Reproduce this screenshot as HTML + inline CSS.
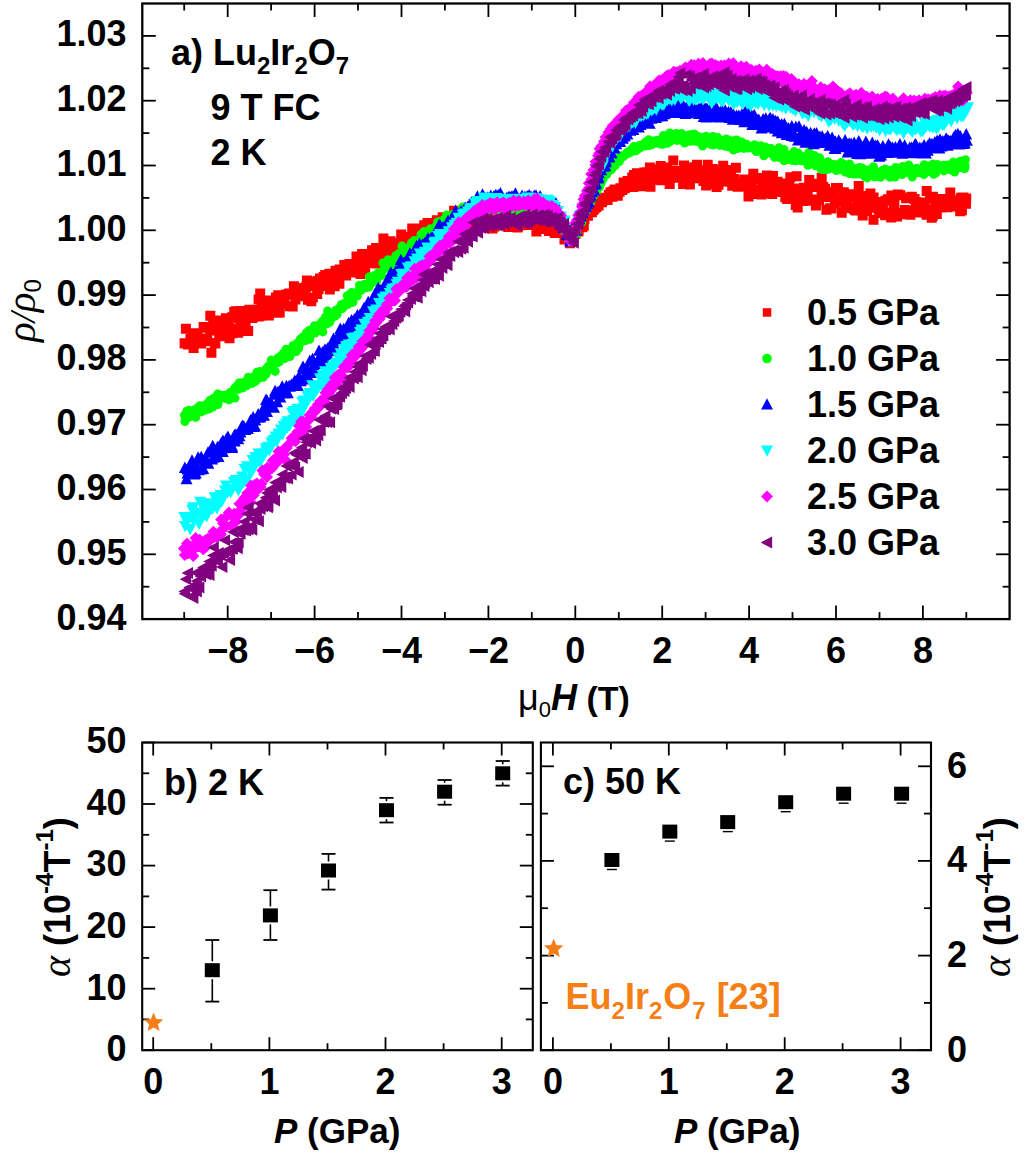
<!DOCTYPE html>
<html><head><meta charset="utf-8"><style>html,body{margin:0;padding:0;background:#fff;overflow:hidden}svg{display:block}</style></head>
<body><svg width="1025" height="1158" viewBox="0 0 1025 1158">
<rect width="1025" height="1158" fill="#fff"/>
<clipPath id="ca"><rect x="142.3" y="3.5" width="867.3" height="615.6"/></clipPath>
<g clip-path="url(#ca)">
<path fill="#ff0000" d="M179.6 338.3h10.0v10.0h-10.0zM180.9 323.7h10.0v10.0h-10.0zM185.4 334.0h10.0v10.0h-10.0zM187.3 330.1h10.0v10.0h-10.0zM189.7 328.3h10.0v10.0h-10.0zM192.3 331.0h10.0v10.0h-10.0zM194.7 333.4h10.0v10.0h-10.0zM198.6 322.1h10.0v10.0h-10.0zM201.2 322.8h10.0v10.0h-10.0zM202.2 333.9h10.0v10.0h-10.0zM205.3 310.7h10.0v10.0h-10.0zM208.2 317.0h10.0v10.0h-10.0zM211.4 325.0h10.0v10.0h-10.0zM211.8 315.5h10.0v10.0h-10.0zM216.4 321.6h10.0v10.0h-10.0zM219.5 318.6h10.0v10.0h-10.0zM220.9 313.2h10.0v10.0h-10.0zM223.7 322.8h10.0v10.0h-10.0zM227.1 312.3h10.0v10.0h-10.0zM229.2 306.9h10.0v10.0h-10.0zM230.8 306.2h10.0v10.0h-10.0zM233.5 313.5h10.0v10.0h-10.0zM236.2 306.1h10.0v10.0h-10.0zM238.6 318.0h10.0v10.0h-10.0zM242.0 309.2h10.0v10.0h-10.0zM244.3 304.8h10.0v10.0h-10.0zM247.3 312.9h10.0v10.0h-10.0zM250.3 305.1h10.0v10.0h-10.0zM253.6 294.5h10.0v10.0h-10.0zM255.2 288.6h10.0v10.0h-10.0zM256.6 297.0h10.0v10.0h-10.0zM261.2 295.5h10.0v10.0h-10.0zM262.9 303.6h10.0v10.0h-10.0zM266.3 303.7h10.0v10.0h-10.0zM267.9 303.7h10.0v10.0h-10.0zM271.0 292.5h10.0v10.0h-10.0zM273.3 290.3h10.0v10.0h-10.0zM276.0 296.5h10.0v10.0h-10.0zM279.4 298.4h10.0v10.0h-10.0zM280.9 289.7h10.0v10.0h-10.0zM284.0 288.4h10.0v10.0h-10.0zM286.6 289.6h10.0v10.0h-10.0zM288.9 281.3h10.0v10.0h-10.0zM290.4 287.4h10.0v10.0h-10.0zM294.5 286.2h10.0v10.0h-10.0zM295.2 290.5h10.0v10.0h-10.0zM298.7 282.9h10.0v10.0h-10.0zM301.9 275.5h10.0v10.0h-10.0zM305.1 281.0h10.0v10.0h-10.0zM307.9 279.7h10.0v10.0h-10.0zM310.5 276.6h10.0v10.0h-10.0zM313.0 276.1h10.0v10.0h-10.0zM315.0 273.5h10.0v10.0h-10.0zM318.6 272.0h10.0v10.0h-10.0zM320.3 270.1h10.0v10.0h-10.0zM323.8 276.0h10.0v10.0h-10.0zM324.4 268.8h10.0v10.0h-10.0zM327.8 277.1h10.0v10.0h-10.0zM330.6 265.8h10.0v10.0h-10.0zM333.6 272.2h10.0v10.0h-10.0zM334.7 264.4h10.0v10.0h-10.0zM339.3 260.0h10.0v10.0h-10.0zM342.0 263.1h10.0v10.0h-10.0zM344.5 258.9h10.0v10.0h-10.0zM346.3 266.4h10.0v10.0h-10.0zM350.1 260.9h10.0v10.0h-10.0zM351.5 251.5h10.0v10.0h-10.0zM355.0 259.7h10.0v10.0h-10.0zM357.1 249.0h10.0v10.0h-10.0zM359.7 258.2h10.0v10.0h-10.0zM362.2 254.4h10.0v10.0h-10.0zM364.9 254.0h10.0v10.0h-10.0zM368.2 247.0h10.0v10.0h-10.0zM371.1 242.9h10.0v10.0h-10.0zM373.7 249.9h10.0v10.0h-10.0zM376.0 244.0h10.0v10.0h-10.0zM378.4 233.4h10.0v10.0h-10.0zM380.9 242.2h10.0v10.0h-10.0zM384.3 243.6h10.0v10.0h-10.0zM385.6 236.2h10.0v10.0h-10.0zM388.1 238.2h10.0v10.0h-10.0zM391.1 239.6h10.0v10.0h-10.0zM392.7 244.1h10.0v10.0h-10.0zM396.2 229.5h10.0v10.0h-10.0zM398.9 235.8h10.0v10.0h-10.0zM401.0 231.9h10.0v10.0h-10.0zM403.8 236.6h10.0v10.0h-10.0zM407.2 223.5h10.0v10.0h-10.0zM409.3 225.5h10.0v10.0h-10.0zM412.1 223.4h10.0v10.0h-10.0zM415.3 228.0h10.0v10.0h-10.0zM416.9 223.8h10.0v10.0h-10.0zM419.2 220.2h10.0v10.0h-10.0zM422.5 218.0h10.0v10.0h-10.0zM425.4 220.0h10.0v10.0h-10.0zM426.6 220.2h10.0v10.0h-10.0zM430.7 220.1h10.0v10.0h-10.0zM432.8 220.6h10.0v10.0h-10.0zM435.3 220.3h10.0v10.0h-10.0zM437.7 212.3h10.0v10.0h-10.0zM440.7 214.7h10.0v10.0h-10.0zM444.0 223.0h10.0v10.0h-10.0zM446.4 212.7h10.0v10.0h-10.0zM449.1 205.7h10.0v10.0h-10.0zM451.1 211.9h10.0v10.0h-10.0zM454.8 219.5h10.0v10.0h-10.0zM457.3 210.0h10.0v10.0h-10.0zM459.1 204.8h10.0v10.0h-10.0zM460.2 207.4h10.0v10.0h-10.0zM464.4 210.4h10.0v10.0h-10.0zM468.6 199.0h10.0v10.0h-10.0zM469.6 199.0h10.0v10.0h-10.0zM471.6 208.7h10.0v10.0h-10.0zM475.8 204.7h10.0v10.0h-10.0zM477.1 207.0h10.0v10.0h-10.0zM480.4 205.6h10.0v10.0h-10.0zM483.1 203.3h10.0v10.0h-10.0zM484.4 206.4h10.0v10.0h-10.0zM488.0 209.8h10.0v10.0h-10.0zM491.2 213.1h10.0v10.0h-10.0zM492.9 214.0h10.0v10.0h-10.0zM496.1 211.5h10.0v10.0h-10.0zM498.4 207.9h10.0v10.0h-10.0zM501.6 211.3h10.0v10.0h-10.0zM504.7 212.5h10.0v10.0h-10.0zM505.6 212.2h10.0v10.0h-10.0zM508.7 213.1h10.0v10.0h-10.0zM511.7 211.7h10.0v10.0h-10.0zM513.7 217.1h10.0v10.0h-10.0zM516.2 220.0h10.0v10.0h-10.0zM519.1 215.4h10.0v10.0h-10.0zM521.7 217.9h10.0v10.0h-10.0zM524.1 209.5h10.0v10.0h-10.0zM527.3 215.3h10.0v10.0h-10.0zM530.2 215.9h10.0v10.0h-10.0zM532.8 220.3h10.0v10.0h-10.0zM535.4 215.0h10.0v10.0h-10.0zM538.3 218.2h10.0v10.0h-10.0zM539.4 213.2h10.0v10.0h-10.0zM542.8 214.6h10.0v10.0h-10.0zM545.6 220.2h10.0v10.0h-10.0zM548.4 217.2h10.0v10.0h-10.0zM549.7 227.9h10.0v10.0h-10.0zM554.4 222.6h10.0v10.0h-10.0zM555.4 218.0h10.0v10.0h-10.0zM558.7 221.0h10.0v10.0h-10.0zM561.6 225.7h10.0v10.0h-10.0zM564.4 228.9h10.0v10.0h-10.0zM566.0 234.1h10.0v10.0h-10.0zM568.7 232.4h10.0v10.0h-10.0zM571.8 226.7h10.0v10.0h-10.0zM574.6 221.6h10.0v10.0h-10.0zM577.4 222.3h10.0v10.0h-10.0zM579.4 213.9h10.0v10.0h-10.0zM581.7 209.7h10.0v10.0h-10.0zM583.9 205.9h10.0v10.0h-10.0zM588.4 205.1h10.0v10.0h-10.0zM589.1 201.8h10.0v10.0h-10.0zM593.0 198.4h10.0v10.0h-10.0zM595.3 197.3h10.0v10.0h-10.0zM598.2 195.3h10.0v10.0h-10.0zM601.0 192.8h10.0v10.0h-10.0zM603.8 189.8h10.0v10.0h-10.0zM605.6 187.2h10.0v10.0h-10.0zM608.5 186.3h10.0v10.0h-10.0zM609.7 184.5h10.0v10.0h-10.0zM613.5 184.5h10.0v10.0h-10.0zM615.5 183.2h10.0v10.0h-10.0zM618.6 177.5h10.0v10.0h-10.0zM622.1 178.6h10.0v10.0h-10.0zM624.0 177.0h10.0v10.0h-10.0zM627.2 172.6h10.0v10.0h-10.0zM629.0 170.0h10.0v10.0h-10.0zM632.0 168.2h10.0v10.0h-10.0zM634.1 169.3h10.0v10.0h-10.0zM635.5 169.5h10.0v10.0h-10.0zM639.2 167.5h10.0v10.0h-10.0zM642.1 167.3h10.0v10.0h-10.0zM644.9 162.6h10.0v10.0h-10.0zM647.5 166.3h10.0v10.0h-10.0zM650.0 164.6h10.0v10.0h-10.0zM653.3 166.9h10.0v10.0h-10.0zM655.7 161.0h10.0v10.0h-10.0zM657.7 174.9h10.0v10.0h-10.0zM661.1 164.5h10.0v10.0h-10.0zM662.0 162.6h10.0v10.0h-10.0zM665.6 171.0h10.0v10.0h-10.0zM668.3 155.5h10.0v10.0h-10.0zM671.8 166.1h10.0v10.0h-10.0zM673.3 166.1h10.0v10.0h-10.0zM675.4 170.6h10.0v10.0h-10.0zM679.0 160.5h10.0v10.0h-10.0zM682.5 164.0h10.0v10.0h-10.0zM684.0 168.4h10.0v10.0h-10.0zM686.6 164.3h10.0v10.0h-10.0zM689.2 162.2h10.0v10.0h-10.0zM692.0 159.7h10.0v10.0h-10.0zM695.3 165.2h10.0v10.0h-10.0zM698.3 171.6h10.0v10.0h-10.0zM700.1 169.8h10.0v10.0h-10.0zM702.3 179.1h10.0v10.0h-10.0zM706.1 171.2h10.0v10.0h-10.0zM707.7 163.9h10.0v10.0h-10.0zM710.3 165.6h10.0v10.0h-10.0zM712.7 168.9h10.0v10.0h-10.0zM715.3 170.5h10.0v10.0h-10.0zM718.2 160.8h10.0v10.0h-10.0zM720.5 167.9h10.0v10.0h-10.0zM723.6 165.0h10.0v10.0h-10.0zM726.0 168.1h10.0v10.0h-10.0zM728.9 174.0h10.0v10.0h-10.0zM730.9 162.8h10.0v10.0h-10.0zM733.7 177.7h10.0v10.0h-10.0zM736.6 177.9h10.0v10.0h-10.0zM739.1 174.4h10.0v10.0h-10.0zM741.7 176.3h10.0v10.0h-10.0zM745.0 175.9h10.0v10.0h-10.0zM746.2 176.5h10.0v10.0h-10.0zM748.3 168.7h10.0v10.0h-10.0zM752.5 174.0h10.0v10.0h-10.0zM754.6 172.9h10.0v10.0h-10.0zM758.1 183.4h10.0v10.0h-10.0zM759.9 180.0h10.0v10.0h-10.0zM761.9 170.5h10.0v10.0h-10.0zM766.5 182.9h10.0v10.0h-10.0zM768.0 171.1h10.0v10.0h-10.0zM770.1 183.1h10.0v10.0h-10.0zM772.6 176.8h10.0v10.0h-10.0zM776.0 183.3h10.0v10.0h-10.0zM777.9 178.4h10.0v10.0h-10.0zM781.1 184.6h10.0v10.0h-10.0zM784.2 181.8h10.0v10.0h-10.0zM785.3 172.3h10.0v10.0h-10.0zM788.5 183.4h10.0v10.0h-10.0zM791.6 171.3h10.0v10.0h-10.0zM794.9 184.7h10.0v10.0h-10.0zM797.1 188.9h10.0v10.0h-10.0zM798.9 182.8h10.0v10.0h-10.0zM802.7 185.8h10.0v10.0h-10.0zM804.2 174.9h10.0v10.0h-10.0zM806.9 180.0h10.0v10.0h-10.0zM809.9 178.7h10.0v10.0h-10.0zM811.6 182.0h10.0v10.0h-10.0zM816.7 172.9h10.0v10.0h-10.0zM818.2 182.0h10.0v10.0h-10.0zM820.2 183.8h10.0v10.0h-10.0zM822.4 191.3h10.0v10.0h-10.0zM824.6 192.1h10.0v10.0h-10.0zM828.2 186.9h10.0v10.0h-10.0zM831.0 183.1h10.0v10.0h-10.0zM832.9 183.0h10.0v10.0h-10.0zM835.7 194.2h10.0v10.0h-10.0zM838.8 187.2h10.0v10.0h-10.0zM841.0 189.6h10.0v10.0h-10.0zM842.5 197.0h10.0v10.0h-10.0zM846.7 189.2h10.0v10.0h-10.0zM849.0 204.3h10.0v10.0h-10.0zM851.9 191.9h10.0v10.0h-10.0zM853.7 181.1h10.0v10.0h-10.0zM855.5 199.8h10.0v10.0h-10.0zM858.6 195.0h10.0v10.0h-10.0zM862.1 205.4h10.0v10.0h-10.0zM865.8 199.9h10.0v10.0h-10.0zM868.6 192.4h10.0v10.0h-10.0zM870.0 202.0h10.0v10.0h-10.0zM871.5 196.9h10.0v10.0h-10.0zM874.8 198.6h10.0v10.0h-10.0zM877.9 198.7h10.0v10.0h-10.0zM880.5 195.8h10.0v10.0h-10.0zM882.9 194.3h10.0v10.0h-10.0zM886.3 190.4h10.0v10.0h-10.0zM887.6 192.5h10.0v10.0h-10.0zM889.4 199.7h10.0v10.0h-10.0zM892.8 189.5h10.0v10.0h-10.0zM895.3 190.3h10.0v10.0h-10.0zM899.9 204.9h10.0v10.0h-10.0zM901.1 193.3h10.0v10.0h-10.0zM903.0 192.5h10.0v10.0h-10.0zM906.8 191.8h10.0v10.0h-10.0zM909.6 194.0h10.0v10.0h-10.0zM911.7 203.5h10.0v10.0h-10.0zM914.4 198.2h10.0v10.0h-10.0zM917.5 207.5h10.0v10.0h-10.0zM919.8 197.6h10.0v10.0h-10.0zM921.7 186.1h10.0v10.0h-10.0zM925.1 192.9h10.0v10.0h-10.0zM927.9 191.8h10.0v10.0h-10.0zM930.2 198.4h10.0v10.0h-10.0zM933.1 200.6h10.0v10.0h-10.0zM935.5 200.5h10.0v10.0h-10.0zM937.7 193.9h10.0v10.0h-10.0zM940.3 198.3h10.0v10.0h-10.0zM943.4 197.1h10.0v10.0h-10.0zM945.3 187.5h10.0v10.0h-10.0zM949.0 201.6h10.0v10.0h-10.0zM951.6 199.6h10.0v10.0h-10.0zM952.3 195.2h10.0v10.0h-10.0zM956.1 192.7h10.0v10.0h-10.0zM958.3 192.6h10.0v10.0h-10.0zM961.0 198.8h10.0v10.0h-10.0zM180.6 338.6h10.0v10.0h-10.0zM183.1 339.6h10.0v10.0h-10.0zM186.1 336.3h10.0v10.0h-10.0zM188.6 343.0h10.0v10.0h-10.0zM191.2 335.4h10.0v10.0h-10.0zM193.2 334.7h10.0v10.0h-10.0zM196.0 338.4h10.0v10.0h-10.0zM199.7 335.3h10.0v10.0h-10.0zM200.0 336.2h10.0v10.0h-10.0zM205.1 325.4h10.0v10.0h-10.0zM206.4 347.7h10.0v10.0h-10.0zM210.0 338.1h10.0v10.0h-10.0zM210.4 338.5h10.0v10.0h-10.0zM214.3 330.7h10.0v10.0h-10.0zM217.7 331.3h10.0v10.0h-10.0zM219.9 329.0h10.0v10.0h-10.0zM223.0 322.1h10.0v10.0h-10.0zM224.5 333.3h10.0v10.0h-10.0zM227.3 328.2h10.0v10.0h-10.0zM229.9 323.9h10.0v10.0h-10.0zM233.2 327.8h10.0v10.0h-10.0zM235.8 318.5h10.0v10.0h-10.0zM238.0 317.5h10.0v10.0h-10.0zM240.6 321.7h10.0v10.0h-10.0zM243.2 326.0h10.0v10.0h-10.0zM246.0 307.3h10.0v10.0h-10.0zM248.0 311.9h10.0v10.0h-10.0zM251.1 310.9h10.0v10.0h-10.0zM253.7 311.5h10.0v10.0h-10.0zM256.1 310.7h10.0v10.0h-10.0zM258.7 305.2h10.0v10.0h-10.0zM262.5 308.4h10.0v10.0h-10.0zM263.9 310.4h10.0v10.0h-10.0zM267.1 302.3h10.0v10.0h-10.0zM270.3 304.6h10.0v10.0h-10.0zM272.6 307.8h10.0v10.0h-10.0zM274.7 307.4h10.0v10.0h-10.0zM277.9 295.6h10.0v10.0h-10.0zM279.1 297.4h10.0v10.0h-10.0zM281.8 289.4h10.0v10.0h-10.0zM284.9 301.3h10.0v10.0h-10.0zM287.7 301.4h10.0v10.0h-10.0zM290.4 294.4h10.0v10.0h-10.0zM294.2 288.3h10.0v10.0h-10.0zM296.7 291.3h10.0v10.0h-10.0zM298.2 291.0h10.0v10.0h-10.0zM301.0 282.3h10.0v10.0h-10.0zM303.0 294.8h10.0v10.0h-10.0zM306.3 296.3h10.0v10.0h-10.0zM307.9 292.4h10.0v10.0h-10.0zM312.2 288.9h10.0v10.0h-10.0zM313.6 284.0h10.0v10.0h-10.0zM316.9 279.3h10.0v10.0h-10.0zM318.4 281.0h10.0v10.0h-10.0zM322.6 273.8h10.0v10.0h-10.0zM324.8 284.4h10.0v10.0h-10.0zM328.2 268.7h10.0v10.0h-10.0zM329.7 281.3h10.0v10.0h-10.0zM331.3 269.4h10.0v10.0h-10.0zM334.4 278.8h10.0v10.0h-10.0zM336.7 270.6h10.0v10.0h-10.0zM341.1 270.5h10.0v10.0h-10.0zM342.4 266.6h10.0v10.0h-10.0zM344.9 263.8h10.0v10.0h-10.0zM348.3 267.4h10.0v10.0h-10.0zM350.7 265.2h10.0v10.0h-10.0zM353.5 262.2h10.0v10.0h-10.0zM355.5 268.9h10.0v10.0h-10.0zM357.2 264.5h10.0v10.0h-10.0zM360.2 267.8h10.0v10.0h-10.0zM362.3 258.0h10.0v10.0h-10.0zM367.0 245.2h10.0v10.0h-10.0zM369.4 251.6h10.0v10.0h-10.0zM371.3 258.6h10.0v10.0h-10.0zM374.5 256.5h10.0v10.0h-10.0zM377.1 246.5h10.0v10.0h-10.0zM379.7 252.7h10.0v10.0h-10.0zM382.3 257.4h10.0v10.0h-10.0zM385.1 253.2h10.0v10.0h-10.0zM387.2 252.2h10.0v10.0h-10.0zM388.5 250.8h10.0v10.0h-10.0zM390.8 240.9h10.0v10.0h-10.0zM395.8 243.0h10.0v10.0h-10.0zM398.0 250.1h10.0v10.0h-10.0zM398.8 244.2h10.0v10.0h-10.0zM403.0 246.5h10.0v10.0h-10.0zM405.0 246.0h10.0v10.0h-10.0zM407.8 246.7h10.0v10.0h-10.0zM409.2 229.0h10.0v10.0h-10.0zM413.8 238.6h10.0v10.0h-10.0zM415.9 233.0h10.0v10.0h-10.0zM419.1 230.2h10.0v10.0h-10.0zM421.9 235.2h10.0v10.0h-10.0zM424.6 228.8h10.0v10.0h-10.0zM427.4 227.0h10.0v10.0h-10.0zM429.2 227.0h10.0v10.0h-10.0zM431.8 215.3h10.0v10.0h-10.0zM433.9 223.6h10.0v10.0h-10.0zM437.2 225.0h10.0v10.0h-10.0zM439.4 219.5h10.0v10.0h-10.0zM441.4 212.9h10.0v10.0h-10.0zM445.5 216.2h10.0v10.0h-10.0zM447.8 223.1h10.0v10.0h-10.0zM448.4 224.4h10.0v10.0h-10.0zM451.5 224.1h10.0v10.0h-10.0zM455.1 222.1h10.0v10.0h-10.0zM457.0 216.2h10.0v10.0h-10.0zM461.2 213.3h10.0v10.0h-10.0zM463.2 228.9h10.0v10.0h-10.0zM466.0 217.0h10.0v10.0h-10.0zM468.9 222.0h10.0v10.0h-10.0zM471.7 213.3h10.0v10.0h-10.0zM473.4 212.2h10.0v10.0h-10.0zM476.5 219.9h10.0v10.0h-10.0zM478.9 218.5h10.0v10.0h-10.0zM481.9 220.6h10.0v10.0h-10.0zM484.3 215.1h10.0v10.0h-10.0zM487.5 223.4h10.0v10.0h-10.0zM489.5 221.5h10.0v10.0h-10.0zM491.5 219.9h10.0v10.0h-10.0zM494.5 213.1h10.0v10.0h-10.0zM496.4 209.4h10.0v10.0h-10.0zM499.9 217.9h10.0v10.0h-10.0zM503.2 222.1h10.0v10.0h-10.0zM504.6 218.1h10.0v10.0h-10.0zM506.5 221.2h10.0v10.0h-10.0zM510.1 217.3h10.0v10.0h-10.0zM512.5 222.4h10.0v10.0h-10.0zM515.4 220.3h10.0v10.0h-10.0zM517.6 219.4h10.0v10.0h-10.0zM520.7 218.0h10.0v10.0h-10.0zM522.6 220.1h10.0v10.0h-10.0zM526.8 216.2h10.0v10.0h-10.0zM528.3 220.0h10.0v10.0h-10.0zM531.4 226.4h10.0v10.0h-10.0zM534.2 218.2h10.0v10.0h-10.0zM536.2 222.4h10.0v10.0h-10.0zM539.2 224.0h10.0v10.0h-10.0zM541.4 217.7h10.0v10.0h-10.0zM543.9 226.0h10.0v10.0h-10.0zM546.6 223.3h10.0v10.0h-10.0zM549.7 226.6h10.0v10.0h-10.0zM551.2 221.2h10.0v10.0h-10.0zM554.1 227.7h10.0v10.0h-10.0zM556.7 227.3h10.0v10.0h-10.0zM559.5 234.6h10.0v10.0h-10.0zM563.2 228.6h10.0v10.0h-10.0zM565.1 238.3h10.0v10.0h-10.0zM567.5 231.8h10.0v10.0h-10.0zM570.4 228.9h10.0v10.0h-10.0zM573.6 226.3h10.0v10.0h-10.0zM575.1 221.7h10.0v10.0h-10.0zM578.8 220.8h10.0v10.0h-10.0zM579.4 214.2h10.0v10.0h-10.0zM582.9 210.8h10.0v10.0h-10.0zM586.9 207.3h10.0v10.0h-10.0zM589.6 203.4h10.0v10.0h-10.0zM591.4 201.9h10.0v10.0h-10.0zM593.6 200.5h10.0v10.0h-10.0zM597.0 197.2h10.0v10.0h-10.0zM598.8 192.9h10.0v10.0h-10.0zM602.6 195.0h10.0v10.0h-10.0zM605.0 191.4h10.0v10.0h-10.0zM607.4 191.8h10.0v10.0h-10.0zM609.1 186.6h10.0v10.0h-10.0zM612.8 190.7h10.0v10.0h-10.0zM614.6 186.8h10.0v10.0h-10.0zM617.3 185.1h10.0v10.0h-10.0zM619.8 183.2h10.0v10.0h-10.0zM622.6 176.1h10.0v10.0h-10.0zM625.6 176.4h10.0v10.0h-10.0zM628.4 181.9h10.0v10.0h-10.0zM631.0 171.5h10.0v10.0h-10.0zM635.2 180.0h10.0v10.0h-10.0zM635.5 181.2h10.0v10.0h-10.0zM639.0 179.4h10.0v10.0h-10.0zM640.6 173.4h10.0v10.0h-10.0zM643.5 172.0h10.0v10.0h-10.0zM645.5 181.8h10.0v10.0h-10.0zM649.5 172.1h10.0v10.0h-10.0zM651.6 174.7h10.0v10.0h-10.0zM654.1 170.9h10.0v10.0h-10.0zM656.6 175.2h10.0v10.0h-10.0zM659.8 169.8h10.0v10.0h-10.0zM661.6 171.2h10.0v10.0h-10.0zM664.7 179.0h10.0v10.0h-10.0zM668.6 167.1h10.0v10.0h-10.0zM669.7 172.8h10.0v10.0h-10.0zM672.0 170.3h10.0v10.0h-10.0zM674.4 167.6h10.0v10.0h-10.0zM678.1 179.0h10.0v10.0h-10.0zM680.2 174.6h10.0v10.0h-10.0zM682.4 178.5h10.0v10.0h-10.0zM684.9 179.4h10.0v10.0h-10.0zM688.1 173.3h10.0v10.0h-10.0zM690.1 173.2h10.0v10.0h-10.0zM694.6 168.3h10.0v10.0h-10.0zM695.8 168.4h10.0v10.0h-10.0zM698.4 175.9h10.0v10.0h-10.0zM701.1 180.4h10.0v10.0h-10.0zM702.7 159.8h10.0v10.0h-10.0zM705.5 165.5h10.0v10.0h-10.0zM708.8 177.5h10.0v10.0h-10.0zM711.6 182.1h10.0v10.0h-10.0zM713.5 179.8h10.0v10.0h-10.0zM717.9 176.5h10.0v10.0h-10.0zM719.7 172.4h10.0v10.0h-10.0zM722.8 173.6h10.0v10.0h-10.0zM725.4 176.8h10.0v10.0h-10.0zM727.2 180.7h10.0v10.0h-10.0zM731.4 178.9h10.0v10.0h-10.0zM732.6 181.8h10.0v10.0h-10.0zM734.0 180.2h10.0v10.0h-10.0zM736.3 181.5h10.0v10.0h-10.0zM740.4 178.7h10.0v10.0h-10.0zM743.5 191.6h10.0v10.0h-10.0zM745.6 184.1h10.0v10.0h-10.0zM749.3 184.2h10.0v10.0h-10.0zM750.7 189.0h10.0v10.0h-10.0zM753.8 184.5h10.0v10.0h-10.0zM756.5 189.5h10.0v10.0h-10.0zM758.1 187.9h10.0v10.0h-10.0zM761.5 186.5h10.0v10.0h-10.0zM764.1 186.8h10.0v10.0h-10.0zM767.2 189.0h10.0v10.0h-10.0zM769.9 180.8h10.0v10.0h-10.0zM772.4 186.1h10.0v10.0h-10.0zM773.9 186.0h10.0v10.0h-10.0zM777.4 187.0h10.0v10.0h-10.0zM780.3 192.2h10.0v10.0h-10.0zM782.2 193.9h10.0v10.0h-10.0zM785.3 185.4h10.0v10.0h-10.0zM787.9 192.1h10.0v10.0h-10.0zM790.8 199.9h10.0v10.0h-10.0zM792.7 202.6h10.0v10.0h-10.0zM795.6 190.5h10.0v10.0h-10.0zM798.0 195.9h10.0v10.0h-10.0zM800.6 192.8h10.0v10.0h-10.0zM802.8 195.8h10.0v10.0h-10.0zM805.6 195.4h10.0v10.0h-10.0zM807.7 194.6h10.0v10.0h-10.0zM810.9 200.6h10.0v10.0h-10.0zM814.0 194.7h10.0v10.0h-10.0zM816.6 189.9h10.0v10.0h-10.0zM819.3 191.8h10.0v10.0h-10.0zM821.4 204.8h10.0v10.0h-10.0zM824.9 203.2h10.0v10.0h-10.0zM826.4 203.6h10.0v10.0h-10.0zM829.8 198.4h10.0v10.0h-10.0zM832.2 193.2h10.0v10.0h-10.0zM834.1 196.4h10.0v10.0h-10.0zM836.7 207.8h10.0v10.0h-10.0zM840.2 199.0h10.0v10.0h-10.0zM842.4 195.8h10.0v10.0h-10.0zM845.2 203.0h10.0v10.0h-10.0zM849.5 191.4h10.0v10.0h-10.0zM850.6 205.4h10.0v10.0h-10.0zM852.9 196.6h10.0v10.0h-10.0zM855.9 191.1h10.0v10.0h-10.0zM857.7 210.5h10.0v10.0h-10.0zM860.6 206.1h10.0v10.0h-10.0zM863.6 201.9h10.0v10.0h-10.0zM865.4 188.6h10.0v10.0h-10.0zM868.5 214.8h10.0v10.0h-10.0zM871.0 202.8h10.0v10.0h-10.0zM873.8 204.4h10.0v10.0h-10.0zM875.3 208.0h10.0v10.0h-10.0zM880.1 210.2h10.0v10.0h-10.0zM881.6 208.6h10.0v10.0h-10.0zM884.6 207.4h10.0v10.0h-10.0zM886.2 212.4h10.0v10.0h-10.0zM888.7 197.7h10.0v10.0h-10.0zM892.1 211.6h10.0v10.0h-10.0zM894.5 208.1h10.0v10.0h-10.0zM897.7 209.3h10.0v10.0h-10.0zM899.4 208.0h10.0v10.0h-10.0zM902.0 205.4h10.0v10.0h-10.0zM905.4 209.8h10.0v10.0h-10.0zM908.2 207.1h10.0v10.0h-10.0zM910.9 196.9h10.0v10.0h-10.0zM913.0 200.4h10.0v10.0h-10.0zM915.8 207.4h10.0v10.0h-10.0zM917.8 201.2h10.0v10.0h-10.0zM921.6 209.8h10.0v10.0h-10.0zM924.2 204.4h10.0v10.0h-10.0zM926.7 212.8h10.0v10.0h-10.0zM927.7 211.0h10.0v10.0h-10.0zM931.8 209.1h10.0v10.0h-10.0zM933.5 197.8h10.0v10.0h-10.0zM936.8 202.6h10.0v10.0h-10.0zM939.4 200.6h10.0v10.0h-10.0zM942.5 202.2h10.0v10.0h-10.0zM944.3 200.8h10.0v10.0h-10.0zM946.8 200.2h10.0v10.0h-10.0zM949.0 198.1h10.0v10.0h-10.0zM951.5 200.9h10.0v10.0h-10.0zM955.2 206.2h10.0v10.0h-10.0zM956.9 205.2h10.0v10.0h-10.0zM960.5 194.5h10.0v10.0h-10.0zM961.2 193.4h10.0v10.0h-10.0z"/>
<path fill="#00ff00" d="M179.9 415.3a4.5 4.5 0 1 0 9 0a4.5 4.5 0 1 0 -9 0zM182.2 411.2a4.5 4.5 0 1 0 9 0a4.5 4.5 0 1 0 -9 0zM184.5 410.2a4.5 4.5 0 1 0 9 0a4.5 4.5 0 1 0 -9 0zM186.9 412.6a4.5 4.5 0 1 0 9 0a4.5 4.5 0 1 0 -9 0zM190.3 409.8a4.5 4.5 0 1 0 9 0a4.5 4.5 0 1 0 -9 0zM192.6 408.3a4.5 4.5 0 1 0 9 0a4.5 4.5 0 1 0 -9 0zM195.2 405.7a4.5 4.5 0 1 0 9 0a4.5 4.5 0 1 0 -9 0zM197.9 407.1a4.5 4.5 0 1 0 9 0a4.5 4.5 0 1 0 -9 0zM200.3 405.2a4.5 4.5 0 1 0 9 0a4.5 4.5 0 1 0 -9 0zM203.1 403.3a4.5 4.5 0 1 0 9 0a4.5 4.5 0 1 0 -9 0zM205.5 400.3a4.5 4.5 0 1 0 9 0a4.5 4.5 0 1 0 -9 0zM208.5 398.6a4.5 4.5 0 1 0 9 0a4.5 4.5 0 1 0 -9 0zM210.3 399.9a4.5 4.5 0 1 0 9 0a4.5 4.5 0 1 0 -9 0zM213.1 394.1a4.5 4.5 0 1 0 9 0a4.5 4.5 0 1 0 -9 0zM216.4 395.2a4.5 4.5 0 1 0 9 0a4.5 4.5 0 1 0 -9 0zM218.9 396.1a4.5 4.5 0 1 0 9 0a4.5 4.5 0 1 0 -9 0zM221.7 396.1a4.5 4.5 0 1 0 9 0a4.5 4.5 0 1 0 -9 0zM225.4 392.6a4.5 4.5 0 1 0 9 0a4.5 4.5 0 1 0 -9 0zM227.3 394.7a4.5 4.5 0 1 0 9 0a4.5 4.5 0 1 0 -9 0zM230.1 388.2a4.5 4.5 0 1 0 9 0a4.5 4.5 0 1 0 -9 0zM232.3 385.9a4.5 4.5 0 1 0 9 0a4.5 4.5 0 1 0 -9 0zM234.6 382.9a4.5 4.5 0 1 0 9 0a4.5 4.5 0 1 0 -9 0zM236.8 382.7a4.5 4.5 0 1 0 9 0a4.5 4.5 0 1 0 -9 0zM238.8 385.4a4.5 4.5 0 1 0 9 0a4.5 4.5 0 1 0 -9 0zM241.7 380.9a4.5 4.5 0 1 0 9 0a4.5 4.5 0 1 0 -9 0zM243.8 377.3a4.5 4.5 0 1 0 9 0a4.5 4.5 0 1 0 -9 0zM247.1 381.1a4.5 4.5 0 1 0 9 0a4.5 4.5 0 1 0 -9 0zM249.4 376.8a4.5 4.5 0 1 0 9 0a4.5 4.5 0 1 0 -9 0zM252.4 372.2a4.5 4.5 0 1 0 9 0a4.5 4.5 0 1 0 -9 0zM255.6 371.5a4.5 4.5 0 1 0 9 0a4.5 4.5 0 1 0 -9 0zM258.0 373.6a4.5 4.5 0 1 0 9 0a4.5 4.5 0 1 0 -9 0zM261.4 368.9a4.5 4.5 0 1 0 9 0a4.5 4.5 0 1 0 -9 0zM264.0 366.0a4.5 4.5 0 1 0 9 0a4.5 4.5 0 1 0 -9 0zM266.7 360.1a4.5 4.5 0 1 0 9 0a4.5 4.5 0 1 0 -9 0zM269.2 363.0a4.5 4.5 0 1 0 9 0a4.5 4.5 0 1 0 -9 0zM271.5 362.0a4.5 4.5 0 1 0 9 0a4.5 4.5 0 1 0 -9 0zM273.6 357.7a4.5 4.5 0 1 0 9 0a4.5 4.5 0 1 0 -9 0zM276.8 355.5a4.5 4.5 0 1 0 9 0a4.5 4.5 0 1 0 -9 0zM279.0 353.0a4.5 4.5 0 1 0 9 0a4.5 4.5 0 1 0 -9 0zM281.6 349.2a4.5 4.5 0 1 0 9 0a4.5 4.5 0 1 0 -9 0zM284.6 349.9a4.5 4.5 0 1 0 9 0a4.5 4.5 0 1 0 -9 0zM286.3 350.3a4.5 4.5 0 1 0 9 0a4.5 4.5 0 1 0 -9 0zM288.6 345.4a4.5 4.5 0 1 0 9 0a4.5 4.5 0 1 0 -9 0zM292.4 343.2a4.5 4.5 0 1 0 9 0a4.5 4.5 0 1 0 -9 0zM295.9 339.1a4.5 4.5 0 1 0 9 0a4.5 4.5 0 1 0 -9 0zM298.1 337.2a4.5 4.5 0 1 0 9 0a4.5 4.5 0 1 0 -9 0zM302.3 338.0a4.5 4.5 0 1 0 9 0a4.5 4.5 0 1 0 -9 0zM301.9 332.8a4.5 4.5 0 1 0 9 0a4.5 4.5 0 1 0 -9 0zM304.9 330.2a4.5 4.5 0 1 0 9 0a4.5 4.5 0 1 0 -9 0zM306.6 330.2a4.5 4.5 0 1 0 9 0a4.5 4.5 0 1 0 -9 0zM310.0 325.8a4.5 4.5 0 1 0 9 0a4.5 4.5 0 1 0 -9 0zM314.3 325.1a4.5 4.5 0 1 0 9 0a4.5 4.5 0 1 0 -9 0zM316.7 322.9a4.5 4.5 0 1 0 9 0a4.5 4.5 0 1 0 -9 0zM317.8 321.3a4.5 4.5 0 1 0 9 0a4.5 4.5 0 1 0 -9 0zM320.8 317.2a4.5 4.5 0 1 0 9 0a4.5 4.5 0 1 0 -9 0zM323.1 311.0a4.5 4.5 0 1 0 9 0a4.5 4.5 0 1 0 -9 0zM325.4 313.8a4.5 4.5 0 1 0 9 0a4.5 4.5 0 1 0 -9 0zM328.7 314.3a4.5 4.5 0 1 0 9 0a4.5 4.5 0 1 0 -9 0zM331.3 310.2a4.5 4.5 0 1 0 9 0a4.5 4.5 0 1 0 -9 0zM334.1 308.6a4.5 4.5 0 1 0 9 0a4.5 4.5 0 1 0 -9 0zM336.8 304.6a4.5 4.5 0 1 0 9 0a4.5 4.5 0 1 0 -9 0zM339.7 303.2a4.5 4.5 0 1 0 9 0a4.5 4.5 0 1 0 -9 0zM342.7 295.7a4.5 4.5 0 1 0 9 0a4.5 4.5 0 1 0 -9 0zM344.5 296.9a4.5 4.5 0 1 0 9 0a4.5 4.5 0 1 0 -9 0zM347.0 292.5a4.5 4.5 0 1 0 9 0a4.5 4.5 0 1 0 -9 0zM349.8 295.1a4.5 4.5 0 1 0 9 0a4.5 4.5 0 1 0 -9 0zM352.7 291.9a4.5 4.5 0 1 0 9 0a4.5 4.5 0 1 0 -9 0zM354.9 285.2a4.5 4.5 0 1 0 9 0a4.5 4.5 0 1 0 -9 0zM357.0 290.1a4.5 4.5 0 1 0 9 0a4.5 4.5 0 1 0 -9 0zM359.9 284.2a4.5 4.5 0 1 0 9 0a4.5 4.5 0 1 0 -9 0zM363.3 285.1a4.5 4.5 0 1 0 9 0a4.5 4.5 0 1 0 -9 0zM364.9 276.7a4.5 4.5 0 1 0 9 0a4.5 4.5 0 1 0 -9 0zM368.6 280.0a4.5 4.5 0 1 0 9 0a4.5 4.5 0 1 0 -9 0zM369.9 275.5a4.5 4.5 0 1 0 9 0a4.5 4.5 0 1 0 -9 0zM373.7 272.8a4.5 4.5 0 1 0 9 0a4.5 4.5 0 1 0 -9 0zM376.3 273.3a4.5 4.5 0 1 0 9 0a4.5 4.5 0 1 0 -9 0zM378.4 262.9a4.5 4.5 0 1 0 9 0a4.5 4.5 0 1 0 -9 0zM381.1 265.6a4.5 4.5 0 1 0 9 0a4.5 4.5 0 1 0 -9 0zM383.6 259.7a4.5 4.5 0 1 0 9 0a4.5 4.5 0 1 0 -9 0zM387.4 262.0a4.5 4.5 0 1 0 9 0a4.5 4.5 0 1 0 -9 0zM388.7 261.2a4.5 4.5 0 1 0 9 0a4.5 4.5 0 1 0 -9 0zM391.2 255.7a4.5 4.5 0 1 0 9 0a4.5 4.5 0 1 0 -9 0zM394.5 253.5a4.5 4.5 0 1 0 9 0a4.5 4.5 0 1 0 -9 0zM397.5 246.0a4.5 4.5 0 1 0 9 0a4.5 4.5 0 1 0 -9 0zM399.7 251.7a4.5 4.5 0 1 0 9 0a4.5 4.5 0 1 0 -9 0zM402.0 250.6a4.5 4.5 0 1 0 9 0a4.5 4.5 0 1 0 -9 0zM405.3 246.9a4.5 4.5 0 1 0 9 0a4.5 4.5 0 1 0 -9 0zM406.9 243.0a4.5 4.5 0 1 0 9 0a4.5 4.5 0 1 0 -9 0zM409.5 240.6a4.5 4.5 0 1 0 9 0a4.5 4.5 0 1 0 -9 0zM411.8 241.2a4.5 4.5 0 1 0 9 0a4.5 4.5 0 1 0 -9 0zM415.9 238.4a4.5 4.5 0 1 0 9 0a4.5 4.5 0 1 0 -9 0zM416.5 234.6a4.5 4.5 0 1 0 9 0a4.5 4.5 0 1 0 -9 0zM419.6 231.4a4.5 4.5 0 1 0 9 0a4.5 4.5 0 1 0 -9 0zM423.2 232.5a4.5 4.5 0 1 0 9 0a4.5 4.5 0 1 0 -9 0zM425.9 228.8a4.5 4.5 0 1 0 9 0a4.5 4.5 0 1 0 -9 0zM429.3 232.2a4.5 4.5 0 1 0 9 0a4.5 4.5 0 1 0 -9 0zM431.1 226.6a4.5 4.5 0 1 0 9 0a4.5 4.5 0 1 0 -9 0zM433.2 221.9a4.5 4.5 0 1 0 9 0a4.5 4.5 0 1 0 -9 0zM436.9 221.0a4.5 4.5 0 1 0 9 0a4.5 4.5 0 1 0 -9 0zM439.3 219.8a4.5 4.5 0 1 0 9 0a4.5 4.5 0 1 0 -9 0zM442.0 215.0a4.5 4.5 0 1 0 9 0a4.5 4.5 0 1 0 -9 0zM444.6 217.5a4.5 4.5 0 1 0 9 0a4.5 4.5 0 1 0 -9 0zM446.9 217.9a4.5 4.5 0 1 0 9 0a4.5 4.5 0 1 0 -9 0zM448.3 214.2a4.5 4.5 0 1 0 9 0a4.5 4.5 0 1 0 -9 0zM451.2 213.0a4.5 4.5 0 1 0 9 0a4.5 4.5 0 1 0 -9 0zM455.6 214.5a4.5 4.5 0 1 0 9 0a4.5 4.5 0 1 0 -9 0zM457.0 209.3a4.5 4.5 0 1 0 9 0a4.5 4.5 0 1 0 -9 0zM458.5 206.9a4.5 4.5 0 1 0 9 0a4.5 4.5 0 1 0 -9 0zM462.3 210.4a4.5 4.5 0 1 0 9 0a4.5 4.5 0 1 0 -9 0zM465.4 210.1a4.5 4.5 0 1 0 9 0a4.5 4.5 0 1 0 -9 0zM467.7 207.8a4.5 4.5 0 1 0 9 0a4.5 4.5 0 1 0 -9 0zM470.1 204.8a4.5 4.5 0 1 0 9 0a4.5 4.5 0 1 0 -9 0zM471.3 207.5a4.5 4.5 0 1 0 9 0a4.5 4.5 0 1 0 -9 0zM475.4 207.3a4.5 4.5 0 1 0 9 0a4.5 4.5 0 1 0 -9 0zM477.9 206.7a4.5 4.5 0 1 0 9 0a4.5 4.5 0 1 0 -9 0zM481.5 205.1a4.5 4.5 0 1 0 9 0a4.5 4.5 0 1 0 -9 0zM483.2 205.1a4.5 4.5 0 1 0 9 0a4.5 4.5 0 1 0 -9 0zM485.8 205.8a4.5 4.5 0 1 0 9 0a4.5 4.5 0 1 0 -9 0zM488.1 203.8a4.5 4.5 0 1 0 9 0a4.5 4.5 0 1 0 -9 0zM490.9 202.5a4.5 4.5 0 1 0 9 0a4.5 4.5 0 1 0 -9 0zM493.8 206.6a4.5 4.5 0 1 0 9 0a4.5 4.5 0 1 0 -9 0zM495.9 204.6a4.5 4.5 0 1 0 9 0a4.5 4.5 0 1 0 -9 0zM498.3 205.7a4.5 4.5 0 1 0 9 0a4.5 4.5 0 1 0 -9 0zM500.7 202.5a4.5 4.5 0 1 0 9 0a4.5 4.5 0 1 0 -9 0zM504.2 207.5a4.5 4.5 0 1 0 9 0a4.5 4.5 0 1 0 -9 0zM506.5 207.0a4.5 4.5 0 1 0 9 0a4.5 4.5 0 1 0 -9 0zM509.1 206.6a4.5 4.5 0 1 0 9 0a4.5 4.5 0 1 0 -9 0zM511.0 208.5a4.5 4.5 0 1 0 9 0a4.5 4.5 0 1 0 -9 0zM514.1 207.3a4.5 4.5 0 1 0 9 0a4.5 4.5 0 1 0 -9 0zM516.1 206.4a4.5 4.5 0 1 0 9 0a4.5 4.5 0 1 0 -9 0zM520.4 209.1a4.5 4.5 0 1 0 9 0a4.5 4.5 0 1 0 -9 0zM523.1 207.4a4.5 4.5 0 1 0 9 0a4.5 4.5 0 1 0 -9 0zM525.3 205.7a4.5 4.5 0 1 0 9 0a4.5 4.5 0 1 0 -9 0zM527.6 208.7a4.5 4.5 0 1 0 9 0a4.5 4.5 0 1 0 -9 0zM530.5 209.3a4.5 4.5 0 1 0 9 0a4.5 4.5 0 1 0 -9 0zM532.0 211.7a4.5 4.5 0 1 0 9 0a4.5 4.5 0 1 0 -9 0zM534.7 209.4a4.5 4.5 0 1 0 9 0a4.5 4.5 0 1 0 -9 0zM538.8 211.9a4.5 4.5 0 1 0 9 0a4.5 4.5 0 1 0 -9 0zM540.1 210.2a4.5 4.5 0 1 0 9 0a4.5 4.5 0 1 0 -9 0zM543.3 209.9a4.5 4.5 0 1 0 9 0a4.5 4.5 0 1 0 -9 0zM545.5 212.3a4.5 4.5 0 1 0 9 0a4.5 4.5 0 1 0 -9 0zM547.1 215.1a4.5 4.5 0 1 0 9 0a4.5 4.5 0 1 0 -9 0zM550.8 215.1a4.5 4.5 0 1 0 9 0a4.5 4.5 0 1 0 -9 0zM554.3 219.1a4.5 4.5 0 1 0 9 0a4.5 4.5 0 1 0 -9 0zM557.2 223.1a4.5 4.5 0 1 0 9 0a4.5 4.5 0 1 0 -9 0zM557.5 226.1a4.5 4.5 0 1 0 9 0a4.5 4.5 0 1 0 -9 0zM560.7 230.7a4.5 4.5 0 1 0 9 0a4.5 4.5 0 1 0 -9 0zM563.9 236.5a4.5 4.5 0 1 0 9 0a4.5 4.5 0 1 0 -9 0zM567.5 237.1a4.5 4.5 0 1 0 9 0a4.5 4.5 0 1 0 -9 0zM570.2 231.2a4.5 4.5 0 1 0 9 0a4.5 4.5 0 1 0 -9 0zM573.0 227.9a4.5 4.5 0 1 0 9 0a4.5 4.5 0 1 0 -9 0zM575.7 222.6a4.5 4.5 0 1 0 9 0a4.5 4.5 0 1 0 -9 0zM577.1 218.2a4.5 4.5 0 1 0 9 0a4.5 4.5 0 1 0 -9 0zM579.4 212.1a4.5 4.5 0 1 0 9 0a4.5 4.5 0 1 0 -9 0zM583.1 207.5a4.5 4.5 0 1 0 9 0a4.5 4.5 0 1 0 -9 0zM585.0 202.3a4.5 4.5 0 1 0 9 0a4.5 4.5 0 1 0 -9 0zM587.8 198.3a4.5 4.5 0 1 0 9 0a4.5 4.5 0 1 0 -9 0zM590.2 192.9a4.5 4.5 0 1 0 9 0a4.5 4.5 0 1 0 -9 0zM592.8 189.4a4.5 4.5 0 1 0 9 0a4.5 4.5 0 1 0 -9 0zM596.2 183.9a4.5 4.5 0 1 0 9 0a4.5 4.5 0 1 0 -9 0zM597.7 180.0a4.5 4.5 0 1 0 9 0a4.5 4.5 0 1 0 -9 0zM599.8 176.2a4.5 4.5 0 1 0 9 0a4.5 4.5 0 1 0 -9 0zM603.1 170.9a4.5 4.5 0 1 0 9 0a4.5 4.5 0 1 0 -9 0zM606.2 169.3a4.5 4.5 0 1 0 9 0a4.5 4.5 0 1 0 -9 0zM608.5 165.0a4.5 4.5 0 1 0 9 0a4.5 4.5 0 1 0 -9 0zM611.2 161.8a4.5 4.5 0 1 0 9 0a4.5 4.5 0 1 0 -9 0zM612.8 158.5a4.5 4.5 0 1 0 9 0a4.5 4.5 0 1 0 -9 0zM616.0 155.7a4.5 4.5 0 1 0 9 0a4.5 4.5 0 1 0 -9 0zM619.8 155.9a4.5 4.5 0 1 0 9 0a4.5 4.5 0 1 0 -9 0zM621.7 153.1a4.5 4.5 0 1 0 9 0a4.5 4.5 0 1 0 -9 0zM624.0 151.5a4.5 4.5 0 1 0 9 0a4.5 4.5 0 1 0 -9 0zM627.7 148.4a4.5 4.5 0 1 0 9 0a4.5 4.5 0 1 0 -9 0zM629.3 146.6a4.5 4.5 0 1 0 9 0a4.5 4.5 0 1 0 -9 0zM632.7 146.6a4.5 4.5 0 1 0 9 0a4.5 4.5 0 1 0 -9 0zM635.0 145.5a4.5 4.5 0 1 0 9 0a4.5 4.5 0 1 0 -9 0zM637.7 144.9a4.5 4.5 0 1 0 9 0a4.5 4.5 0 1 0 -9 0zM640.7 142.2a4.5 4.5 0 1 0 9 0a4.5 4.5 0 1 0 -9 0zM644.1 139.7a4.5 4.5 0 1 0 9 0a4.5 4.5 0 1 0 -9 0zM646.1 140.7a4.5 4.5 0 1 0 9 0a4.5 4.5 0 1 0 -9 0zM647.4 141.5a4.5 4.5 0 1 0 9 0a4.5 4.5 0 1 0 -9 0zM649.9 141.1a4.5 4.5 0 1 0 9 0a4.5 4.5 0 1 0 -9 0zM653.0 140.3a4.5 4.5 0 1 0 9 0a4.5 4.5 0 1 0 -9 0zM655.7 141.2a4.5 4.5 0 1 0 9 0a4.5 4.5 0 1 0 -9 0zM658.8 135.4a4.5 4.5 0 1 0 9 0a4.5 4.5 0 1 0 -9 0zM661.0 137.5a4.5 4.5 0 1 0 9 0a4.5 4.5 0 1 0 -9 0zM663.8 137.7a4.5 4.5 0 1 0 9 0a4.5 4.5 0 1 0 -9 0zM665.2 132.9a4.5 4.5 0 1 0 9 0a4.5 4.5 0 1 0 -9 0zM668.8 136.0a4.5 4.5 0 1 0 9 0a4.5 4.5 0 1 0 -9 0zM671.8 133.4a4.5 4.5 0 1 0 9 0a4.5 4.5 0 1 0 -9 0zM675.1 135.4a4.5 4.5 0 1 0 9 0a4.5 4.5 0 1 0 -9 0zM677.2 133.6a4.5 4.5 0 1 0 9 0a4.5 4.5 0 1 0 -9 0zM679.4 135.5a4.5 4.5 0 1 0 9 0a4.5 4.5 0 1 0 -9 0zM681.2 136.4a4.5 4.5 0 1 0 9 0a4.5 4.5 0 1 0 -9 0zM684.6 135.0a4.5 4.5 0 1 0 9 0a4.5 4.5 0 1 0 -9 0zM687.2 134.6a4.5 4.5 0 1 0 9 0a4.5 4.5 0 1 0 -9 0zM689.7 134.0a4.5 4.5 0 1 0 9 0a4.5 4.5 0 1 0 -9 0zM692.5 135.9a4.5 4.5 0 1 0 9 0a4.5 4.5 0 1 0 -9 0zM695.3 137.0a4.5 4.5 0 1 0 9 0a4.5 4.5 0 1 0 -9 0zM697.9 137.4a4.5 4.5 0 1 0 9 0a4.5 4.5 0 1 0 -9 0zM701.6 136.3a4.5 4.5 0 1 0 9 0a4.5 4.5 0 1 0 -9 0zM702.3 138.1a4.5 4.5 0 1 0 9 0a4.5 4.5 0 1 0 -9 0zM704.5 138.0a4.5 4.5 0 1 0 9 0a4.5 4.5 0 1 0 -9 0zM708.3 136.6a4.5 4.5 0 1 0 9 0a4.5 4.5 0 1 0 -9 0zM710.0 136.9a4.5 4.5 0 1 0 9 0a4.5 4.5 0 1 0 -9 0zM713.2 137.4a4.5 4.5 0 1 0 9 0a4.5 4.5 0 1 0 -9 0zM715.9 140.2a4.5 4.5 0 1 0 9 0a4.5 4.5 0 1 0 -9 0zM718.1 142.0a4.5 4.5 0 1 0 9 0a4.5 4.5 0 1 0 -9 0zM721.6 139.1a4.5 4.5 0 1 0 9 0a4.5 4.5 0 1 0 -9 0zM724.2 139.9a4.5 4.5 0 1 0 9 0a4.5 4.5 0 1 0 -9 0zM726.5 141.4a4.5 4.5 0 1 0 9 0a4.5 4.5 0 1 0 -9 0zM729.4 140.8a4.5 4.5 0 1 0 9 0a4.5 4.5 0 1 0 -9 0zM732.2 140.0a4.5 4.5 0 1 0 9 0a4.5 4.5 0 1 0 -9 0zM734.1 142.6a4.5 4.5 0 1 0 9 0a4.5 4.5 0 1 0 -9 0zM737.2 142.0a4.5 4.5 0 1 0 9 0a4.5 4.5 0 1 0 -9 0zM739.6 145.2a4.5 4.5 0 1 0 9 0a4.5 4.5 0 1 0 -9 0zM742.1 144.3a4.5 4.5 0 1 0 9 0a4.5 4.5 0 1 0 -9 0zM744.4 146.1a4.5 4.5 0 1 0 9 0a4.5 4.5 0 1 0 -9 0zM748.4 147.8a4.5 4.5 0 1 0 9 0a4.5 4.5 0 1 0 -9 0zM750.1 144.7a4.5 4.5 0 1 0 9 0a4.5 4.5 0 1 0 -9 0zM751.7 151.6a4.5 4.5 0 1 0 9 0a4.5 4.5 0 1 0 -9 0zM755.5 146.8a4.5 4.5 0 1 0 9 0a4.5 4.5 0 1 0 -9 0zM756.3 145.7a4.5 4.5 0 1 0 9 0a4.5 4.5 0 1 0 -9 0zM760.6 146.9a4.5 4.5 0 1 0 9 0a4.5 4.5 0 1 0 -9 0zM763.5 151.3a4.5 4.5 0 1 0 9 0a4.5 4.5 0 1 0 -9 0zM766.5 148.4a4.5 4.5 0 1 0 9 0a4.5 4.5 0 1 0 -9 0zM768.4 153.0a4.5 4.5 0 1 0 9 0a4.5 4.5 0 1 0 -9 0zM770.4 151.8a4.5 4.5 0 1 0 9 0a4.5 4.5 0 1 0 -9 0zM774.6 147.8a4.5 4.5 0 1 0 9 0a4.5 4.5 0 1 0 -9 0zM776.7 150.9a4.5 4.5 0 1 0 9 0a4.5 4.5 0 1 0 -9 0zM779.5 149.5a4.5 4.5 0 1 0 9 0a4.5 4.5 0 1 0 -9 0zM781.2 154.5a4.5 4.5 0 1 0 9 0a4.5 4.5 0 1 0 -9 0zM784.3 157.0a4.5 4.5 0 1 0 9 0a4.5 4.5 0 1 0 -9 0zM785.5 155.0a4.5 4.5 0 1 0 9 0a4.5 4.5 0 1 0 -9 0zM789.5 151.6a4.5 4.5 0 1 0 9 0a4.5 4.5 0 1 0 -9 0zM790.5 152.8a4.5 4.5 0 1 0 9 0a4.5 4.5 0 1 0 -9 0zM793.8 153.1a4.5 4.5 0 1 0 9 0a4.5 4.5 0 1 0 -9 0zM796.1 156.1a4.5 4.5 0 1 0 9 0a4.5 4.5 0 1 0 -9 0zM800.3 156.6a4.5 4.5 0 1 0 9 0a4.5 4.5 0 1 0 -9 0zM802.8 157.5a4.5 4.5 0 1 0 9 0a4.5 4.5 0 1 0 -9 0zM804.5 152.1a4.5 4.5 0 1 0 9 0a4.5 4.5 0 1 0 -9 0zM808.2 158.2a4.5 4.5 0 1 0 9 0a4.5 4.5 0 1 0 -9 0zM810.1 155.6a4.5 4.5 0 1 0 9 0a4.5 4.5 0 1 0 -9 0zM811.5 160.1a4.5 4.5 0 1 0 9 0a4.5 4.5 0 1 0 -9 0zM815.1 157.8a4.5 4.5 0 1 0 9 0a4.5 4.5 0 1 0 -9 0zM816.9 163.2a4.5 4.5 0 1 0 9 0a4.5 4.5 0 1 0 -9 0zM820.6 162.8a4.5 4.5 0 1 0 9 0a4.5 4.5 0 1 0 -9 0zM823.4 161.8a4.5 4.5 0 1 0 9 0a4.5 4.5 0 1 0 -9 0zM825.3 164.2a4.5 4.5 0 1 0 9 0a4.5 4.5 0 1 0 -9 0zM828.9 164.5a4.5 4.5 0 1 0 9 0a4.5 4.5 0 1 0 -9 0zM831.7 164.7a4.5 4.5 0 1 0 9 0a4.5 4.5 0 1 0 -9 0zM833.1 166.1a4.5 4.5 0 1 0 9 0a4.5 4.5 0 1 0 -9 0zM836.6 162.6a4.5 4.5 0 1 0 9 0a4.5 4.5 0 1 0 -9 0zM838.8 164.0a4.5 4.5 0 1 0 9 0a4.5 4.5 0 1 0 -9 0zM841.3 169.5a4.5 4.5 0 1 0 9 0a4.5 4.5 0 1 0 -9 0zM845.1 163.9a4.5 4.5 0 1 0 9 0a4.5 4.5 0 1 0 -9 0zM846.3 167.8a4.5 4.5 0 1 0 9 0a4.5 4.5 0 1 0 -9 0zM849.1 168.3a4.5 4.5 0 1 0 9 0a4.5 4.5 0 1 0 -9 0zM851.9 169.0a4.5 4.5 0 1 0 9 0a4.5 4.5 0 1 0 -9 0zM854.9 167.4a4.5 4.5 0 1 0 9 0a4.5 4.5 0 1 0 -9 0zM857.6 168.0a4.5 4.5 0 1 0 9 0a4.5 4.5 0 1 0 -9 0zM859.2 170.8a4.5 4.5 0 1 0 9 0a4.5 4.5 0 1 0 -9 0zM863.2 169.9a4.5 4.5 0 1 0 9 0a4.5 4.5 0 1 0 -9 0zM866.1 172.8a4.5 4.5 0 1 0 9 0a4.5 4.5 0 1 0 -9 0zM868.9 166.8a4.5 4.5 0 1 0 9 0a4.5 4.5 0 1 0 -9 0zM870.4 172.2a4.5 4.5 0 1 0 9 0a4.5 4.5 0 1 0 -9 0zM872.6 172.4a4.5 4.5 0 1 0 9 0a4.5 4.5 0 1 0 -9 0zM874.9 172.0a4.5 4.5 0 1 0 9 0a4.5 4.5 0 1 0 -9 0zM878.3 170.3a4.5 4.5 0 1 0 9 0a4.5 4.5 0 1 0 -9 0zM880.7 169.1a4.5 4.5 0 1 0 9 0a4.5 4.5 0 1 0 -9 0zM883.3 171.1a4.5 4.5 0 1 0 9 0a4.5 4.5 0 1 0 -9 0zM885.6 170.2a4.5 4.5 0 1 0 9 0a4.5 4.5 0 1 0 -9 0zM887.2 170.8a4.5 4.5 0 1 0 9 0a4.5 4.5 0 1 0 -9 0zM891.0 167.4a4.5 4.5 0 1 0 9 0a4.5 4.5 0 1 0 -9 0zM893.7 169.3a4.5 4.5 0 1 0 9 0a4.5 4.5 0 1 0 -9 0zM896.2 172.8a4.5 4.5 0 1 0 9 0a4.5 4.5 0 1 0 -9 0zM898.2 166.4a4.5 4.5 0 1 0 9 0a4.5 4.5 0 1 0 -9 0zM901.5 168.3a4.5 4.5 0 1 0 9 0a4.5 4.5 0 1 0 -9 0zM904.2 165.0a4.5 4.5 0 1 0 9 0a4.5 4.5 0 1 0 -9 0zM906.2 169.7a4.5 4.5 0 1 0 9 0a4.5 4.5 0 1 0 -9 0zM909.9 169.2a4.5 4.5 0 1 0 9 0a4.5 4.5 0 1 0 -9 0zM912.1 168.3a4.5 4.5 0 1 0 9 0a4.5 4.5 0 1 0 -9 0zM914.8 170.4a4.5 4.5 0 1 0 9 0a4.5 4.5 0 1 0 -9 0zM917.6 168.2a4.5 4.5 0 1 0 9 0a4.5 4.5 0 1 0 -9 0zM919.8 164.8a4.5 4.5 0 1 0 9 0a4.5 4.5 0 1 0 -9 0zM922.5 165.7a4.5 4.5 0 1 0 9 0a4.5 4.5 0 1 0 -9 0zM925.5 171.5a4.5 4.5 0 1 0 9 0a4.5 4.5 0 1 0 -9 0zM928.3 164.1a4.5 4.5 0 1 0 9 0a4.5 4.5 0 1 0 -9 0zM931.0 165.7a4.5 4.5 0 1 0 9 0a4.5 4.5 0 1 0 -9 0zM932.9 164.6a4.5 4.5 0 1 0 9 0a4.5 4.5 0 1 0 -9 0zM936.1 165.9a4.5 4.5 0 1 0 9 0a4.5 4.5 0 1 0 -9 0zM939.0 165.3a4.5 4.5 0 1 0 9 0a4.5 4.5 0 1 0 -9 0zM940.1 165.3a4.5 4.5 0 1 0 9 0a4.5 4.5 0 1 0 -9 0zM943.3 164.9a4.5 4.5 0 1 0 9 0a4.5 4.5 0 1 0 -9 0zM946.1 166.7a4.5 4.5 0 1 0 9 0a4.5 4.5 0 1 0 -9 0zM948.7 162.1a4.5 4.5 0 1 0 9 0a4.5 4.5 0 1 0 -9 0zM952.4 163.0a4.5 4.5 0 1 0 9 0a4.5 4.5 0 1 0 -9 0zM954.7 161.8a4.5 4.5 0 1 0 9 0a4.5 4.5 0 1 0 -9 0zM956.5 160.9a4.5 4.5 0 1 0 9 0a4.5 4.5 0 1 0 -9 0zM959.1 161.2a4.5 4.5 0 1 0 9 0a4.5 4.5 0 1 0 -9 0zM961.0 159.7a4.5 4.5 0 1 0 9 0a4.5 4.5 0 1 0 -9 0zM180.4 421.5a4.5 4.5 0 1 0 9 0a4.5 4.5 0 1 0 -9 0zM184.5 417.2a4.5 4.5 0 1 0 9 0a4.5 4.5 0 1 0 -9 0zM185.2 416.0a4.5 4.5 0 1 0 9 0a4.5 4.5 0 1 0 -9 0zM189.3 415.8a4.5 4.5 0 1 0 9 0a4.5 4.5 0 1 0 -9 0zM191.1 417.4a4.5 4.5 0 1 0 9 0a4.5 4.5 0 1 0 -9 0zM193.9 410.2a4.5 4.5 0 1 0 9 0a4.5 4.5 0 1 0 -9 0zM196.7 411.9a4.5 4.5 0 1 0 9 0a4.5 4.5 0 1 0 -9 0zM200.4 410.3a4.5 4.5 0 1 0 9 0a4.5 4.5 0 1 0 -9 0zM202.2 409.5a4.5 4.5 0 1 0 9 0a4.5 4.5 0 1 0 -9 0zM204.9 408.7a4.5 4.5 0 1 0 9 0a4.5 4.5 0 1 0 -9 0zM207.8 407.0a4.5 4.5 0 1 0 9 0a4.5 4.5 0 1 0 -9 0zM208.5 407.0a4.5 4.5 0 1 0 9 0a4.5 4.5 0 1 0 -9 0zM213.5 404.5a4.5 4.5 0 1 0 9 0a4.5 4.5 0 1 0 -9 0zM214.0 398.0a4.5 4.5 0 1 0 9 0a4.5 4.5 0 1 0 -9 0zM217.2 398.2a4.5 4.5 0 1 0 9 0a4.5 4.5 0 1 0 -9 0zM220.7 395.2a4.5 4.5 0 1 0 9 0a4.5 4.5 0 1 0 -9 0zM222.2 398.8a4.5 4.5 0 1 0 9 0a4.5 4.5 0 1 0 -9 0zM224.5 399.7a4.5 4.5 0 1 0 9 0a4.5 4.5 0 1 0 -9 0zM228.8 397.2a4.5 4.5 0 1 0 9 0a4.5 4.5 0 1 0 -9 0zM230.6 398.1a4.5 4.5 0 1 0 9 0a4.5 4.5 0 1 0 -9 0zM233.9 389.3a4.5 4.5 0 1 0 9 0a4.5 4.5 0 1 0 -9 0zM236.3 387.4a4.5 4.5 0 1 0 9 0a4.5 4.5 0 1 0 -9 0zM238.5 387.9a4.5 4.5 0 1 0 9 0a4.5 4.5 0 1 0 -9 0zM242.2 385.7a4.5 4.5 0 1 0 9 0a4.5 4.5 0 1 0 -9 0zM243.7 384.0a4.5 4.5 0 1 0 9 0a4.5 4.5 0 1 0 -9 0zM247.7 383.2a4.5 4.5 0 1 0 9 0a4.5 4.5 0 1 0 -9 0zM248.5 379.8a4.5 4.5 0 1 0 9 0a4.5 4.5 0 1 0 -9 0zM251.1 381.4a4.5 4.5 0 1 0 9 0a4.5 4.5 0 1 0 -9 0zM253.9 378.5a4.5 4.5 0 1 0 9 0a4.5 4.5 0 1 0 -9 0zM257.0 376.1a4.5 4.5 0 1 0 9 0a4.5 4.5 0 1 0 -9 0zM258.8 377.3a4.5 4.5 0 1 0 9 0a4.5 4.5 0 1 0 -9 0zM261.7 374.1a4.5 4.5 0 1 0 9 0a4.5 4.5 0 1 0 -9 0zM265.6 369.4a4.5 4.5 0 1 0 9 0a4.5 4.5 0 1 0 -9 0zM267.5 367.7a4.5 4.5 0 1 0 9 0a4.5 4.5 0 1 0 -9 0zM270.7 371.2a4.5 4.5 0 1 0 9 0a4.5 4.5 0 1 0 -9 0zM272.8 362.7a4.5 4.5 0 1 0 9 0a4.5 4.5 0 1 0 -9 0zM274.9 361.7a4.5 4.5 0 1 0 9 0a4.5 4.5 0 1 0 -9 0zM277.4 358.8a4.5 4.5 0 1 0 9 0a4.5 4.5 0 1 0 -9 0zM280.6 358.4a4.5 4.5 0 1 0 9 0a4.5 4.5 0 1 0 -9 0zM283.1 355.0a4.5 4.5 0 1 0 9 0a4.5 4.5 0 1 0 -9 0zM285.4 356.5a4.5 4.5 0 1 0 9 0a4.5 4.5 0 1 0 -9 0zM288.0 352.2a4.5 4.5 0 1 0 9 0a4.5 4.5 0 1 0 -9 0zM291.8 351.6a4.5 4.5 0 1 0 9 0a4.5 4.5 0 1 0 -9 0zM294.2 348.4a4.5 4.5 0 1 0 9 0a4.5 4.5 0 1 0 -9 0zM296.3 342.8a4.5 4.5 0 1 0 9 0a4.5 4.5 0 1 0 -9 0zM298.6 339.7a4.5 4.5 0 1 0 9 0a4.5 4.5 0 1 0 -9 0zM301.1 340.6a4.5 4.5 0 1 0 9 0a4.5 4.5 0 1 0 -9 0zM305.2 339.3a4.5 4.5 0 1 0 9 0a4.5 4.5 0 1 0 -9 0zM306.3 334.7a4.5 4.5 0 1 0 9 0a4.5 4.5 0 1 0 -9 0zM310.6 333.1a4.5 4.5 0 1 0 9 0a4.5 4.5 0 1 0 -9 0zM311.5 328.1a4.5 4.5 0 1 0 9 0a4.5 4.5 0 1 0 -9 0zM313.6 328.4a4.5 4.5 0 1 0 9 0a4.5 4.5 0 1 0 -9 0zM318.3 331.9a4.5 4.5 0 1 0 9 0a4.5 4.5 0 1 0 -9 0zM319.6 325.0a4.5 4.5 0 1 0 9 0a4.5 4.5 0 1 0 -9 0zM323.2 323.5a4.5 4.5 0 1 0 9 0a4.5 4.5 0 1 0 -9 0zM325.2 322.2a4.5 4.5 0 1 0 9 0a4.5 4.5 0 1 0 -9 0zM327.4 318.1a4.5 4.5 0 1 0 9 0a4.5 4.5 0 1 0 -9 0zM330.7 316.0a4.5 4.5 0 1 0 9 0a4.5 4.5 0 1 0 -9 0zM332.6 314.5a4.5 4.5 0 1 0 9 0a4.5 4.5 0 1 0 -9 0zM335.6 308.7a4.5 4.5 0 1 0 9 0a4.5 4.5 0 1 0 -9 0zM337.9 308.6a4.5 4.5 0 1 0 9 0a4.5 4.5 0 1 0 -9 0zM339.6 306.2a4.5 4.5 0 1 0 9 0a4.5 4.5 0 1 0 -9 0zM343.5 304.4a4.5 4.5 0 1 0 9 0a4.5 4.5 0 1 0 -9 0zM345.5 300.1a4.5 4.5 0 1 0 9 0a4.5 4.5 0 1 0 -9 0zM348.4 302.3a4.5 4.5 0 1 0 9 0a4.5 4.5 0 1 0 -9 0zM351.3 295.5a4.5 4.5 0 1 0 9 0a4.5 4.5 0 1 0 -9 0zM352.8 296.0a4.5 4.5 0 1 0 9 0a4.5 4.5 0 1 0 -9 0zM356.6 290.3a4.5 4.5 0 1 0 9 0a4.5 4.5 0 1 0 -9 0zM359.3 288.1a4.5 4.5 0 1 0 9 0a4.5 4.5 0 1 0 -9 0zM362.7 287.5a4.5 4.5 0 1 0 9 0a4.5 4.5 0 1 0 -9 0zM364.6 287.0a4.5 4.5 0 1 0 9 0a4.5 4.5 0 1 0 -9 0zM367.0 283.2a4.5 4.5 0 1 0 9 0a4.5 4.5 0 1 0 -9 0zM369.0 280.6a4.5 4.5 0 1 0 9 0a4.5 4.5 0 1 0 -9 0zM372.0 281.7a4.5 4.5 0 1 0 9 0a4.5 4.5 0 1 0 -9 0zM373.8 277.1a4.5 4.5 0 1 0 9 0a4.5 4.5 0 1 0 -9 0zM377.5 275.4a4.5 4.5 0 1 0 9 0a4.5 4.5 0 1 0 -9 0zM379.7 269.0a4.5 4.5 0 1 0 9 0a4.5 4.5 0 1 0 -9 0zM382.2 266.0a4.5 4.5 0 1 0 9 0a4.5 4.5 0 1 0 -9 0zM385.1 268.4a4.5 4.5 0 1 0 9 0a4.5 4.5 0 1 0 -9 0zM388.0 265.7a4.5 4.5 0 1 0 9 0a4.5 4.5 0 1 0 -9 0zM390.5 265.0a4.5 4.5 0 1 0 9 0a4.5 4.5 0 1 0 -9 0zM392.2 259.7a4.5 4.5 0 1 0 9 0a4.5 4.5 0 1 0 -9 0zM396.3 256.4a4.5 4.5 0 1 0 9 0a4.5 4.5 0 1 0 -9 0zM398.2 252.4a4.5 4.5 0 1 0 9 0a4.5 4.5 0 1 0 -9 0zM401.0 256.3a4.5 4.5 0 1 0 9 0a4.5 4.5 0 1 0 -9 0zM403.4 250.0a4.5 4.5 0 1 0 9 0a4.5 4.5 0 1 0 -9 0zM405.4 250.1a4.5 4.5 0 1 0 9 0a4.5 4.5 0 1 0 -9 0zM408.8 249.2a4.5 4.5 0 1 0 9 0a4.5 4.5 0 1 0 -9 0zM411.0 246.6a4.5 4.5 0 1 0 9 0a4.5 4.5 0 1 0 -9 0zM413.3 245.4a4.5 4.5 0 1 0 9 0a4.5 4.5 0 1 0 -9 0zM416.5 241.1a4.5 4.5 0 1 0 9 0a4.5 4.5 0 1 0 -9 0zM419.5 239.8a4.5 4.5 0 1 0 9 0a4.5 4.5 0 1 0 -9 0zM422.1 235.3a4.5 4.5 0 1 0 9 0a4.5 4.5 0 1 0 -9 0zM424.4 236.4a4.5 4.5 0 1 0 9 0a4.5 4.5 0 1 0 -9 0zM426.6 236.8a4.5 4.5 0 1 0 9 0a4.5 4.5 0 1 0 -9 0zM429.3 232.9a4.5 4.5 0 1 0 9 0a4.5 4.5 0 1 0 -9 0zM432.1 228.3a4.5 4.5 0 1 0 9 0a4.5 4.5 0 1 0 -9 0zM433.9 229.9a4.5 4.5 0 1 0 9 0a4.5 4.5 0 1 0 -9 0zM437.9 226.8a4.5 4.5 0 1 0 9 0a4.5 4.5 0 1 0 -9 0zM440.1 222.9a4.5 4.5 0 1 0 9 0a4.5 4.5 0 1 0 -9 0zM441.9 225.4a4.5 4.5 0 1 0 9 0a4.5 4.5 0 1 0 -9 0zM446.1 219.9a4.5 4.5 0 1 0 9 0a4.5 4.5 0 1 0 -9 0zM449.0 219.7a4.5 4.5 0 1 0 9 0a4.5 4.5 0 1 0 -9 0zM449.7 220.3a4.5 4.5 0 1 0 9 0a4.5 4.5 0 1 0 -9 0zM453.0 218.1a4.5 4.5 0 1 0 9 0a4.5 4.5 0 1 0 -9 0zM455.2 217.9a4.5 4.5 0 1 0 9 0a4.5 4.5 0 1 0 -9 0zM458.8 216.7a4.5 4.5 0 1 0 9 0a4.5 4.5 0 1 0 -9 0zM460.1 215.5a4.5 4.5 0 1 0 9 0a4.5 4.5 0 1 0 -9 0zM463.8 213.9a4.5 4.5 0 1 0 9 0a4.5 4.5 0 1 0 -9 0zM466.4 213.2a4.5 4.5 0 1 0 9 0a4.5 4.5 0 1 0 -9 0zM469.4 213.6a4.5 4.5 0 1 0 9 0a4.5 4.5 0 1 0 -9 0zM470.3 213.2a4.5 4.5 0 1 0 9 0a4.5 4.5 0 1 0 -9 0zM473.5 207.3a4.5 4.5 0 1 0 9 0a4.5 4.5 0 1 0 -9 0zM476.5 212.2a4.5 4.5 0 1 0 9 0a4.5 4.5 0 1 0 -9 0zM479.8 210.2a4.5 4.5 0 1 0 9 0a4.5 4.5 0 1 0 -9 0zM481.9 207.8a4.5 4.5 0 1 0 9 0a4.5 4.5 0 1 0 -9 0zM484.9 208.1a4.5 4.5 0 1 0 9 0a4.5 4.5 0 1 0 -9 0zM487.3 210.7a4.5 4.5 0 1 0 9 0a4.5 4.5 0 1 0 -9 0zM489.2 206.7a4.5 4.5 0 1 0 9 0a4.5 4.5 0 1 0 -9 0zM492.2 207.1a4.5 4.5 0 1 0 9 0a4.5 4.5 0 1 0 -9 0zM494.7 210.0a4.5 4.5 0 1 0 9 0a4.5 4.5 0 1 0 -9 0zM497.4 211.2a4.5 4.5 0 1 0 9 0a4.5 4.5 0 1 0 -9 0zM499.6 208.8a4.5 4.5 0 1 0 9 0a4.5 4.5 0 1 0 -9 0zM503.2 209.8a4.5 4.5 0 1 0 9 0a4.5 4.5 0 1 0 -9 0zM505.6 210.0a4.5 4.5 0 1 0 9 0a4.5 4.5 0 1 0 -9 0zM506.9 210.7a4.5 4.5 0 1 0 9 0a4.5 4.5 0 1 0 -9 0zM511.1 210.6a4.5 4.5 0 1 0 9 0a4.5 4.5 0 1 0 -9 0zM512.9 209.9a4.5 4.5 0 1 0 9 0a4.5 4.5 0 1 0 -9 0zM515.0 209.2a4.5 4.5 0 1 0 9 0a4.5 4.5 0 1 0 -9 0zM519.2 212.8a4.5 4.5 0 1 0 9 0a4.5 4.5 0 1 0 -9 0zM521.1 213.4a4.5 4.5 0 1 0 9 0a4.5 4.5 0 1 0 -9 0zM523.9 209.7a4.5 4.5 0 1 0 9 0a4.5 4.5 0 1 0 -9 0zM526.2 212.0a4.5 4.5 0 1 0 9 0a4.5 4.5 0 1 0 -9 0zM528.9 210.5a4.5 4.5 0 1 0 9 0a4.5 4.5 0 1 0 -9 0zM530.5 211.5a4.5 4.5 0 1 0 9 0a4.5 4.5 0 1 0 -9 0zM534.6 210.7a4.5 4.5 0 1 0 9 0a4.5 4.5 0 1 0 -9 0zM536.3 211.7a4.5 4.5 0 1 0 9 0a4.5 4.5 0 1 0 -9 0zM539.4 213.9a4.5 4.5 0 1 0 9 0a4.5 4.5 0 1 0 -9 0zM542.0 214.7a4.5 4.5 0 1 0 9 0a4.5 4.5 0 1 0 -9 0zM544.0 215.1a4.5 4.5 0 1 0 9 0a4.5 4.5 0 1 0 -9 0zM546.5 215.8a4.5 4.5 0 1 0 9 0a4.5 4.5 0 1 0 -9 0zM549.8 218.8a4.5 4.5 0 1 0 9 0a4.5 4.5 0 1 0 -9 0zM553.2 222.0a4.5 4.5 0 1 0 9 0a4.5 4.5 0 1 0 -9 0zM554.7 223.1a4.5 4.5 0 1 0 9 0a4.5 4.5 0 1 0 -9 0zM557.3 226.6a4.5 4.5 0 1 0 9 0a4.5 4.5 0 1 0 -9 0zM560.4 231.5a4.5 4.5 0 1 0 9 0a4.5 4.5 0 1 0 -9 0zM562.6 238.1a4.5 4.5 0 1 0 9 0a4.5 4.5 0 1 0 -9 0zM566.3 239.9a4.5 4.5 0 1 0 9 0a4.5 4.5 0 1 0 -9 0zM568.4 241.4a4.5 4.5 0 1 0 9 0a4.5 4.5 0 1 0 -9 0zM572.3 234.2a4.5 4.5 0 1 0 9 0a4.5 4.5 0 1 0 -9 0zM573.5 226.2a4.5 4.5 0 1 0 9 0a4.5 4.5 0 1 0 -9 0zM577.3 222.3a4.5 4.5 0 1 0 9 0a4.5 4.5 0 1 0 -9 0zM578.3 216.4a4.5 4.5 0 1 0 9 0a4.5 4.5 0 1 0 -9 0zM581.4 211.3a4.5 4.5 0 1 0 9 0a4.5 4.5 0 1 0 -9 0zM583.2 206.3a4.5 4.5 0 1 0 9 0a4.5 4.5 0 1 0 -9 0zM586.2 202.5a4.5 4.5 0 1 0 9 0a4.5 4.5 0 1 0 -9 0zM588.9 196.2a4.5 4.5 0 1 0 9 0a4.5 4.5 0 1 0 -9 0zM592.1 191.8a4.5 4.5 0 1 0 9 0a4.5 4.5 0 1 0 -9 0zM595.1 187.0a4.5 4.5 0 1 0 9 0a4.5 4.5 0 1 0 -9 0zM596.8 182.8a4.5 4.5 0 1 0 9 0a4.5 4.5 0 1 0 -9 0zM598.7 178.9a4.5 4.5 0 1 0 9 0a4.5 4.5 0 1 0 -9 0zM602.2 174.6a4.5 4.5 0 1 0 9 0a4.5 4.5 0 1 0 -9 0zM604.7 170.9a4.5 4.5 0 1 0 9 0a4.5 4.5 0 1 0 -9 0zM607.1 169.5a4.5 4.5 0 1 0 9 0a4.5 4.5 0 1 0 -9 0zM610.5 165.7a4.5 4.5 0 1 0 9 0a4.5 4.5 0 1 0 -9 0zM613.3 162.4a4.5 4.5 0 1 0 9 0a4.5 4.5 0 1 0 -9 0zM614.9 161.5a4.5 4.5 0 1 0 9 0a4.5 4.5 0 1 0 -9 0zM617.5 156.5a4.5 4.5 0 1 0 9 0a4.5 4.5 0 1 0 -9 0zM619.0 156.6a4.5 4.5 0 1 0 9 0a4.5 4.5 0 1 0 -9 0zM622.7 153.7a4.5 4.5 0 1 0 9 0a4.5 4.5 0 1 0 -9 0zM626.2 152.4a4.5 4.5 0 1 0 9 0a4.5 4.5 0 1 0 -9 0zM627.8 151.3a4.5 4.5 0 1 0 9 0a4.5 4.5 0 1 0 -9 0zM631.5 150.8a4.5 4.5 0 1 0 9 0a4.5 4.5 0 1 0 -9 0zM634.0 148.9a4.5 4.5 0 1 0 9 0a4.5 4.5 0 1 0 -9 0zM636.6 147.2a4.5 4.5 0 1 0 9 0a4.5 4.5 0 1 0 -9 0zM639.2 145.5a4.5 4.5 0 1 0 9 0a4.5 4.5 0 1 0 -9 0zM641.4 145.9a4.5 4.5 0 1 0 9 0a4.5 4.5 0 1 0 -9 0zM644.7 145.5a4.5 4.5 0 1 0 9 0a4.5 4.5 0 1 0 -9 0zM647.3 144.8a4.5 4.5 0 1 0 9 0a4.5 4.5 0 1 0 -9 0zM649.5 142.1a4.5 4.5 0 1 0 9 0a4.5 4.5 0 1 0 -9 0zM651.9 143.0a4.5 4.5 0 1 0 9 0a4.5 4.5 0 1 0 -9 0zM655.3 143.9a4.5 4.5 0 1 0 9 0a4.5 4.5 0 1 0 -9 0zM658.0 144.4a4.5 4.5 0 1 0 9 0a4.5 4.5 0 1 0 -9 0zM659.4 142.7a4.5 4.5 0 1 0 9 0a4.5 4.5 0 1 0 -9 0zM662.9 143.2a4.5 4.5 0 1 0 9 0a4.5 4.5 0 1 0 -9 0zM665.0 142.1a4.5 4.5 0 1 0 9 0a4.5 4.5 0 1 0 -9 0zM669.0 138.8a4.5 4.5 0 1 0 9 0a4.5 4.5 0 1 0 -9 0zM670.0 139.7a4.5 4.5 0 1 0 9 0a4.5 4.5 0 1 0 -9 0zM672.5 140.4a4.5 4.5 0 1 0 9 0a4.5 4.5 0 1 0 -9 0zM674.9 140.0a4.5 4.5 0 1 0 9 0a4.5 4.5 0 1 0 -9 0zM678.6 137.5a4.5 4.5 0 1 0 9 0a4.5 4.5 0 1 0 -9 0zM680.1 143.0a4.5 4.5 0 1 0 9 0a4.5 4.5 0 1 0 -9 0zM683.7 140.1a4.5 4.5 0 1 0 9 0a4.5 4.5 0 1 0 -9 0zM685.6 141.4a4.5 4.5 0 1 0 9 0a4.5 4.5 0 1 0 -9 0zM689.3 140.9a4.5 4.5 0 1 0 9 0a4.5 4.5 0 1 0 -9 0zM692.1 141.2a4.5 4.5 0 1 0 9 0a4.5 4.5 0 1 0 -9 0zM694.4 142.1a4.5 4.5 0 1 0 9 0a4.5 4.5 0 1 0 -9 0zM695.2 140.7a4.5 4.5 0 1 0 9 0a4.5 4.5 0 1 0 -9 0zM698.1 146.1a4.5 4.5 0 1 0 9 0a4.5 4.5 0 1 0 -9 0zM700.0 141.6a4.5 4.5 0 1 0 9 0a4.5 4.5 0 1 0 -9 0zM705.8 141.1a4.5 4.5 0 1 0 9 0a4.5 4.5 0 1 0 -9 0zM706.5 144.5a4.5 4.5 0 1 0 9 0a4.5 4.5 0 1 0 -9 0zM709.2 144.9a4.5 4.5 0 1 0 9 0a4.5 4.5 0 1 0 -9 0zM712.1 139.6a4.5 4.5 0 1 0 9 0a4.5 4.5 0 1 0 -9 0zM715.1 145.4a4.5 4.5 0 1 0 9 0a4.5 4.5 0 1 0 -9 0zM717.1 144.9a4.5 4.5 0 1 0 9 0a4.5 4.5 0 1 0 -9 0zM720.0 146.1a4.5 4.5 0 1 0 9 0a4.5 4.5 0 1 0 -9 0zM722.5 146.2a4.5 4.5 0 1 0 9 0a4.5 4.5 0 1 0 -9 0zM724.4 146.8a4.5 4.5 0 1 0 9 0a4.5 4.5 0 1 0 -9 0zM728.9 150.1a4.5 4.5 0 1 0 9 0a4.5 4.5 0 1 0 -9 0zM731.4 142.0a4.5 4.5 0 1 0 9 0a4.5 4.5 0 1 0 -9 0zM733.0 148.5a4.5 4.5 0 1 0 9 0a4.5 4.5 0 1 0 -9 0zM735.5 146.9a4.5 4.5 0 1 0 9 0a4.5 4.5 0 1 0 -9 0zM739.4 148.4a4.5 4.5 0 1 0 9 0a4.5 4.5 0 1 0 -9 0zM742.3 146.2a4.5 4.5 0 1 0 9 0a4.5 4.5 0 1 0 -9 0zM743.5 148.0a4.5 4.5 0 1 0 9 0a4.5 4.5 0 1 0 -9 0zM746.4 147.7a4.5 4.5 0 1 0 9 0a4.5 4.5 0 1 0 -9 0zM748.5 148.2a4.5 4.5 0 1 0 9 0a4.5 4.5 0 1 0 -9 0zM751.5 149.4a4.5 4.5 0 1 0 9 0a4.5 4.5 0 1 0 -9 0zM752.4 151.5a4.5 4.5 0 1 0 9 0a4.5 4.5 0 1 0 -9 0zM755.2 150.3a4.5 4.5 0 1 0 9 0a4.5 4.5 0 1 0 -9 0zM759.4 155.7a4.5 4.5 0 1 0 9 0a4.5 4.5 0 1 0 -9 0zM761.7 151.4a4.5 4.5 0 1 0 9 0a4.5 4.5 0 1 0 -9 0zM764.6 152.3a4.5 4.5 0 1 0 9 0a4.5 4.5 0 1 0 -9 0zM767.1 153.7a4.5 4.5 0 1 0 9 0a4.5 4.5 0 1 0 -9 0zM770.0 157.4a4.5 4.5 0 1 0 9 0a4.5 4.5 0 1 0 -9 0zM772.4 152.9a4.5 4.5 0 1 0 9 0a4.5 4.5 0 1 0 -9 0zM774.8 157.4a4.5 4.5 0 1 0 9 0a4.5 4.5 0 1 0 -9 0zM777.7 155.4a4.5 4.5 0 1 0 9 0a4.5 4.5 0 1 0 -9 0zM779.7 160.8a4.5 4.5 0 1 0 9 0a4.5 4.5 0 1 0 -9 0zM783.6 158.2a4.5 4.5 0 1 0 9 0a4.5 4.5 0 1 0 -9 0zM784.7 159.6a4.5 4.5 0 1 0 9 0a4.5 4.5 0 1 0 -9 0zM787.7 160.4a4.5 4.5 0 1 0 9 0a4.5 4.5 0 1 0 -9 0zM791.1 160.8a4.5 4.5 0 1 0 9 0a4.5 4.5 0 1 0 -9 0zM793.0 156.6a4.5 4.5 0 1 0 9 0a4.5 4.5 0 1 0 -9 0zM796.4 160.7a4.5 4.5 0 1 0 9 0a4.5 4.5 0 1 0 -9 0zM799.3 160.6a4.5 4.5 0 1 0 9 0a4.5 4.5 0 1 0 -9 0zM801.5 157.8a4.5 4.5 0 1 0 9 0a4.5 4.5 0 1 0 -9 0zM803.4 165.3a4.5 4.5 0 1 0 9 0a4.5 4.5 0 1 0 -9 0zM807.4 160.3a4.5 4.5 0 1 0 9 0a4.5 4.5 0 1 0 -9 0zM809.2 164.6a4.5 4.5 0 1 0 9 0a4.5 4.5 0 1 0 -9 0zM810.9 165.8a4.5 4.5 0 1 0 9 0a4.5 4.5 0 1 0 -9 0zM815.3 166.0a4.5 4.5 0 1 0 9 0a4.5 4.5 0 1 0 -9 0zM816.8 169.4a4.5 4.5 0 1 0 9 0a4.5 4.5 0 1 0 -9 0zM819.7 169.6a4.5 4.5 0 1 0 9 0a4.5 4.5 0 1 0 -9 0zM822.5 169.5a4.5 4.5 0 1 0 9 0a4.5 4.5 0 1 0 -9 0zM824.3 169.0a4.5 4.5 0 1 0 9 0a4.5 4.5 0 1 0 -9 0zM827.7 167.2a4.5 4.5 0 1 0 9 0a4.5 4.5 0 1 0 -9 0zM829.1 167.1a4.5 4.5 0 1 0 9 0a4.5 4.5 0 1 0 -9 0zM831.8 170.6a4.5 4.5 0 1 0 9 0a4.5 4.5 0 1 0 -9 0zM834.8 169.7a4.5 4.5 0 1 0 9 0a4.5 4.5 0 1 0 -9 0zM839.0 170.2a4.5 4.5 0 1 0 9 0a4.5 4.5 0 1 0 -9 0zM840.6 172.1a4.5 4.5 0 1 0 9 0a4.5 4.5 0 1 0 -9 0zM843.6 171.7a4.5 4.5 0 1 0 9 0a4.5 4.5 0 1 0 -9 0zM845.3 173.8a4.5 4.5 0 1 0 9 0a4.5 4.5 0 1 0 -9 0zM848.4 172.1a4.5 4.5 0 1 0 9 0a4.5 4.5 0 1 0 -9 0zM849.5 174.1a4.5 4.5 0 1 0 9 0a4.5 4.5 0 1 0 -9 0zM853.2 174.0a4.5 4.5 0 1 0 9 0a4.5 4.5 0 1 0 -9 0zM856.2 173.9a4.5 4.5 0 1 0 9 0a4.5 4.5 0 1 0 -9 0zM858.3 174.5a4.5 4.5 0 1 0 9 0a4.5 4.5 0 1 0 -9 0zM860.0 176.5a4.5 4.5 0 1 0 9 0a4.5 4.5 0 1 0 -9 0zM862.8 177.9a4.5 4.5 0 1 0 9 0a4.5 4.5 0 1 0 -9 0zM866.8 175.7a4.5 4.5 0 1 0 9 0a4.5 4.5 0 1 0 -9 0zM869.9 176.8a4.5 4.5 0 1 0 9 0a4.5 4.5 0 1 0 -9 0zM871.4 176.8a4.5 4.5 0 1 0 9 0a4.5 4.5 0 1 0 -9 0zM875.2 176.0a4.5 4.5 0 1 0 9 0a4.5 4.5 0 1 0 -9 0zM876.1 177.2a4.5 4.5 0 1 0 9 0a4.5 4.5 0 1 0 -9 0zM879.9 174.9a4.5 4.5 0 1 0 9 0a4.5 4.5 0 1 0 -9 0zM882.3 174.9a4.5 4.5 0 1 0 9 0a4.5 4.5 0 1 0 -9 0zM885.4 177.3a4.5 4.5 0 1 0 9 0a4.5 4.5 0 1 0 -9 0zM886.5 174.7a4.5 4.5 0 1 0 9 0a4.5 4.5 0 1 0 -9 0zM890.6 177.1a4.5 4.5 0 1 0 9 0a4.5 4.5 0 1 0 -9 0zM892.7 173.6a4.5 4.5 0 1 0 9 0a4.5 4.5 0 1 0 -9 0zM894.7 173.6a4.5 4.5 0 1 0 9 0a4.5 4.5 0 1 0 -9 0zM897.5 174.6a4.5 4.5 0 1 0 9 0a4.5 4.5 0 1 0 -9 0zM900.3 172.6a4.5 4.5 0 1 0 9 0a4.5 4.5 0 1 0 -9 0zM903.2 172.1a4.5 4.5 0 1 0 9 0a4.5 4.5 0 1 0 -9 0zM905.1 173.0a4.5 4.5 0 1 0 9 0a4.5 4.5 0 1 0 -9 0zM907.8 177.1a4.5 4.5 0 1 0 9 0a4.5 4.5 0 1 0 -9 0zM910.9 173.0a4.5 4.5 0 1 0 9 0a4.5 4.5 0 1 0 -9 0zM913.5 172.7a4.5 4.5 0 1 0 9 0a4.5 4.5 0 1 0 -9 0zM916.4 171.2a4.5 4.5 0 1 0 9 0a4.5 4.5 0 1 0 -9 0zM919.3 174.5a4.5 4.5 0 1 0 9 0a4.5 4.5 0 1 0 -9 0zM920.2 171.0a4.5 4.5 0 1 0 9 0a4.5 4.5 0 1 0 -9 0zM923.9 171.5a4.5 4.5 0 1 0 9 0a4.5 4.5 0 1 0 -9 0zM926.7 171.2a4.5 4.5 0 1 0 9 0a4.5 4.5 0 1 0 -9 0zM929.2 174.2a4.5 4.5 0 1 0 9 0a4.5 4.5 0 1 0 -9 0zM931.2 173.2a4.5 4.5 0 1 0 9 0a4.5 4.5 0 1 0 -9 0zM934.8 169.1a4.5 4.5 0 1 0 9 0a4.5 4.5 0 1 0 -9 0zM938.1 169.5a4.5 4.5 0 1 0 9 0a4.5 4.5 0 1 0 -9 0zM939.5 170.9a4.5 4.5 0 1 0 9 0a4.5 4.5 0 1 0 -9 0zM941.8 168.4a4.5 4.5 0 1 0 9 0a4.5 4.5 0 1 0 -9 0zM945.3 169.6a4.5 4.5 0 1 0 9 0a4.5 4.5 0 1 0 -9 0zM947.5 170.4a4.5 4.5 0 1 0 9 0a4.5 4.5 0 1 0 -9 0zM950.2 172.0a4.5 4.5 0 1 0 9 0a4.5 4.5 0 1 0 -9 0zM952.8 166.3a4.5 4.5 0 1 0 9 0a4.5 4.5 0 1 0 -9 0zM955.1 167.6a4.5 4.5 0 1 0 9 0a4.5 4.5 0 1 0 -9 0zM957.9 165.9a4.5 4.5 0 1 0 9 0a4.5 4.5 0 1 0 -9 0zM960.1 168.8a4.5 4.5 0 1 0 9 0a4.5 4.5 0 1 0 -9 0zM960.7 165.9a4.5 4.5 0 1 0 9 0a4.5 4.5 0 1 0 -9 0z"/>
<path fill="#0000ff" d="M184.9 461.5L190.9 472.9L178.9 472.9zM187.5 463.0L193.5 474.4L181.5 474.4zM190.1 462.7L196.1 474.1L184.1 474.1zM192.0 454.3L198.0 465.7L186.0 465.7zM194.7 459.2L200.7 470.6L188.7 470.6zM198.1 451.3L204.1 462.7L192.1 462.7zM201.2 450.7L207.2 462.1L195.2 462.1zM201.0 453.8L207.0 465.2L195.0 465.2zM206.0 456.2L212.0 467.6L200.0 467.6zM208.0 446.2L214.0 457.6L202.0 457.6zM210.5 445.3L216.5 456.7L204.5 456.7zM212.7 439.7L218.7 451.1L206.7 451.1zM215.3 449.3L221.3 460.7L209.3 460.7zM217.6 440.7L223.6 452.1L211.6 452.1zM221.1 437.0L227.1 448.4L215.1 448.4zM223.0 434.4L229.0 445.8L217.0 445.8zM226.1 433.3L232.1 444.7L220.1 444.7zM227.9 430.4L233.9 441.8L221.9 441.8zM232.1 440.1L238.1 451.5L226.1 451.5zM234.4 428.9L240.4 440.3L228.4 440.3zM235.9 428.3L241.9 439.7L229.9 439.7zM239.5 429.9L245.5 441.3L233.5 441.3zM241.6 420.5L247.6 431.9L235.6 431.9zM244.0 420.5L250.0 431.9L238.0 431.9zM247.1 421.5L253.1 432.9L241.1 432.9zM250.2 420.2L256.2 431.6L244.2 431.6zM253.2 410.9L259.2 422.3L247.2 422.3zM255.1 420.2L261.1 431.6L249.1 431.6zM258.2 408.1L264.2 419.5L252.2 419.5zM260.6 409.8L266.6 421.2L254.6 421.2zM263.2 402.6L269.2 414.0L257.2 414.0zM266.0 393.5L272.0 404.9L260.0 404.9zM267.2 394.7L273.2 406.1L261.2 406.1zM270.4 396.4L276.4 407.8L264.4 407.8zM274.1 388.4L280.1 399.8L268.1 399.8zM275.1 384.7L281.1 396.1L269.1 396.1zM278.0 385.6L284.0 397.0L272.0 397.0zM282.2 380.3L288.2 391.7L276.2 391.7zM283.1 383.6L289.1 395.0L277.1 395.0zM286.4 379.8L292.4 391.2L280.4 391.2zM289.1 379.8L295.1 391.2L283.1 391.2zM291.4 378.4L297.4 389.8L285.4 389.8zM294.7 374.6L300.7 386.0L288.7 386.0zM297.3 374.7L303.3 386.1L291.3 386.1zM299.0 370.0L305.0 381.4L293.0 381.4zM303.0 360.4L309.0 371.8L297.0 371.8zM304.1 362.5L310.1 373.9L298.1 373.9zM307.0 362.7L313.0 374.1L301.0 374.1zM309.8 354.5L315.8 365.9L303.8 365.9zM312.6 352.8L318.6 364.2L306.6 364.2zM314.4 357.4L320.4 368.8L308.4 368.8zM317.8 353.7L323.8 365.1L311.8 365.1zM319.0 344.4L325.0 355.8L313.0 355.8zM322.6 346.1L328.6 357.5L316.6 357.5zM325.0 343.2L331.0 354.6L319.0 354.6zM327.7 342.2L333.7 353.6L321.7 353.6zM330.7 340.9L336.7 352.3L324.7 352.3zM333.5 332.5L339.5 343.9L327.5 343.9zM335.5 334.4L341.5 345.8L329.5 345.8zM338.6 328.4L344.6 339.8L332.6 339.8zM340.3 322.5L346.3 333.9L334.3 333.9zM343.6 322.7L349.6 334.1L337.6 334.1zM347.0 321.5L353.0 332.9L341.0 332.9zM348.6 316.8L354.6 328.2L342.6 328.2zM351.5 314.1L357.5 325.5L345.5 325.5zM354.2 313.3L360.2 324.7L348.2 324.7zM357.4 308.9L363.4 320.3L351.4 320.3zM359.7 309.0L365.7 320.4L353.7 320.4zM362.0 307.1L368.0 318.5L356.0 318.5zM364.1 301.7L370.1 313.1L358.1 313.1zM367.5 301.1L373.5 312.5L361.5 312.5zM368.2 295.8L374.2 307.2L362.2 307.2zM372.8 291.8L378.8 303.2L366.8 303.2zM374.7 288.1L380.7 299.5L368.7 299.5zM378.2 281.8L384.2 293.2L372.2 293.2zM380.4 284.2L386.4 295.6L374.4 295.6zM383.8 280.2L389.8 291.6L377.8 291.6zM385.3 277.2L391.3 288.6L379.3 288.6zM387.1 275.2L393.1 286.6L381.1 286.6zM390.9 266.2L396.9 277.6L384.9 277.6zM393.2 268.7L399.2 280.1L387.2 280.1zM396.0 264.7L402.0 276.1L390.0 276.1zM399.4 261.7L405.4 273.1L393.4 273.1zM400.8 253.7L406.8 265.1L394.8 265.1zM404.3 256.3L410.3 267.7L398.3 267.7zM407.1 254.4L413.1 265.8L401.1 265.8zM409.8 247.6L415.8 259.0L403.8 259.0zM410.6 248.6L416.6 260.0L404.6 260.0zM414.5 248.7L420.5 260.1L408.5 260.1zM416.6 239.7L422.6 251.1L410.6 251.1zM419.5 237.6L425.5 249.0L413.5 249.0zM421.8 239.8L427.8 251.2L415.8 251.2zM424.7 237.0L430.7 248.4L418.7 248.4zM428.0 232.2L434.0 243.6L422.0 243.6zM431.1 231.7L437.1 243.1L425.1 243.1zM433.1 230.5L439.1 241.9L427.1 241.9zM434.6 227.6L440.6 239.0L428.6 239.0zM438.7 219.5L444.7 230.9L432.7 230.9zM439.8 218.8L445.8 230.2L433.8 230.2zM443.0 221.0L449.0 232.4L437.0 232.4zM446.5 217.2L452.5 228.6L440.5 228.6zM448.1 214.6L454.1 226.0L442.1 226.0zM451.4 213.3L457.4 224.7L445.4 224.7zM453.5 210.5L459.5 221.9L447.5 221.9zM455.6 204.6L461.6 216.0L449.6 216.0zM459.0 207.1L465.0 218.5L453.0 218.5zM461.2 205.1L467.2 216.5L455.2 216.5zM465.1 201.4L471.1 212.8L459.1 212.8zM467.8 200.5L473.8 211.9L461.8 211.9zM470.3 198.1L476.3 209.5L464.3 209.5zM471.4 196.3L477.4 207.7L465.4 207.7zM475.7 195.7L481.7 207.1L469.7 207.1zM477.4 190.3L483.4 201.7L471.4 201.7zM480.1 192.5L486.1 203.9L474.1 203.9zM482.5 188.2L488.5 199.6L476.5 199.6zM484.7 191.3L490.7 202.7L478.7 202.7zM487.7 191.2L493.7 202.6L481.7 202.6zM490.8 189.4L496.8 200.8L484.8 200.8zM493.8 190.3L499.8 201.7L487.8 201.7zM495.8 188.7L501.8 200.1L489.8 200.1zM498.1 189.1L504.1 200.5L492.1 200.5zM500.4 186.9L506.4 198.3L494.4 198.3zM503.2 194.1L509.2 205.5L497.2 205.5zM506.9 191.6L512.9 203.0L500.9 203.0zM509.0 190.4L515.0 201.8L503.0 201.8zM511.3 190.6L517.3 202.0L505.3 202.0zM512.8 190.4L518.8 201.8L506.8 201.8zM515.4 187.3L521.4 198.7L509.4 198.7zM519.4 193.1L525.4 204.5L513.4 204.5zM522.0 189.6L528.0 201.0L516.0 201.0zM524.9 190.6L530.9 202.0L518.9 202.0zM527.0 190.4L533.0 201.8L521.0 201.8zM529.1 189.1L535.1 200.5L523.1 200.5zM531.1 190.4L537.1 201.8L525.1 201.8zM534.2 189.6L540.2 201.0L528.2 201.0zM536.0 189.3L542.0 200.7L530.0 200.7zM540.1 190.1L546.1 201.5L534.1 201.5zM542.9 194.5L548.9 205.9L536.9 205.9zM546.0 194.1L552.0 205.5L540.0 205.5zM546.7 196.0L552.7 207.4L540.7 207.4zM549.6 196.7L555.6 208.1L543.6 208.1zM553.4 197.4L559.4 208.8L547.4 208.8zM555.9 196.9L561.9 208.3L549.9 208.3zM557.1 204.0L563.1 215.4L551.1 215.4zM560.5 208.3L566.5 219.7L554.5 219.7zM563.6 213.6L569.6 225.0L557.6 225.0zM565.9 219.6L571.9 231.0L559.9 231.0zM569.0 229.3L575.0 240.7L563.0 240.7zM571.4 230.5L577.4 241.9L565.4 241.9zM573.6 224.4L579.6 235.8L567.6 235.8zM576.8 217.4L582.8 228.8L570.8 228.8zM579.1 212.7L585.1 224.1L573.1 224.1zM582.5 207.2L588.5 218.6L576.5 218.6zM583.6 201.3L589.6 212.7L577.6 212.7zM586.9 197.6L592.9 209.0L580.9 209.0zM589.3 191.2L595.3 202.6L583.3 202.6zM592.1 185.8L598.1 197.2L586.1 197.2zM595.1 178.4L601.1 189.8L589.1 189.8zM597.9 172.2L603.9 183.6L591.9 183.6zM598.8 166.8L604.8 178.2L592.8 178.2zM603.4 160.4L609.4 171.8L597.4 171.8zM605.7 155.9L611.7 167.3L599.7 167.3zM608.3 151.0L614.3 162.4L602.3 162.4zM610.6 145.4L616.6 156.8L604.6 156.8zM613.8 141.8L619.8 153.2L607.8 153.2zM616.1 137.8L622.1 149.2L610.1 149.2zM617.4 133.3L623.4 144.7L611.4 144.7zM620.6 131.4L626.6 142.8L614.6 142.8zM623.5 127.6L629.5 139.0L617.5 139.0zM626.1 125.8L632.1 137.2L620.1 137.2zM628.6 123.5L634.6 134.9L622.6 134.9zM631.9 121.8L637.9 133.2L625.9 133.2zM633.5 120.2L639.5 131.6L627.5 131.6zM636.3 118.4L642.3 129.8L630.3 129.8zM638.8 116.5L644.8 127.9L632.8 127.9zM642.0 113.1L648.0 124.5L636.0 124.5zM644.8 111.7L650.8 123.1L638.8 123.1zM646.7 111.9L652.7 123.3L640.7 123.3zM650.0 107.9L656.0 119.3L644.0 119.3zM652.1 109.3L658.1 120.7L646.1 120.7zM655.9 107.8L661.9 119.2L649.9 119.2zM656.3 108.1L662.3 119.5L650.3 119.5zM660.3 106.2L666.3 117.6L654.3 117.6zM663.6 102.4L669.6 113.8L657.6 113.8zM665.3 102.1L671.3 113.5L659.3 113.5zM667.5 103.0L673.5 114.4L661.5 114.4zM670.2 98.9L676.2 110.3L664.2 110.3zM673.7 100.5L679.7 111.9L667.7 111.9zM675.6 99.7L681.6 111.1L669.6 111.1zM679.2 97.5L685.2 108.9L673.2 108.9zM681.2 98.4L687.2 109.8L675.2 109.8zM683.5 99.8L689.5 111.2L677.5 111.2zM686.2 101.4L692.2 112.8L680.2 112.8zM689.3 96.9L695.3 108.3L683.3 108.3zM692.3 104.5L698.3 115.9L686.3 115.9zM693.8 101.3L699.8 112.7L687.8 112.7zM696.2 103.9L702.2 115.3L690.2 115.3zM698.8 102.0L704.8 113.4L692.8 113.4zM702.4 99.6L708.4 111.0L696.4 111.0zM705.8 102.3L711.8 113.7L699.8 113.7zM707.1 102.8L713.1 114.2L701.1 114.2zM710.4 102.5L716.4 113.9L704.4 113.9zM712.4 98.9L718.4 110.3L706.4 110.3zM715.8 100.4L721.8 111.8L709.8 111.8zM717.0 103.1L723.0 114.5L711.0 114.5zM720.8 105.3L726.8 116.7L714.8 116.7zM722.3 105.2L728.3 116.6L716.3 116.6zM725.2 104.2L731.2 115.6L719.2 115.6zM728.5 105.8L734.5 117.2L722.5 117.2zM730.8 106.1L736.8 117.5L724.8 117.5zM733.5 108.4L739.5 119.8L727.5 119.8zM736.5 109.5L742.5 120.9L730.5 120.9zM738.9 109.5L744.9 120.9L732.9 120.9zM742.3 107.4L748.3 118.8L736.3 118.8zM744.5 110.3L750.5 121.7L738.5 121.7zM746.1 104.0L752.1 115.4L740.1 115.4zM749.2 108.5L755.2 119.9L743.2 119.9zM751.5 108.9L757.5 120.3L745.5 120.3zM754.2 108.8L760.2 120.2L748.2 120.2zM758.1 113.4L764.1 124.8L752.1 124.8zM759.2 114.3L765.2 125.7L753.2 125.7zM763.1 113.1L769.1 124.5L757.1 124.5zM765.8 112.2L771.8 123.6L759.8 123.6zM769.2 113.1L775.2 124.5L763.2 124.5zM770.2 111.8L776.2 123.2L764.2 123.2zM772.9 113.1L778.9 124.5L766.9 124.5zM775.6 114.7L781.6 126.1L769.6 126.1zM777.8 115.5L783.8 126.9L771.8 126.9zM781.7 118.1L787.7 129.5L775.7 129.5zM784.4 117.8L790.4 129.2L778.4 129.2zM784.5 120.9L790.5 132.3L778.5 132.3zM788.3 121.9L794.3 133.3L782.3 133.3zM791.8 120.0L797.8 131.4L785.8 131.4zM793.1 125.8L799.1 137.2L787.1 137.2zM795.9 120.5L801.9 131.9L789.9 131.9zM799.0 120.3L805.0 131.7L793.0 131.7zM801.5 125.6L807.5 137.0L795.5 137.0zM804.1 123.9L810.1 135.3L798.1 135.3zM806.7 125.7L812.7 137.1L800.7 137.1zM810.5 128.7L816.5 140.1L804.5 140.1zM810.6 126.8L816.6 138.2L804.6 138.2zM814.3 127.2L820.3 138.6L808.3 138.6zM816.6 127.0L822.6 138.4L810.6 138.4zM820.0 130.4L826.0 141.8L814.0 141.8zM822.2 130.2L828.2 141.6L816.2 141.6zM825.4 132.4L831.4 143.8L819.4 143.8zM827.7 129.9L833.7 141.3L821.7 141.3zM831.7 132.8L837.7 144.2L825.7 144.2zM832.1 131.5L838.1 142.9L826.1 142.9zM835.3 135.2L841.3 146.6L829.3 146.6zM838.7 134.3L844.7 145.7L832.7 145.7zM840.6 136.9L846.6 148.3L834.6 148.3zM843.5 137.2L849.5 148.6L837.5 148.6zM845.1 134.1L851.1 145.5L839.1 145.5zM849.1 137.2L855.1 148.6L843.1 148.6zM851.2 137.5L857.2 148.9L845.2 148.9zM854.2 136.4L860.2 147.8L848.2 147.8zM855.9 139.9L861.9 151.3L849.9 151.3zM858.8 134.9L864.8 146.3L852.8 146.3zM861.2 140.6L867.2 152.0L855.2 152.0zM865.3 140.1L871.3 151.5L859.3 151.5zM865.9 135.4L871.9 146.8L859.9 146.8zM869.8 143.2L875.8 154.6L863.8 154.6zM872.3 136.6L878.3 148.0L866.3 148.0zM875.5 139.4L881.5 150.8L869.5 150.8zM877.6 139.2L883.6 150.6L871.6 150.6zM879.4 142.3L885.4 153.7L873.4 153.7zM882.9 139.9L888.9 151.3L876.9 151.3zM884.2 142.7L890.2 154.1L878.2 154.1zM888.5 138.3L894.5 149.7L882.5 149.7zM890.4 140.7L896.4 152.1L884.4 152.1zM892.6 141.4L898.6 152.8L886.6 152.8zM895.4 141.0L901.4 152.4L889.4 152.4zM898.7 140.3L904.7 151.7L892.7 151.7zM899.9 138.0L905.9 149.4L893.9 149.4zM904.6 139.2L910.6 150.6L898.6 150.6zM905.7 141.3L911.7 152.7L899.7 152.7zM909.7 141.4L915.7 152.8L903.7 152.8zM911.5 141.6L917.5 153.0L905.5 153.0zM915.2 137.9L921.2 149.3L909.2 149.3zM915.9 138.4L921.9 149.8L909.9 149.8zM919.8 141.4L925.8 152.8L913.8 152.8zM921.8 142.3L927.8 153.7L915.8 153.7zM924.1 139.0L930.1 150.4L918.1 150.4zM927.6 139.7L933.6 151.1L921.6 151.1zM929.6 137.1L935.6 148.5L923.6 148.5zM931.9 137.7L937.9 149.1L925.9 149.1zM934.8 136.1L940.8 147.5L928.8 147.5zM937.1 134.5L943.1 145.9L931.1 145.9zM940.0 133.2L946.0 144.6L934.0 144.6zM942.8 134.9L948.8 146.3L936.8 146.3zM946.1 132.3L952.1 143.7L940.1 143.7zM948.0 134.1L954.0 145.5L942.0 145.5zM950.2 134.8L956.2 146.2L944.2 146.2zM953.7 131.3L959.7 142.7L947.7 142.7zM955.6 128.8L961.6 140.2L949.6 140.2zM957.9 127.8L963.9 139.2L951.9 139.2zM960.3 130.1L966.3 141.5L954.3 141.5zM964.8 132.7L970.8 144.1L958.8 144.1zM966.2 128.1L972.2 139.5L960.2 139.5zM186.5 472.8L192.5 484.2L180.5 484.2zM187.5 467.0L193.5 478.4L181.5 478.4zM190.1 463.0L196.1 474.4L184.1 474.4zM194.4 468.0L200.4 479.4L188.4 479.4zM195.8 467.2L201.8 478.6L189.8 478.6zM198.5 463.8L204.5 475.2L192.5 475.2zM201.1 463.1L207.1 474.5L195.1 474.5zM203.2 462.5L209.2 473.9L197.2 473.9zM207.1 455.0L213.1 466.4L201.1 466.4zM208.3 457.3L214.3 468.7L202.3 468.7zM212.1 453.2L218.1 464.6L206.1 464.6zM213.6 451.4L219.6 462.8L207.6 462.8zM218.5 450.6L224.5 462.0L212.5 462.0zM220.0 443.0L226.0 454.4L214.0 454.4zM222.8 445.7L228.8 457.1L216.8 457.1zM223.7 441.9L229.7 453.3L217.7 453.3zM227.6 435.8L233.6 447.2L221.6 447.2zM229.6 438.0L235.6 449.4L223.6 449.4zM232.1 441.6L238.1 453.0L226.1 453.0zM234.7 435.1L240.7 446.5L228.7 446.5zM238.3 432.9L244.3 444.3L232.3 444.3zM240.5 426.0L246.5 437.4L234.5 437.4zM242.8 419.5L248.8 430.9L236.8 430.9zM245.3 423.5L251.3 434.9L239.3 434.9zM247.9 422.7L253.9 434.1L241.9 434.1zM250.6 414.0L256.6 425.4L244.6 425.4zM253.4 420.5L259.4 431.9L247.4 431.9zM255.4 414.2L261.4 425.6L249.4 425.6zM258.2 411.3L264.2 422.7L252.2 422.7zM260.0 411.1L266.0 422.5L254.0 422.5zM264.0 409.3L270.0 420.7L258.0 420.7zM267.0 405.6L273.0 417.0L261.0 417.0zM268.9 398.4L274.9 409.8L262.9 409.8zM272.7 399.6L278.7 411.0L266.7 411.0zM274.0 401.4L280.0 412.8L268.0 412.8zM277.1 395.9L283.1 407.3L271.1 407.3zM280.4 391.2L286.4 402.6L274.4 402.6zM282.4 386.1L288.4 397.5L276.4 397.5zM284.4 387.1L290.4 398.5L278.4 398.5zM287.8 386.8L293.8 398.2L281.8 398.2zM289.9 380.4L295.9 391.8L283.9 391.8zM293.4 379.7L299.4 391.1L287.4 391.1zM295.8 379.6L301.8 391.0L289.8 391.0zM297.9 379.7L303.9 391.1L291.9 391.1zM300.9 374.9L306.9 386.3L294.9 386.3zM304.3 369.7L310.3 381.1L298.3 381.1zM306.5 373.2L312.5 384.6L300.5 384.6zM309.0 372.2L315.0 383.6L303.0 383.6zM311.0 363.5L317.0 374.9L305.0 374.9zM313.3 366.6L319.3 378.0L307.3 378.0zM315.9 363.3L321.9 374.7L309.9 374.7zM319.6 357.6L325.6 369.0L313.6 369.0zM320.9 355.0L326.9 366.4L314.9 366.4zM324.4 351.5L330.4 362.9L318.4 362.9zM327.7 348.5L333.7 359.9L321.7 359.9zM328.4 344.8L334.4 356.2L322.4 356.2zM332.2 343.6L338.2 355.0L326.2 355.0zM334.0 342.5L340.0 353.9L328.0 353.9zM337.2 344.3L343.2 355.7L331.2 355.7zM340.2 332.0L346.2 343.4L334.2 343.4zM341.9 330.3L347.9 341.7L335.9 341.7zM344.3 327.8L350.3 339.2L338.3 339.2zM347.5 326.3L353.5 337.7L341.5 337.7zM350.4 325.2L356.4 336.6L344.4 336.6zM352.7 319.5L358.7 330.9L346.7 330.9zM355.0 317.7L361.0 329.1L349.0 329.1zM358.6 317.3L364.6 328.7L352.6 328.7zM360.1 309.8L366.1 321.2L354.1 321.2zM362.5 311.5L368.5 322.9L356.5 322.9zM366.1 306.6L372.1 318.0L360.1 318.0zM369.9 299.4L375.9 310.8L363.9 310.8zM370.9 301.3L376.9 312.7L364.9 312.7zM373.8 296.3L379.8 307.7L367.8 307.7zM375.9 291.6L381.9 303.0L369.9 303.0zM378.7 290.5L384.7 301.9L372.7 301.9zM381.0 290.2L387.0 301.6L375.0 301.6zM384.5 285.4L390.5 296.8L378.5 296.8zM386.5 281.5L392.5 292.9L380.5 292.9zM389.1 281.3L395.1 292.7L383.1 292.7zM392.7 272.6L398.7 284.0L386.7 284.0zM393.9 271.8L399.9 283.2L387.9 283.2zM398.0 268.1L404.0 279.5L392.0 279.5zM399.9 266.1L405.9 277.5L393.9 277.5zM402.1 263.0L408.1 274.4L396.1 274.4zM405.2 261.6L411.2 273.0L399.2 273.0zM407.7 260.9L413.7 272.3L401.7 272.3zM410.7 254.0L416.7 265.4L404.7 265.4zM413.0 252.5L419.0 263.9L407.0 263.9zM416.9 246.9L422.9 258.3L410.9 258.3zM419.0 249.6L425.0 261.0L413.0 261.0zM421.6 244.5L427.6 255.9L415.6 255.9zM422.8 238.2L428.8 249.6L416.8 249.6zM426.0 242.6L432.0 254.0L420.0 254.0zM429.5 239.9L435.5 251.3L423.5 251.3zM431.8 234.8L437.8 246.2L425.8 246.2zM434.0 229.7L440.0 241.1L428.0 241.1zM436.6 233.1L442.6 244.5L430.6 244.5zM439.9 228.5L445.9 239.9L433.9 239.9zM440.7 226.9L446.7 238.3L434.7 238.3zM444.0 225.6L450.0 237.0L438.0 237.0zM446.3 223.0L452.3 234.4L440.3 234.4zM450.4 218.0L456.4 229.4L444.4 229.4zM451.5 217.9L457.5 229.3L445.5 229.3zM454.8 218.4L460.8 229.8L448.8 229.8zM458.4 214.8L464.4 226.2L452.4 226.2zM460.0 211.1L466.0 222.5L454.0 222.5zM463.0 211.8L469.0 223.2L457.0 223.2zM465.4 208.2L471.4 219.6L459.4 219.6zM468.5 205.5L474.5 216.9L462.5 216.9zM472.0 206.6L478.0 218.0L466.0 218.0zM472.6 197.5L478.6 208.9L466.6 208.9zM475.9 202.1L481.9 213.5L469.9 213.5zM479.5 197.7L485.5 209.1L473.5 209.1zM482.6 196.9L488.6 208.3L476.6 208.3zM483.6 196.7L489.6 208.1L477.6 208.1zM487.2 193.3L493.2 204.7L481.2 204.7zM489.4 194.9L495.4 206.3L483.4 206.3zM492.0 196.2L498.0 207.6L486.0 207.6zM493.3 193.2L499.3 204.6L487.3 204.6zM495.8 194.0L501.8 205.4L489.8 205.4zM499.5 196.1L505.5 207.5L493.5 207.5zM502.0 196.6L508.0 208.0L496.0 208.0zM504.6 193.4L510.6 204.8L498.6 204.8zM506.6 194.6L512.6 206.0L500.6 206.0zM510.8 196.1L516.8 207.5L504.8 207.5zM512.4 193.7L518.4 205.1L506.4 205.1zM516.8 196.0L522.8 207.4L510.8 207.4zM517.6 195.1L523.6 206.5L511.6 206.5zM520.6 195.3L526.6 206.7L514.6 206.7zM523.4 196.6L529.4 208.0L517.4 208.0zM525.4 193.5L531.4 204.9L519.4 204.9zM527.6 190.3L533.6 201.7L521.6 201.7zM530.5 193.6L536.5 205.0L524.5 205.0zM533.4 193.9L539.4 205.3L527.4 205.3zM535.7 194.9L541.7 206.3L529.7 206.3zM539.9 195.2L545.9 206.6L533.9 206.6zM541.0 195.5L547.0 206.9L535.0 206.9zM544.4 196.0L550.4 207.4L538.4 207.4zM547.0 198.4L553.0 209.8L541.0 209.8zM549.2 199.0L555.2 210.4L543.2 210.4zM551.1 200.7L557.1 212.1L545.1 212.1zM554.7 201.4L560.7 212.8L548.7 212.8zM557.6 204.0L563.6 215.4L551.6 215.4zM559.7 208.2L565.7 219.6L553.7 219.6zM562.2 214.8L568.2 226.2L556.2 226.2zM563.5 221.7L569.5 233.1L557.5 233.1zM566.8 228.5L572.8 239.9L560.8 239.9zM570.0 235.0L576.0 246.4L564.0 246.4zM572.8 233.2L578.8 244.6L566.8 244.6zM575.8 224.3L581.8 235.7L569.8 235.7zM577.7 215.9L583.7 227.3L571.7 227.3zM580.6 210.0L586.6 221.4L574.6 221.4zM582.5 206.3L588.5 217.7L576.5 217.7zM586.1 200.3L592.1 211.7L580.1 211.7zM588.8 195.8L594.8 207.2L582.8 207.2zM590.9 189.4L596.9 200.8L584.9 200.8zM594.2 184.1L600.2 195.5L588.2 195.5zM596.0 177.0L602.0 188.4L590.0 188.4zM598.5 170.9L604.5 182.3L592.5 182.3zM601.3 163.8L607.3 175.2L595.3 175.2zM605.3 159.9L611.3 171.3L599.3 171.3zM605.7 154.1L611.7 165.5L599.7 165.5zM609.4 150.9L615.4 162.3L603.4 162.3zM611.7 146.9L617.7 158.3L605.7 158.3zM614.6 142.0L620.6 153.4L608.6 153.4zM616.3 137.9L622.3 149.3L610.3 149.3zM620.2 135.6L626.2 147.0L614.2 147.0zM622.8 132.3L628.8 143.7L616.8 143.7zM624.8 130.1L630.8 141.5L618.8 141.5zM627.4 128.0L633.4 139.4L621.4 139.4zM630.3 124.4L636.3 135.8L624.3 135.8zM633.4 123.7L639.4 135.1L627.4 135.1zM634.5 120.8L640.5 132.2L628.5 132.2zM638.9 121.2L644.9 132.6L632.9 132.6zM640.5 118.5L646.5 129.9L634.5 129.9zM643.8 115.7L649.8 127.1L637.8 127.1zM645.4 116.2L651.4 127.6L639.4 127.6zM649.7 117.3L655.7 128.7L643.7 128.7zM651.3 112.4L657.3 123.8L645.3 123.8zM654.9 111.5L660.9 122.9L648.9 122.9zM656.0 111.7L662.0 123.1L650.0 123.1zM658.6 110.1L664.6 121.5L652.6 121.5zM662.3 109.8L668.3 121.2L656.3 121.2zM664.7 107.8L670.7 119.2L658.7 119.2zM667.1 105.8L673.1 117.2L661.1 117.2zM670.2 106.4L676.2 117.8L664.2 117.8zM672.4 106.5L678.4 117.9L666.4 117.9zM674.5 106.7L680.5 118.1L668.5 118.1zM676.2 105.8L682.2 117.2L670.2 117.2zM678.6 106.3L684.6 117.7L672.6 117.7zM683.0 103.5L689.0 114.9L677.0 114.9zM685.5 107.5L691.5 118.9L679.5 118.9zM687.3 106.8L693.3 118.2L681.3 118.2zM690.7 105.2L696.7 116.6L684.7 116.6zM692.9 105.5L698.9 116.9L686.9 116.9zM695.7 106.0L701.7 117.4L689.7 117.4zM698.9 107.7L704.9 119.1L692.9 119.1zM699.9 106.9L705.9 118.3L693.9 118.3zM703.7 110.5L709.7 121.9L697.7 121.9zM706.4 111.0L712.4 122.4L700.4 122.4zM708.6 110.9L714.6 122.3L702.6 122.3zM711.4 108.0L717.4 119.4L705.4 119.4zM713.3 106.5L719.3 117.9L707.3 117.9zM716.7 110.4L722.7 121.8L710.7 121.8zM719.6 111.1L725.6 122.5L713.6 122.5zM722.3 111.0L728.3 122.4L716.3 122.4zM724.0 107.3L730.0 118.7L718.0 118.7zM727.5 110.9L733.5 122.3L721.5 122.3zM729.8 111.6L735.8 123.0L723.8 123.0zM732.7 113.4L738.7 124.8L726.7 124.8zM734.9 111.8L740.9 123.2L728.9 123.2zM737.9 110.8L743.9 122.2L731.9 122.2zM740.2 113.5L746.2 124.9L734.2 124.9zM744.2 115.9L750.2 127.3L738.2 127.3zM745.2 112.4L751.2 123.8L739.2 123.8zM748.7 115.5L754.7 126.9L742.7 126.9zM750.6 112.6L756.6 124.0L744.6 124.0zM752.3 118.7L758.3 130.1L746.3 130.1zM756.1 117.6L762.1 129.0L750.1 129.0zM759.2 117.4L765.2 128.8L753.2 128.8zM761.5 122.0L767.5 133.4L755.5 133.4zM764.1 119.1L770.1 130.5L758.1 130.5zM765.8 118.9L771.8 130.3L759.8 130.3zM769.1 121.1L775.1 132.5L763.1 132.5zM770.7 120.9L776.7 132.3L764.7 132.3zM775.2 122.3L781.2 133.7L769.2 133.7zM777.7 125.2L783.7 136.6L771.7 136.6zM778.7 123.1L784.7 134.5L772.7 134.5zM781.7 126.9L787.7 138.3L775.7 138.3zM783.8 126.9L789.8 138.3L777.8 138.3zM786.7 128.6L792.7 140.0L780.7 140.0zM789.5 126.7L795.5 138.1L783.5 138.1zM791.7 129.6L797.7 141.0L785.7 141.0zM794.8 130.3L800.8 141.7L788.8 141.7zM798.0 134.2L804.0 145.6L792.0 145.6zM800.1 131.3L806.1 142.7L794.1 142.7zM803.3 129.6L809.3 141.0L797.3 141.0zM805.4 136.3L811.4 147.7L799.4 147.7zM808.2 132.3L814.2 143.7L802.2 143.7zM810.0 133.8L816.0 145.2L804.0 145.2zM813.9 137.8L819.9 149.2L807.9 149.2zM815.3 136.0L821.3 147.4L809.3 147.4zM818.4 134.1L824.4 145.5L812.4 145.5zM820.4 136.7L826.4 148.1L814.4 148.1zM824.1 136.7L830.1 148.1L818.1 148.1zM825.8 136.0L831.8 147.4L819.8 147.4zM829.4 139.4L835.4 150.8L823.4 150.8zM832.8 137.8L838.8 149.2L826.8 149.2zM834.5 142.6L840.5 154.0L828.5 154.0zM835.5 142.5L841.5 153.9L829.5 153.9zM840.1 138.6L846.1 150.0L834.1 150.0zM842.2 139.4L848.2 150.8L836.2 150.8zM845.1 140.8L851.1 152.2L839.1 152.2zM847.6 146.1L853.6 157.5L841.6 157.5zM850.7 144.1L856.7 155.5L844.7 155.5zM853.2 145.9L859.2 157.3L847.2 157.3zM855.2 140.9L861.2 152.3L849.2 152.3zM857.1 147.7L863.1 159.1L851.1 159.1zM860.4 147.9L866.4 159.3L854.4 159.3zM863.5 146.9L869.5 158.3L857.5 158.3zM864.5 145.4L870.5 156.8L858.5 156.8zM868.4 147.4L874.4 158.8L862.4 158.8zM869.8 147.1L875.8 158.5L863.8 158.5zM874.2 146.1L880.2 157.5L868.2 157.5zM877.3 146.7L883.3 158.1L871.3 158.1zM879.3 150.4L885.3 161.8L873.3 161.8zM881.1 149.2L887.1 160.6L875.1 160.6zM884.5 143.6L890.5 155.0L878.5 155.0zM887.4 146.7L893.4 158.1L881.4 158.1zM890.2 143.2L896.2 154.6L884.2 154.6zM892.7 143.9L898.7 155.3L886.7 155.3zM895.1 144.5L901.1 155.9L889.1 155.9zM896.5 146.4L902.5 157.8L890.5 157.8zM899.6 143.5L905.6 154.9L893.6 154.9zM902.6 147.3L908.6 158.7L896.6 158.7zM904.9 142.0L910.9 153.4L898.9 153.4zM906.3 145.1L912.3 156.5L900.3 156.5zM910.0 144.9L916.0 156.3L904.0 156.3zM912.3 146.7L918.3 158.1L906.3 158.1zM915.5 146.9L921.5 158.3L909.5 158.3zM918.2 146.2L924.2 157.6L912.2 157.6zM919.7 146.6L925.7 158.0L913.7 158.0zM922.8 147.1L928.8 158.5L916.8 158.5zM925.9 147.2L931.9 158.6L919.9 158.6zM927.8 144.3L933.8 155.7L921.8 155.7zM931.1 141.9L937.1 153.3L925.1 153.3zM933.2 139.7L939.2 151.1L927.2 151.1zM935.9 141.3L941.9 152.7L929.9 152.7zM939.4 142.2L945.4 153.6L933.4 153.6zM941.5 140.0L947.5 151.4L935.5 151.4zM943.8 137.1L949.8 148.5L937.8 148.5zM947.7 139.4L953.7 150.8L941.7 150.8zM949.2 137.0L955.2 148.4L943.2 148.4zM952.0 137.6L958.0 149.0L946.0 149.0zM954.6 137.5L960.6 148.9L948.6 148.9zM959.1 138.2L965.1 149.6L953.1 149.6zM960.2 135.1L966.2 146.5L954.2 146.5zM963.0 137.5L969.0 148.9L957.0 148.9zM964.8 137.2L970.8 148.6L958.8 148.6zM966.9 134.3L972.9 145.7L960.9 145.7z"/>
<path fill="#00ffff" d="M184.3 523.5L190.3 512.1L178.3 512.1zM185.1 532.3L191.1 520.9L179.1 520.9zM189.1 523.3L195.1 511.9L183.1 511.9zM192.3 516.2L198.3 504.8L186.3 504.8zM193.1 513.7L199.1 502.3L187.1 502.3zM198.5 518.8L204.5 507.4L192.5 507.4zM200.1 508.1L206.1 496.7L194.1 496.7zM203.2 518.8L209.2 507.4L197.2 507.4zM205.0 509.6L211.0 498.2L199.0 498.2zM208.3 509.7L214.3 498.3L202.3 498.3zM211.2 514.1L217.2 502.7L205.2 502.7zM214.6 503.6L220.6 492.2L208.6 492.2zM215.0 510.5L221.0 499.1L209.0 499.1zM219.5 505.8L225.5 494.4L213.5 494.4zM220.3 501.3L226.3 489.9L214.3 489.9zM223.6 503.3L229.6 491.9L217.6 491.9zM225.9 491.9L231.9 480.5L219.9 480.5zM228.6 495.6L234.6 484.2L222.6 484.2zM230.2 496.1L236.2 484.7L224.2 484.7zM233.8 488.1L239.8 476.7L227.8 476.7zM235.9 486.4L241.9 475.0L229.9 475.0zM239.1 487.5L245.1 476.1L233.1 476.1zM242.0 482.8L248.0 471.4L236.0 471.4zM244.5 475.1L250.5 463.7L238.5 463.7zM247.0 472.6L253.0 461.2L241.0 461.2zM250.5 477.6L256.5 466.2L244.5 466.2zM252.5 466.3L258.5 454.9L246.5 454.9zM255.3 463.4L261.3 452.0L249.3 452.0zM258.3 459.9L264.3 448.5L252.3 448.5zM260.1 461.9L266.1 450.5L254.1 450.5zM262.8 459.7L268.8 448.3L256.8 448.3zM265.8 454.7L271.8 443.3L259.8 443.3zM267.8 453.2L273.8 441.8L261.8 441.8zM271.4 449.0L277.4 437.6L265.4 437.6zM272.9 446.9L278.9 435.5L266.9 435.5zM275.7 443.0L281.7 431.6L269.7 431.6zM278.4 440.4L284.4 429.0L272.4 429.0zM280.9 435.8L286.9 424.4L274.9 424.4zM283.7 432.3L289.7 420.9L277.7 420.9zM286.0 430.1L292.0 418.7L280.0 418.7zM287.5 427.6L293.5 416.2L281.5 416.2zM292.2 419.1L298.2 407.7L286.2 407.7zM293.9 417.5L299.9 406.1L287.9 406.1zM297.2 415.3L303.2 403.9L291.2 403.9zM298.7 415.1L304.7 403.7L292.7 403.7zM302.3 408.4L308.3 397.0L296.3 397.0zM303.8 406.8L309.8 395.4L297.8 395.4zM308.1 401.9L314.1 390.5L302.1 390.5zM309.8 399.4L315.8 388.0L303.8 388.0zM312.2 391.6L318.2 380.2L306.2 380.2zM313.4 393.3L319.4 381.9L307.4 381.9zM316.3 392.1L322.3 380.7L310.3 380.7zM320.0 384.7L326.0 373.3L314.0 373.3zM322.5 381.4L328.5 370.0L316.5 370.0zM325.1 377.7L331.1 366.3L319.1 366.3zM327.8 382.3L333.8 370.9L321.8 370.9zM331.3 375.7L337.3 364.3L325.3 364.3zM333.1 372.2L339.1 360.8L327.1 360.8zM335.7 370.6L341.7 359.2L329.7 359.2zM338.1 363.9L344.1 352.5L332.1 352.5zM340.6 359.6L346.6 348.2L334.6 348.2zM344.0 355.5L350.0 344.1L338.0 344.1zM346.2 352.5L352.2 341.1L340.2 341.1zM348.8 351.0L354.8 339.6L342.8 339.6zM351.8 344.6L357.8 333.2L345.8 333.2zM354.3 343.9L360.3 332.5L348.3 332.5zM357.4 346.6L363.4 335.2L351.4 335.2zM360.0 338.3L366.0 326.9L354.0 326.9zM361.4 335.8L367.4 324.4L355.4 324.4zM364.3 330.2L370.3 318.8L358.3 318.8zM367.9 328.2L373.9 316.8L361.9 316.8zM369.7 324.5L375.7 313.1L363.7 313.1zM373.0 317.6L379.0 306.2L367.0 306.2zM374.7 318.3L380.7 306.9L368.7 306.9zM376.4 316.0L382.4 304.6L370.4 304.6zM379.1 309.3L385.1 297.9L373.1 297.9zM382.6 304.9L388.6 293.5L376.6 293.5zM385.4 303.0L391.4 291.6L379.4 291.6zM389.7 299.3L395.7 287.9L383.7 287.9zM391.4 297.0L397.4 285.6L385.4 285.6zM393.9 295.1L399.9 283.7L387.9 283.7zM396.7 290.7L402.7 279.3L390.7 279.3zM397.8 288.1L403.8 276.7L391.8 276.7zM401.4 280.4L407.4 269.0L395.4 269.0zM403.9 280.2L409.9 268.8L397.9 268.8zM407.8 273.9L413.8 262.5L401.8 262.5zM408.8 274.0L414.8 262.6L402.8 262.6zM411.0 272.6L417.0 261.2L405.0 261.2zM414.5 267.6L420.5 256.2L408.5 256.2zM417.0 264.8L423.0 253.4L411.0 253.4zM419.8 259.8L425.8 248.4L413.8 248.4zM422.5 263.8L428.5 252.4L416.5 252.4zM425.0 258.1L431.0 246.7L419.0 246.7zM427.2 254.0L433.2 242.6L421.2 242.6zM429.9 253.8L435.9 242.4L423.9 242.4zM434.2 249.7L440.2 238.3L428.2 238.3zM435.0 248.2L441.0 236.8L429.0 236.8zM438.3 242.5L444.3 231.1L432.3 231.1zM440.0 240.5L446.0 229.1L434.0 229.1zM442.2 244.8L448.2 233.4L436.2 233.4zM446.4 241.5L452.4 230.1L440.4 230.1zM448.6 237.7L454.6 226.3L442.6 226.3zM451.9 233.7L457.9 222.3L445.9 222.3zM454.4 231.2L460.4 219.8L448.4 219.8zM456.5 229.2L462.5 217.8L450.5 217.8zM458.5 224.2L464.5 212.8L452.5 212.8zM462.7 220.9L468.7 209.5L456.7 209.5zM464.3 219.8L470.3 208.4L458.3 208.4zM468.1 217.9L474.1 206.5L462.1 206.5zM469.9 214.9L475.9 203.5L463.9 203.5zM472.6 214.3L478.6 202.9L466.6 202.9zM475.1 209.2L481.1 197.8L469.1 197.8zM477.6 207.5L483.6 196.1L471.6 196.1zM479.8 209.1L485.8 197.7L473.8 197.7zM484.0 204.0L490.0 192.6L478.0 192.6zM484.7 205.8L490.7 194.4L478.7 194.4zM486.9 204.1L492.9 192.7L480.9 192.7zM490.6 205.4L496.6 194.0L484.6 194.0zM492.6 205.8L498.6 194.4L486.6 194.4zM496.2 204.5L502.2 193.1L490.2 193.1zM498.2 207.0L504.2 195.6L492.2 195.6zM501.6 206.0L507.6 194.6L495.6 194.6zM503.6 207.3L509.6 195.9L497.6 195.9zM505.7 205.2L511.7 193.8L499.7 193.8zM508.5 206.1L514.5 194.7L502.5 194.7zM511.8 206.3L517.8 194.9L505.8 194.9zM513.6 206.5L519.6 195.1L507.6 195.1zM516.1 205.1L522.1 193.7L510.1 193.7zM519.1 205.6L525.1 194.2L513.1 194.2zM522.0 206.2L528.0 194.8L516.0 194.8zM525.2 206.4L531.2 195.0L519.2 195.0zM527.3 203.8L533.3 192.4L521.3 192.4zM530.2 204.1L536.2 192.7L524.2 192.7zM532.2 207.2L538.2 195.8L526.2 195.8zM536.0 204.6L542.0 193.2L530.0 193.2zM538.8 205.7L544.8 194.3L532.8 194.3zM539.7 206.4L545.7 195.0L533.7 195.0zM542.9 206.9L548.9 195.5L536.9 195.5zM545.3 209.8L551.3 198.4L539.3 198.4zM548.1 206.2L554.1 194.8L542.1 194.8zM550.4 207.8L556.4 196.4L544.4 196.4zM552.8 211.4L558.8 200.0L546.8 200.0zM555.0 213.5L561.0 202.1L549.0 202.1zM558.1 217.3L564.1 205.9L552.1 205.9zM561.0 223.0L567.0 211.6L555.0 211.6zM564.3 226.8L570.3 215.4L558.3 215.4zM566.6 235.0L572.6 223.6L560.6 223.6zM568.6 243.0L574.6 231.6L562.6 231.6zM571.1 244.6L577.1 233.2L565.1 233.2zM573.2 238.9L579.2 227.5L567.2 227.5zM577.1 230.3L583.1 218.9L571.1 218.9zM579.4 223.6L585.4 212.2L573.4 212.2zM582.3 217.4L588.3 206.0L576.3 206.0zM585.0 212.3L591.0 200.9L579.0 200.9zM587.5 207.3L593.5 195.9L581.5 195.9zM589.7 199.6L595.7 188.2L583.7 188.2zM592.2 193.9L598.2 182.5L586.2 182.5zM594.4 185.8L600.4 174.4L588.4 174.4zM597.3 179.3L603.3 167.9L591.3 167.9zM600.5 172.5L606.5 161.1L594.5 161.1zM604.2 167.1L610.2 155.7L598.2 155.7zM605.2 161.5L611.2 150.1L599.2 150.1zM608.2 157.0L614.2 145.6L602.2 145.6zM612.6 152.4L618.6 141.0L606.6 141.0zM613.4 147.9L619.4 136.5L607.4 136.5zM615.7 144.7L621.7 133.3L609.7 133.3zM618.6 140.3L624.6 128.9L612.6 128.9zM621.0 139.0L627.0 127.6L615.0 127.6zM622.6 135.9L628.6 124.5L616.6 124.5zM626.9 131.9L632.9 120.5L620.9 120.5zM627.9 129.2L633.9 117.8L621.9 117.8zM631.3 126.2L637.3 114.8L625.3 114.8zM634.0 123.3L640.0 111.9L628.0 111.9zM637.1 122.3L643.1 110.9L631.1 110.9zM639.3 119.9L645.3 108.5L633.3 108.5zM641.8 118.6L647.8 107.2L635.8 107.2zM644.1 116.9L650.1 105.5L638.1 105.5zM647.4 115.5L653.4 104.1L641.4 104.1zM649.7 113.6L655.7 102.2L643.7 102.2zM652.1 112.9L658.1 101.5L646.1 101.5zM654.3 110.6L660.3 99.2L648.3 99.2zM657.2 107.5L663.2 96.1L651.2 96.1zM660.4 106.3L666.4 94.9L654.4 94.9zM662.0 103.7L668.0 92.3L656.0 92.3zM665.6 104.8L671.6 93.4L659.6 93.4zM668.2 103.2L674.2 91.8L662.2 91.8zM671.5 100.7L677.5 89.3L665.5 89.3zM673.0 101.9L679.0 90.5L667.0 90.5zM675.4 101.2L681.4 89.8L669.4 89.8zM678.6 97.8L684.6 86.4L672.6 86.4zM681.0 99.3L687.0 87.9L675.0 87.9zM682.3 96.9L688.3 85.5L676.3 85.5zM687.2 98.5L693.2 87.1L681.2 87.1zM689.2 99.7L695.2 88.3L683.2 88.3zM691.8 101.0L697.8 89.6L685.8 89.6zM693.8 96.8L699.8 85.4L687.8 85.4zM697.1 99.5L703.1 88.1L691.1 88.1zM699.4 101.2L705.4 89.8L693.4 89.8zM703.1 102.6L709.1 91.2L697.1 91.2zM705.2 102.3L711.2 90.9L699.2 90.9zM708.2 100.9L714.2 89.5L702.2 89.5zM709.3 97.8L715.3 86.4L703.3 86.4zM712.1 102.2L718.1 90.8L706.1 90.8zM715.0 100.0L721.0 88.6L709.0 88.6zM717.5 100.4L723.5 89.0L711.5 89.0zM721.4 107.5L727.4 96.1L715.4 96.1zM723.3 103.7L729.3 92.3L717.3 92.3zM725.0 99.8L731.0 88.4L719.0 88.4zM728.1 105.6L734.1 94.2L722.1 94.2zM732.0 99.6L738.0 88.2L726.0 88.2zM733.3 102.0L739.3 90.6L727.3 90.6zM736.5 105.5L742.5 94.1L730.5 94.1zM737.7 98.8L743.7 87.4L731.7 87.4zM741.0 102.9L747.0 91.5L735.0 91.5zM743.9 99.8L749.9 88.4L737.9 88.4zM746.5 102.8L752.5 91.4L740.5 91.4zM749.2 104.9L755.2 93.5L743.2 93.5zM752.0 101.5L758.0 90.1L746.0 90.1zM755.1 100.5L761.1 89.1L749.1 89.1zM756.0 101.8L762.0 90.4L750.0 90.4zM759.7 106.9L765.7 95.5L753.7 95.5zM762.7 103.7L768.7 92.3L756.7 92.3zM765.1 107.6L771.1 96.2L759.1 96.2zM768.2 106.8L774.2 95.4L762.2 95.4zM770.1 103.5L776.1 92.1L764.1 92.1zM772.5 109.4L778.5 98.0L766.5 98.0zM774.9 102.1L780.9 90.7L768.9 90.7zM778.5 110.6L784.5 99.2L772.5 99.2zM779.8 110.6L785.8 99.2L773.8 99.2zM783.0 107.1L789.0 95.7L777.0 95.7zM785.8 109.5L791.8 98.1L779.8 98.1zM788.8 109.9L794.8 98.5L782.8 98.5zM790.9 112.0L796.9 100.6L784.9 100.6zM793.1 109.2L799.1 97.8L787.1 97.8zM796.6 110.8L802.6 99.4L790.6 99.4zM798.2 111.9L804.2 100.5L792.2 100.5zM801.1 114.0L807.1 102.6L795.1 102.6zM802.9 115.9L808.9 104.5L796.9 104.5zM806.9 113.6L812.9 102.2L800.9 102.2zM809.4 118.5L815.4 107.1L803.4 107.1zM810.9 116.2L816.9 104.8L804.9 104.8zM814.5 114.3L820.5 102.9L808.5 102.9zM817.5 114.9L823.5 103.5L811.5 103.5zM819.4 117.7L825.4 106.3L813.4 106.3zM821.4 122.7L827.4 111.3L815.4 111.3zM825.0 117.2L831.0 105.8L819.0 105.8zM828.0 117.3L834.0 105.9L822.0 105.9zM829.2 119.6L835.2 108.2L823.2 108.2zM833.4 117.9L839.4 106.5L827.4 106.5zM835.5 119.0L841.5 107.6L829.5 107.6zM838.7 125.1L844.7 113.7L832.7 113.7zM840.1 122.9L846.1 111.5L834.1 111.5zM843.9 124.0L849.9 112.6L837.9 112.6zM846.2 120.6L852.2 109.2L840.2 109.2zM849.1 122.2L855.1 110.8L843.1 110.8zM851.2 124.7L857.2 113.3L845.2 113.3zM854.4 124.3L860.4 112.9L848.4 112.9zM856.3 124.2L862.3 112.8L850.3 112.8zM858.8 127.9L864.8 116.5L852.8 116.5zM861.1 127.3L867.1 115.9L855.1 115.9zM863.4 127.6L869.4 116.2L857.4 116.2zM866.9 128.7L872.9 117.3L860.9 117.3zM869.3 128.9L875.3 117.5L863.3 117.5zM872.1 128.1L878.1 116.7L866.1 116.7zM874.6 131.4L880.6 120.0L868.6 120.0zM877.6 131.4L883.6 120.0L871.6 120.0zM880.0 127.7L886.0 116.3L874.0 116.3zM882.2 126.4L888.2 115.0L876.2 115.0zM885.7 125.9L891.7 114.5L879.7 114.5zM889.1 133.3L895.1 121.9L883.1 121.9zM889.9 129.2L895.9 117.8L883.9 117.8zM892.8 131.8L898.8 120.4L886.8 120.4zM896.0 131.4L902.0 120.0L890.0 120.0zM897.9 130.9L903.9 119.5L891.9 119.5zM901.5 129.8L907.5 118.4L895.5 118.4zM903.1 129.6L909.1 118.2L897.1 118.2zM905.4 135.6L911.4 124.2L899.4 124.2zM908.2 132.1L914.2 120.7L902.2 120.7zM912.0 128.9L918.0 117.5L906.0 117.5zM912.8 130.8L918.8 119.4L906.8 119.4zM916.7 134.4L922.7 123.0L910.7 123.0zM918.0 133.1L924.0 121.7L912.0 121.7zM922.3 132.8L928.3 121.4L916.3 121.4zM924.7 129.2L930.7 117.8L918.7 117.8zM927.5 127.3L933.5 115.9L921.5 115.9zM931.0 132.4L937.0 121.0L925.0 121.0zM932.3 128.4L938.3 117.0L926.3 117.0zM935.7 129.0L941.7 117.6L929.7 117.6zM937.9 126.2L943.9 114.8L931.9 114.8zM940.8 126.6L946.8 115.2L934.8 115.2zM942.4 127.1L948.4 115.7L936.4 115.7zM946.1 124.9L952.1 113.5L940.1 113.5zM947.9 123.6L953.9 112.2L941.9 112.2zM951.6 118.3L957.6 106.9L945.6 106.9zM953.9 121.4L959.9 110.0L947.9 110.0zM956.0 117.5L962.0 106.1L950.0 106.1zM958.9 118.8L964.9 107.4L952.9 107.4zM961.5 116.9L967.5 105.5L955.5 105.5zM963.9 113.6L969.9 102.2L957.9 102.2zM968.0 113.6L974.0 102.2L962.0 102.2zM185.1 524.8L191.1 513.4L179.1 513.4zM187.4 526.2L193.4 514.8L181.4 514.8zM190.1 535.5L196.1 524.1L184.1 524.1zM193.3 526.4L199.3 515.0L187.3 515.0zM196.1 520.2L202.1 508.8L190.1 508.8zM199.1 530.1L205.1 518.7L193.1 518.7zM201.9 524.7L207.9 513.3L195.9 513.3zM204.1 514.7L210.1 503.3L198.1 503.3zM206.7 522.4L212.7 511.0L200.7 511.0zM208.6 514.2L214.6 502.8L202.6 502.8zM212.4 515.0L218.4 503.6L206.4 503.6zM215.3 511.8L221.3 500.4L209.3 500.4zM217.0 514.4L223.0 503.0L211.0 503.0zM220.1 508.4L226.1 497.0L214.1 497.0zM221.9 507.5L227.9 496.1L215.9 496.1zM224.9 496.8L230.9 485.4L218.9 485.4zM227.6 498.7L233.6 487.3L221.6 487.3zM230.6 498.3L236.6 486.9L224.6 486.9zM231.9 496.3L237.9 484.9L225.9 484.9zM235.4 491.2L241.4 479.8L229.4 479.8zM238.5 496.6L244.5 485.2L232.5 485.2zM240.8 491.8L246.8 480.4L234.8 480.4zM243.6 488.6L249.6 477.2L237.6 477.2zM244.3 485.3L250.3 473.9L238.3 473.9zM247.9 485.2L253.9 473.8L241.9 473.8zM250.8 475.1L256.8 463.7L244.8 463.7zM253.2 475.4L259.2 464.0L247.2 464.0zM254.9 466.9L260.9 455.5L248.9 455.5zM259.5 468.2L265.5 456.8L253.5 456.8zM261.6 465.9L267.6 454.5L255.6 454.5zM262.9 460.4L268.9 449.0L256.9 449.0zM266.4 457.4L272.4 446.0L260.4 446.0zM269.3 456.5L275.3 445.1L263.3 445.1zM272.5 451.0L278.5 439.6L266.5 439.6zM275.0 446.0L281.0 434.6L269.0 434.6zM276.6 447.7L282.6 436.3L270.6 436.3zM279.4 439.8L285.4 428.4L273.4 428.4zM282.5 440.6L288.5 429.2L276.5 429.2zM285.6 434.6L291.6 423.2L279.6 423.2zM287.4 433.7L293.4 422.3L281.4 422.3zM289.9 431.3L295.9 419.9L283.9 419.9zM293.2 426.3L299.2 414.9L287.2 414.9zM295.5 426.4L301.5 415.0L289.5 415.0zM298.9 424.2L304.9 412.8L292.9 412.8zM301.0 417.2L307.0 405.8L295.0 405.8zM303.9 414.4L309.9 403.0L297.9 403.0zM304.7 412.9L310.7 401.5L298.7 401.5zM307.7 402.8L313.7 391.4L301.7 391.4zM310.2 403.1L316.2 391.7L304.2 391.7zM313.3 402.1L319.3 390.7L307.3 390.7zM316.6 396.4L322.6 385.0L310.6 385.0zM318.8 393.1L324.8 381.7L312.8 381.7zM321.9 391.6L327.9 380.2L315.9 380.2zM323.8 388.1L329.8 376.7L317.8 376.7zM327.4 388.0L333.4 376.6L321.4 376.6zM330.0 380.7L336.0 369.3L324.0 369.3zM331.0 374.1L337.0 362.7L325.0 362.7zM334.0 372.3L340.0 360.9L328.0 360.9zM336.9 369.3L342.9 357.9L330.9 357.9zM340.4 369.2L346.4 357.8L334.4 357.8zM343.0 366.9L349.0 355.5L337.0 355.5zM346.2 359.8L352.2 348.4L340.2 348.4zM346.8 357.6L352.8 346.2L340.8 346.2zM350.5 355.3L356.5 343.9L344.5 343.9zM353.0 352.2L359.0 340.8L347.0 340.8zM355.4 346.4L361.4 335.0L349.4 335.0zM358.1 343.7L364.1 332.3L352.1 332.3zM359.6 342.5L365.6 331.1L353.6 331.1zM363.6 338.3L369.6 326.9L357.6 326.9zM365.8 337.9L371.8 326.5L359.8 326.5zM367.9 333.5L373.9 322.1L361.9 322.1zM372.1 326.5L378.1 315.1L366.1 315.1zM373.5 325.0L379.5 313.6L367.5 313.6zM376.6 322.2L382.6 310.8L370.6 310.8zM378.7 316.4L384.7 305.0L372.7 305.0zM380.8 311.0L386.8 299.6L374.8 299.6zM384.1 311.6L390.1 300.2L378.1 300.2zM387.1 307.1L393.1 295.7L381.1 295.7zM389.0 303.5L395.0 292.1L383.0 292.1zM392.5 294.8L398.5 283.4L386.5 283.4zM395.8 294.3L401.8 282.9L389.8 282.9zM398.1 292.5L404.1 281.1L392.1 281.1zM399.8 292.6L405.8 281.2L393.8 281.2zM402.2 285.2L408.2 273.8L396.2 273.8zM405.8 282.5L411.8 271.1L399.8 271.1zM407.0 281.0L413.0 269.6L401.0 269.6zM409.9 279.1L415.9 267.7L403.9 267.7zM414.2 275.7L420.2 264.3L408.2 264.3zM416.0 275.2L422.0 263.8L410.0 263.8zM418.7 270.0L424.7 258.6L412.7 258.6zM420.8 267.5L426.8 256.1L414.8 256.1zM425.3 265.8L431.3 254.4L419.3 254.4zM428.1 262.1L434.1 250.7L422.1 250.7zM428.8 262.1L434.8 250.7L422.8 250.7zM432.0 254.3L438.0 242.9L426.0 242.9zM433.9 254.5L439.9 243.1L427.9 243.1zM437.0 254.2L443.0 242.8L431.0 242.8zM440.1 248.1L446.1 236.7L434.1 236.7zM442.7 246.2L448.7 234.8L436.7 234.8zM444.4 246.0L450.4 234.6L438.4 234.6zM447.4 245.3L453.4 233.9L441.4 233.9zM451.5 240.4L457.5 229.0L445.5 229.0zM453.0 236.8L459.0 225.4L447.0 225.4zM455.9 233.7L461.9 222.3L449.9 222.3zM458.0 230.4L464.0 219.0L452.0 219.0zM460.2 227.8L466.2 216.4L454.2 216.4zM462.2 229.6L468.2 218.2L456.2 218.2zM464.9 223.9L470.9 212.5L458.9 212.5zM467.1 225.1L473.1 213.7L461.1 213.7zM470.1 217.2L476.1 205.8L464.1 205.8zM472.8 216.1L478.8 204.7L466.8 204.7zM476.4 213.1L482.4 201.7L470.4 201.7zM477.6 213.0L483.6 201.6L471.6 201.6zM481.5 211.7L487.5 200.3L475.5 200.3zM482.6 211.5L488.6 200.1L476.6 200.1zM488.0 214.4L494.0 203.0L482.0 203.0zM488.7 210.1L494.7 198.7L482.7 198.7zM491.8 205.8L497.8 194.4L485.8 194.4zM495.3 207.7L501.3 196.3L489.3 196.3zM496.8 209.9L502.8 198.5L490.8 198.5zM499.6 209.0L505.6 197.6L493.6 197.6zM502.2 208.8L508.2 197.4L496.2 197.4zM505.1 210.1L511.1 198.7L499.1 198.7zM507.0 209.3L513.0 197.9L501.0 197.9zM511.0 208.8L517.0 197.4L505.0 197.4zM513.3 209.8L519.3 198.4L507.3 198.4zM515.3 208.6L521.3 197.2L509.3 197.2zM518.6 207.7L524.6 196.3L512.6 196.3zM520.4 208.2L526.4 196.8L514.4 196.8zM522.7 208.8L528.7 197.4L516.7 197.4zM525.6 209.4L531.6 198.0L519.6 198.0zM528.6 208.3L534.6 196.9L522.6 196.9zM529.9 209.8L535.9 198.4L523.9 198.4zM533.3 209.9L539.3 198.5L527.3 198.5zM536.4 207.9L542.4 196.5L530.4 196.5zM538.1 210.2L544.1 198.8L532.1 198.8zM541.6 211.9L547.6 200.5L535.6 200.5zM543.3 210.1L549.3 198.7L537.3 198.7zM546.7 211.1L552.7 199.7L540.7 199.7zM549.2 211.6L555.2 200.2L543.2 200.2zM552.0 214.2L558.0 202.8L546.0 202.8zM554.0 214.2L560.0 202.8L548.0 202.8zM555.8 218.7L561.8 207.3L549.8 207.3zM558.1 224.2L564.1 212.8L552.1 212.8zM564.6 228.1L570.6 216.7L558.6 216.7zM564.0 234.0L570.0 222.6L558.0 222.6zM567.0 243.2L573.0 231.8L561.0 231.8zM569.1 247.2L575.1 235.8L563.1 235.8zM573.6 244.9L579.6 233.5L567.6 233.5zM575.8 237.3L581.8 225.9L569.8 225.9zM578.5 227.8L584.5 216.4L572.5 216.4zM579.9 221.9L585.9 210.5L573.9 210.5zM583.8 216.6L589.8 205.2L577.8 205.2zM585.3 210.5L591.3 199.1L579.3 199.1zM589.2 204.5L595.2 193.1L583.2 193.1zM591.0 199.3L597.0 187.9L585.0 187.9zM592.2 191.7L598.2 180.3L586.2 180.3zM596.2 183.9L602.2 172.5L590.2 172.5zM598.3 177.1L604.3 165.7L592.3 165.7zM603.0 171.9L609.0 160.5L597.0 160.5zM603.3 165.3L609.3 153.9L597.3 153.9zM606.5 159.9L612.5 148.5L600.5 148.5zM609.2 155.7L615.2 144.3L603.2 144.3zM611.4 151.6L617.4 140.2L605.4 140.2zM614.1 148.3L620.1 136.9L608.1 136.9zM617.1 144.7L623.1 133.3L611.1 133.3zM620.0 142.4L626.0 131.0L614.0 131.0zM622.1 138.6L628.1 127.2L616.1 127.2zM624.9 134.0L630.9 122.6L618.9 122.6zM627.6 133.5L633.6 122.1L621.6 122.1zM629.7 132.1L635.7 120.7L623.7 120.7zM632.7 128.4L638.7 117.0L626.7 117.0zM635.5 129.0L641.5 117.6L629.5 117.6zM638.7 122.3L644.7 110.9L632.7 110.9zM641.1 122.3L647.1 110.9L635.1 110.9zM643.6 121.6L649.6 110.2L637.6 110.2zM646.5 120.1L652.5 108.7L640.5 108.7zM648.1 119.3L654.1 107.9L642.1 107.9zM651.9 116.5L657.9 105.1L645.9 105.1zM653.6 115.0L659.6 103.6L647.6 103.6zM656.3 115.8L662.3 104.4L650.3 104.4zM658.8 110.5L664.8 99.1L652.8 99.1zM662.0 111.0L668.0 99.6L656.0 99.6zM663.8 110.8L669.8 99.4L657.8 99.4zM667.2 106.2L673.2 94.8L661.2 94.8zM669.3 105.3L675.3 93.9L663.3 93.9zM671.8 106.6L677.8 95.2L665.8 95.2zM674.9 105.9L680.9 94.5L668.9 94.5zM676.8 102.2L682.8 90.8L670.8 90.8zM680.7 104.6L686.7 93.2L674.7 93.2zM682.1 103.4L688.1 92.0L676.1 92.0zM684.9 101.2L690.9 89.8L678.9 89.8zM688.5 106.3L694.5 94.9L682.5 94.9zM689.5 107.0L695.5 95.6L683.5 95.6zM693.6 105.9L699.6 94.5L687.6 94.5zM695.7 105.5L701.7 94.1L689.7 94.1zM698.3 104.5L704.3 93.1L692.3 93.1zM701.0 102.9L707.0 91.5L695.0 91.5zM702.9 105.8L708.9 94.4L696.9 94.4zM707.1 101.9L713.1 90.5L701.1 90.5zM709.0 104.9L715.0 93.5L703.0 93.5zM711.7 109.3L717.7 97.9L705.7 97.9zM714.4 105.7L720.4 94.3L708.4 94.3zM717.1 104.4L723.1 93.0L711.1 93.0zM719.3 103.9L725.3 92.5L713.3 92.5zM721.2 107.6L727.2 96.2L715.2 96.2zM723.6 106.6L729.6 95.2L717.6 95.2zM726.2 102.2L732.2 90.8L720.2 90.8zM729.3 106.5L735.3 95.1L723.3 95.1zM732.8 108.7L738.8 97.3L726.8 97.3zM734.0 110.1L740.0 98.7L728.0 98.7zM737.2 108.2L743.2 96.8L731.2 96.8zM740.4 106.9L746.4 95.5L734.4 95.5zM742.5 110.0L748.5 98.6L736.5 98.6zM745.1 105.4L751.1 94.0L739.1 94.0zM747.2 109.8L753.2 98.4L741.2 98.4zM750.6 112.3L756.6 100.9L744.6 100.9zM752.8 107.6L758.8 96.2L746.8 96.2zM755.3 109.1L761.3 97.7L749.3 97.7zM758.1 109.9L764.1 98.5L752.1 98.5zM761.2 107.2L767.2 95.8L755.2 95.8zM764.2 111.2L770.2 99.8L758.2 99.8zM765.5 109.1L771.5 97.7L759.5 97.7zM769.1 111.9L775.1 100.5L763.1 100.5zM770.8 108.1L776.8 96.7L764.8 96.7zM772.9 111.8L778.9 100.4L766.9 100.4zM776.3 112.2L782.3 100.8L770.3 100.8zM779.3 111.6L785.3 100.2L773.3 100.2zM781.9 113.5L787.9 102.1L775.9 102.1zM784.7 112.9L790.7 101.5L778.7 101.5zM785.9 114.8L791.9 103.4L779.9 103.4zM790.6 113.7L796.6 102.3L784.6 102.3zM792.9 115.3L798.9 103.9L786.9 103.9zM795.4 117.0L801.4 105.6L789.4 105.6zM796.6 115.3L802.6 103.9L790.6 103.9zM800.5 116.1L806.5 104.7L794.5 104.7zM802.5 119.7L808.5 108.3L796.5 108.3zM805.1 118.8L811.1 107.4L799.1 107.4zM808.1 122.1L814.1 110.7L802.1 110.7zM809.7 119.3L815.7 107.9L803.7 107.9zM814.0 118.5L820.0 107.1L808.0 107.1zM816.5 116.1L822.5 104.7L810.5 104.7zM819.0 121.0L825.0 109.6L813.0 109.6zM822.0 120.2L828.0 108.8L816.0 108.8zM822.7 120.1L828.7 108.7L816.7 108.7zM826.2 122.2L832.2 110.8L820.2 110.8zM828.8 127.9L834.8 116.5L822.8 116.5zM830.9 125.9L836.9 114.5L824.9 114.5zM834.7 125.0L840.7 113.6L828.7 113.6zM838.4 125.8L844.4 114.4L832.4 114.4zM838.8 126.8L844.8 115.4L832.8 115.4zM842.4 129.4L848.4 118.0L836.4 118.0zM844.7 132.0L850.7 120.6L838.7 120.6zM847.4 128.2L853.4 116.8L841.4 116.8zM850.0 127.3L856.0 115.9L844.0 115.9zM853.0 131.1L859.0 119.7L847.0 119.7zM854.8 129.6L860.8 118.2L848.8 118.2zM857.5 132.2L863.5 120.8L851.5 120.8zM861.4 132.0L867.4 120.6L855.4 120.6zM863.0 133.3L869.0 121.9L857.0 121.9zM865.6 131.0L871.6 119.6L859.6 119.6zM867.2 134.8L873.2 123.4L861.2 123.4zM871.1 133.1L877.1 121.7L865.1 121.7zM873.8 131.9L879.8 120.5L867.8 120.5zM876.3 134.0L882.3 122.6L870.3 122.6zM879.7 136.5L885.7 125.1L873.7 125.1zM880.1 133.6L886.1 122.2L874.1 122.2zM884.5 134.8L890.5 123.4L878.5 123.4zM885.6 137.2L891.6 125.8L879.6 125.8zM888.5 135.2L894.5 123.8L882.5 123.8zM890.6 135.6L896.6 124.2L884.6 124.2zM894.9 134.0L900.9 122.6L888.9 122.6zM896.9 136.3L902.9 124.9L890.9 124.9zM899.3 135.3L905.3 123.9L893.3 123.9zM902.2 134.4L908.2 123.0L896.2 123.0zM903.6 139.4L909.6 128.0L897.6 128.0zM907.1 133.9L913.1 122.5L901.1 122.5zM910.2 135.9L916.2 124.5L904.2 124.5zM912.3 137.9L918.3 126.5L906.3 126.5zM915.3 135.8L921.3 124.4L909.3 124.4zM916.9 134.1L922.9 122.7L910.9 122.7zM920.6 137.5L926.6 126.1L914.6 126.1zM922.9 137.2L928.9 125.8L916.9 125.8zM925.9 133.3L931.9 121.9L919.9 121.9zM929.3 132.5L935.3 121.1L923.3 121.1zM931.0 130.9L937.0 119.5L925.0 119.5zM933.2 133.8L939.2 122.4L927.2 122.4zM936.4 134.6L942.4 123.2L930.4 123.2zM938.1 133.5L944.1 122.1L932.1 122.1zM942.4 131.0L948.4 119.6L936.4 119.6zM944.1 131.0L950.1 119.6L938.1 119.6zM946.7 127.0L952.7 115.6L940.7 115.6zM949.6 124.2L955.6 112.8L943.6 112.8zM951.1 127.5L957.1 116.1L945.1 116.1zM954.5 121.3L960.5 109.9L948.5 109.9zM957.0 124.5L963.0 113.1L951.0 113.1zM961.0 122.6L967.0 111.2L955.0 111.2zM963.2 122.4L969.2 111.0L957.2 111.0zM966.1 116.7L972.1 105.3L960.1 105.3zM966.3 117.5L972.3 106.1L960.3 106.1z"/>
<path fill="#ff00ff" d="M183.9 542.4L189.9 548.4L183.9 554.4L177.9 548.4zM187.0 537.4L193.0 543.4L187.0 549.4L181.0 543.4zM189.5 544.2L195.5 550.2L189.5 556.2L183.5 550.2zM193.3 544.0L199.3 550.0L193.3 556.0L187.3 550.0zM195.6 531.9L201.6 537.9L195.6 543.9L189.6 537.9zM196.9 535.3L202.9 541.3L196.9 547.3L190.9 541.3zM199.7 533.8L205.7 539.8L199.7 545.8L193.7 539.8zM203.2 541.4L209.2 547.4L203.2 553.4L197.2 547.4zM205.3 534.3L211.3 540.3L205.3 546.3L199.3 540.3zM207.9 532.7L213.9 538.7L207.9 544.7L201.9 538.7zM211.1 531.8L217.1 537.8L211.1 543.8L205.1 537.8zM213.4 525.7L219.4 531.7L213.4 537.7L207.4 531.7zM215.7 528.7L221.7 534.7L215.7 540.7L209.7 534.7zM220.1 527.5L226.1 533.5L220.1 539.5L214.1 533.5zM221.1 513.4L227.1 519.4L221.1 525.4L215.1 519.4zM222.7 516.9L228.7 522.9L222.7 528.9L216.7 522.9zM226.3 520.3L232.3 526.3L226.3 532.3L220.3 526.3zM228.9 506.4L234.9 512.4L228.9 518.4L222.9 512.4zM232.4 509.7L238.4 515.7L232.4 521.7L226.4 515.7zM234.2 507.7L240.2 513.7L234.2 519.7L228.2 513.7zM236.2 515.6L242.2 521.6L236.2 527.6L230.2 521.6zM239.4 497.8L245.4 503.8L239.4 509.8L233.4 503.8zM241.1 499.0L247.1 505.0L241.1 511.0L235.1 505.0zM244.2 492.1L250.2 498.1L244.2 504.1L238.2 498.1zM247.3 487.0L253.3 493.0L247.3 499.0L241.3 493.0zM249.1 493.2L255.1 499.2L249.1 505.2L243.1 499.2zM251.0 479.4L257.0 485.4L251.0 491.4L245.0 485.4zM254.3 479.0L260.3 485.0L254.3 491.0L248.3 485.0zM257.0 477.5L263.0 483.5L257.0 489.5L251.0 483.5zM260.5 481.1L266.5 487.1L260.5 493.1L254.5 487.1zM262.4 464.5L268.4 470.5L262.4 476.5L256.4 470.5zM265.3 465.8L271.3 471.8L265.3 477.8L259.3 471.8zM267.4 461.4L273.4 467.4L267.4 473.4L261.4 467.4zM270.6 463.1L276.6 469.1L270.6 475.1L264.6 469.1zM272.8 454.6L278.8 460.6L272.8 466.6L266.8 460.6zM276.1 451.4L282.1 457.4L276.1 463.4L270.1 457.4zM278.5 445.6L284.5 451.6L278.5 457.6L272.5 451.6zM281.9 448.7L287.9 454.7L281.9 460.7L275.9 454.7zM284.0 448.5L290.0 454.5L284.0 460.5L278.0 454.5zM286.0 441.1L292.0 447.1L286.0 453.1L280.0 447.1zM288.3 438.7L294.3 444.7L288.3 450.7L282.3 444.7zM291.6 432.2L297.6 438.2L291.6 444.2L285.6 438.2zM294.5 429.9L300.5 435.9L294.5 441.9L288.5 435.9zM297.6 425.6L303.6 431.6L297.6 437.6L291.6 431.6zM299.0 419.9L305.0 425.9L299.0 431.9L293.0 425.9zM301.1 415.6L307.1 421.6L301.1 427.6L295.1 421.6zM303.4 415.8L309.4 421.8L303.4 427.8L297.4 421.8zM306.5 415.8L312.5 421.8L306.5 427.8L300.5 421.8zM309.6 409.0L315.6 415.0L309.6 421.0L303.6 415.0zM312.2 405.9L318.2 411.9L312.2 417.9L306.2 411.9zM314.8 402.2L320.8 408.2L314.8 414.2L308.8 408.2zM317.6 398.8L323.6 404.8L317.6 410.8L311.6 404.8zM320.4 395.0L326.4 401.0L320.4 407.0L314.4 401.0zM321.8 395.6L327.8 401.6L321.8 407.6L315.8 401.6zM325.5 386.7L331.5 392.7L325.5 398.7L319.5 392.7zM328.0 383.1L334.0 389.1L328.0 395.1L322.0 389.1zM330.6 379.8L336.6 385.8L330.6 391.8L324.6 385.8zM333.0 377.1L339.0 383.1L333.0 389.1L327.0 383.1zM334.8 371.4L340.8 377.4L334.8 383.4L328.8 377.4zM338.8 372.8L344.8 378.8L338.8 384.8L332.8 378.8zM340.8 366.0L346.8 372.0L340.8 378.0L334.8 372.0zM343.7 360.9L349.7 366.9L343.7 372.9L337.7 366.9zM346.5 359.2L352.5 365.2L346.5 371.2L340.5 365.2zM349.0 354.8L355.0 360.8L349.0 366.8L343.0 360.8zM351.8 349.0L357.8 355.0L351.8 361.0L345.8 355.0zM354.5 347.5L360.5 353.5L354.5 359.5L348.5 353.5zM356.3 345.2L362.3 351.2L356.3 357.2L350.3 351.2zM358.7 340.7L364.7 346.7L358.7 352.7L352.7 346.7zM362.5 335.2L368.5 341.2L362.5 347.2L356.5 341.2zM364.2 334.0L370.2 340.0L364.2 346.0L358.2 340.0zM368.6 328.0L374.6 334.0L368.6 340.0L362.6 334.0zM369.2 324.8L375.2 330.8L369.2 336.8L363.2 330.8zM372.6 319.8L378.6 325.8L372.6 331.8L366.6 325.8zM375.1 314.4L381.1 320.4L375.1 326.4L369.1 320.4zM377.9 310.4L383.9 316.4L377.9 322.4L371.9 316.4zM379.8 307.7L385.8 313.7L379.8 319.7L373.8 313.7zM383.2 303.4L389.2 309.4L383.2 315.4L377.2 309.4zM386.8 298.4L392.8 304.4L386.8 310.4L380.8 304.4zM387.9 297.7L393.9 303.7L387.9 309.7L381.9 303.7zM389.5 292.2L395.5 298.2L389.5 304.2L383.5 298.2zM393.8 291.1L399.8 297.1L393.8 303.1L387.8 297.1zM396.3 283.1L402.3 289.1L396.3 295.1L390.3 289.1zM399.1 282.0L405.1 288.0L399.1 294.0L393.1 288.0zM400.8 281.6L406.8 287.6L400.8 293.6L394.8 287.6zM404.1 277.2L410.1 283.2L404.1 289.2L398.1 283.2zM407.0 272.1L413.0 278.1L407.0 284.1L401.0 278.1zM408.8 270.5L414.8 276.5L408.8 282.5L402.8 276.5zM411.8 271.8L417.8 277.8L411.8 283.8L405.8 277.8zM414.7 262.8L420.7 268.8L414.7 274.8L408.7 268.8zM417.4 263.3L423.4 269.3L417.4 275.3L411.4 269.3zM419.5 260.6L425.5 266.6L419.5 272.6L413.5 266.6zM422.3 259.3L428.3 265.3L422.3 271.3L416.3 265.3zM426.0 257.6L432.0 263.6L426.0 269.6L420.0 263.6zM428.7 256.3L434.7 262.3L428.7 268.3L422.7 262.3zM429.4 250.5L435.4 256.5L429.4 262.5L423.4 256.5zM434.0 248.2L440.0 254.2L434.0 260.2L428.0 254.2zM435.1 246.0L441.1 252.0L435.1 258.0L429.1 252.0zM438.5 241.4L444.5 247.4L438.5 253.4L432.5 247.4zM439.8 239.7L445.8 245.7L439.8 251.7L433.8 245.7zM443.0 239.8L449.0 245.8L443.0 251.8L437.0 245.8zM445.4 236.1L451.4 242.1L445.4 248.1L439.4 242.1zM448.9 230.5L454.9 236.5L448.9 242.5L442.9 236.5zM451.1 232.6L457.1 238.6L451.1 244.6L445.1 238.6zM453.9 223.0L459.9 229.0L453.9 235.0L447.9 229.0zM456.4 225.2L462.4 231.2L456.4 237.2L450.4 231.2zM458.9 216.2L464.9 222.2L458.9 228.2L452.9 222.2zM462.0 217.4L468.0 223.4L462.0 229.4L456.0 223.4zM464.1 218.4L470.1 224.4L464.1 230.4L458.1 224.4zM466.6 211.7L472.6 217.7L466.6 223.7L460.6 217.7zM468.9 209.8L474.9 215.8L468.9 221.8L462.9 215.8zM471.4 208.3L477.4 214.3L471.4 220.3L465.4 214.3zM474.2 205.1L480.2 211.1L474.2 217.1L468.2 211.1zM477.3 203.1L483.3 209.1L477.3 215.1L471.3 209.1zM480.4 207.0L486.4 213.0L480.4 219.0L474.4 213.0zM482.3 198.9L488.3 204.9L482.3 210.9L476.3 204.9zM486.2 199.5L492.2 205.5L486.2 211.5L480.2 205.5zM488.3 198.4L494.3 204.4L488.3 210.4L482.3 204.4zM490.2 197.1L496.2 203.1L490.2 209.1L484.2 203.1zM493.0 197.9L499.0 203.9L493.0 209.9L487.0 203.9zM495.4 199.3L501.4 205.3L495.4 211.3L489.4 205.3zM497.0 196.2L503.0 202.2L497.0 208.2L491.0 202.2zM501.2 197.5L507.2 203.5L501.2 209.5L495.2 203.5zM503.4 196.6L509.4 202.6L503.4 208.6L497.4 202.6zM504.9 197.6L510.9 203.6L504.9 209.6L498.9 203.6zM509.0 196.7L515.0 202.7L509.0 208.7L503.0 202.7zM510.8 197.5L516.8 203.5L510.8 209.5L504.8 203.5zM513.6 194.4L519.6 200.4L513.6 206.4L507.6 200.4zM515.3 197.3L521.3 203.3L515.3 209.3L509.3 203.3zM518.9 194.8L524.9 200.8L518.9 206.8L512.9 200.8zM521.8 198.0L527.8 204.0L521.8 210.0L515.8 204.0zM523.9 195.4L529.9 201.4L523.9 207.4L517.9 201.4zM526.8 196.0L532.8 202.0L526.8 208.0L520.8 202.0zM528.3 194.5L534.3 200.5L528.3 206.5L522.3 200.5zM532.4 195.3L538.4 201.3L532.4 207.3L526.4 201.3zM534.6 193.1L540.6 199.1L534.6 205.1L528.6 199.1zM537.2 192.7L543.2 198.7L537.2 204.7L531.2 198.7zM540.3 197.2L546.3 203.2L540.3 209.2L534.3 203.2zM543.1 196.5L549.1 202.5L543.1 208.5L537.1 202.5zM545.1 199.2L551.1 205.2L545.1 211.2L539.1 205.2zM548.3 200.1L554.3 206.1L548.3 212.1L542.3 206.1zM551.5 200.0L557.5 206.0L551.5 212.0L545.5 206.0zM552.3 200.4L558.3 206.4L552.3 212.4L546.3 206.4zM555.6 202.6L561.6 208.6L555.6 214.6L549.6 208.6zM557.2 206.3L563.2 212.3L557.2 218.3L551.2 212.3zM561.0 209.2L567.0 215.2L561.0 221.2L555.0 215.2zM564.2 217.1L570.2 223.1L564.2 229.1L558.2 223.1zM566.0 222.9L572.0 228.9L566.0 234.9L560.0 228.9zM568.0 229.1L574.0 235.1L568.0 241.1L562.0 235.1zM570.9 233.8L576.9 239.8L570.9 245.8L564.9 239.8zM574.1 224.1L580.1 230.1L574.1 236.1L568.1 230.1zM575.6 216.8L581.6 222.8L575.6 228.8L569.6 222.8zM578.3 208.9L584.3 214.9L578.3 220.9L572.3 214.9zM582.0 200.5L588.0 206.5L582.0 212.5L576.0 206.5zM583.5 193.3L589.5 199.3L583.5 205.3L577.5 199.3zM587.0 184.7L593.0 190.7L587.0 196.7L581.0 190.7zM588.9 177.3L594.9 183.3L588.9 189.3L582.9 183.3zM591.2 167.9L597.2 173.9L591.2 179.9L585.2 173.9zM595.3 158.9L601.3 164.9L595.3 170.9L589.3 164.9zM598.1 149.7L604.1 155.7L598.1 161.7L592.1 155.7zM599.6 142.7L605.6 148.7L599.6 154.7L593.6 148.7zM604.0 135.6L610.0 141.6L604.0 147.6L598.0 141.6zM605.4 131.2L611.4 137.2L605.4 143.2L599.4 137.2zM608.2 128.0L614.2 134.0L608.2 140.0L602.2 134.0zM610.6 122.9L616.6 128.9L610.6 134.9L604.6 128.9zM612.5 120.0L618.5 126.0L612.5 132.0L606.5 126.0zM616.4 117.5L622.4 123.5L616.4 129.5L610.4 123.5zM618.5 113.4L624.5 119.4L618.5 125.4L612.5 119.4zM621.3 112.1L627.3 118.1L621.3 124.1L615.3 118.1zM623.7 108.6L629.7 114.6L623.7 120.6L617.7 114.6zM626.0 104.6L632.0 110.6L626.0 116.6L620.0 110.6zM630.3 101.6L636.3 107.6L630.3 113.6L624.3 107.6zM631.7 100.1L637.7 106.1L631.7 112.1L625.7 106.1zM633.9 96.4L639.9 102.4L633.9 108.4L627.9 102.4zM637.1 93.9L643.1 99.9L637.1 105.9L631.1 99.9zM638.6 90.7L644.6 96.7L638.6 102.7L632.6 96.7zM642.1 89.2L648.1 95.2L642.1 101.2L636.1 95.2zM646.2 89.2L652.2 95.2L646.2 101.2L640.2 95.2zM646.8 84.9L652.8 90.9L646.8 96.9L640.8 90.9zM650.1 80.3L656.1 86.3L650.1 92.3L644.1 86.3zM651.7 81.4L657.7 87.4L651.7 93.4L645.7 87.4zM655.0 78.4L661.0 84.4L655.0 90.4L649.0 84.4zM658.3 74.9L664.3 80.9L658.3 86.9L652.3 80.9zM659.6 74.4L665.6 80.4L659.6 86.4L653.6 80.4zM662.3 73.8L668.3 79.8L662.3 85.8L656.3 79.8zM666.2 70.3L672.2 76.3L666.2 82.3L660.2 76.3zM668.2 68.9L674.2 74.9L668.2 80.9L662.2 74.9zM671.1 68.4L677.1 74.4L671.1 80.4L665.1 74.4zM673.6 65.8L679.6 71.8L673.6 77.8L667.6 71.8zM675.2 66.8L681.2 72.8L675.2 78.8L669.2 72.8zM677.5 66.2L683.5 72.2L677.5 78.2L671.5 72.2zM680.0 64.7L686.0 70.7L680.0 76.7L674.0 70.7zM684.1 62.4L690.1 68.4L684.1 74.4L678.1 68.4zM685.5 61.6L691.5 67.6L685.5 73.6L679.5 67.6zM687.9 62.3L693.9 68.3L687.9 74.3L681.9 68.3zM691.3 58.7L697.3 64.7L691.3 70.7L685.3 64.7zM694.2 59.3L700.2 65.3L694.2 71.3L688.2 65.3zM697.0 60.1L703.0 66.1L697.0 72.1L691.0 66.1zM698.4 57.7L704.4 63.7L698.4 69.7L692.4 63.7zM702.9 56.9L708.9 62.9L702.9 68.9L696.9 62.9zM704.1 58.3L710.1 64.3L704.1 70.3L698.1 64.3zM707.4 60.8L713.4 66.8L707.4 72.8L701.4 66.8zM709.9 58.1L715.9 64.1L709.9 70.1L703.9 64.1zM711.9 57.5L717.9 63.5L711.9 69.5L705.9 63.5zM715.4 59.1L721.4 65.1L715.4 71.1L709.4 65.1zM718.0 60.2L724.0 66.2L718.0 72.2L712.0 66.2zM721.1 59.6L727.1 65.6L721.1 71.6L715.1 65.6zM724.2 59.6L730.2 65.6L724.2 71.6L718.2 65.6zM726.9 64.0L732.9 70.0L726.9 76.0L720.9 70.0zM728.8 57.6L734.8 63.6L728.8 69.6L722.8 63.6zM731.3 60.7L737.3 66.7L731.3 72.7L725.3 66.7zM733.3 57.2L739.3 63.2L733.3 69.2L727.3 63.2zM735.2 61.2L741.2 67.2L735.2 73.2L729.2 67.2zM739.0 63.1L745.0 69.1L739.0 75.1L733.0 69.1zM741.0 60.3L747.0 66.3L741.0 72.3L735.0 66.3zM743.8 62.0L749.8 68.0L743.8 74.0L737.8 68.0zM746.3 60.7L752.3 66.7L746.3 72.7L740.3 66.7zM749.4 63.6L755.4 69.6L749.4 75.6L743.4 69.6zM751.6 64.0L757.6 70.0L751.6 76.0L745.6 70.0zM755.9 64.8L761.9 70.8L755.9 76.8L749.9 70.8zM757.6 65.1L763.6 71.1L757.6 77.1L751.6 71.1zM759.3 63.4L765.3 69.4L759.3 75.4L753.3 69.4zM762.5 67.1L768.5 73.1L762.5 79.1L756.5 73.1zM765.7 64.8L771.7 70.8L765.7 76.8L759.7 70.8zM766.8 63.8L772.8 69.8L766.8 75.8L760.8 69.8zM770.2 68.5L776.2 74.5L770.2 80.5L764.2 74.5zM772.4 68.0L778.4 74.0L772.4 80.0L766.4 74.0zM775.4 70.0L781.4 76.0L775.4 82.0L769.4 76.0zM777.7 70.2L783.7 76.2L777.7 82.2L771.7 76.2zM780.7 70.2L786.7 76.2L780.7 82.2L774.7 76.2zM783.5 70.1L789.5 76.1L783.5 82.1L777.5 76.1zM786.2 70.7L792.2 76.7L786.2 82.7L780.2 76.7zM787.5 74.6L793.5 80.6L787.5 86.6L781.5 80.6zM791.5 72.9L797.5 78.9L791.5 84.9L785.5 78.9zM793.7 76.2L799.7 82.2L793.7 88.2L787.7 82.2zM795.9 77.9L801.9 83.9L795.9 89.9L789.9 83.9zM798.9 78.3L804.9 84.3L798.9 90.3L792.9 84.3zM802.5 80.9L808.5 86.9L802.5 92.9L796.5 86.9zM804.0 77.8L810.0 83.8L804.0 89.8L798.0 83.8zM806.2 82.2L812.2 88.2L806.2 94.2L800.2 88.2zM809.8 78.9L815.8 84.9L809.8 90.9L803.8 84.9zM811.9 74.9L817.9 80.9L811.9 86.9L805.9 80.9zM815.0 82.5L821.0 88.5L815.0 94.5L809.0 88.5zM817.4 85.4L823.4 91.4L817.4 97.4L811.4 91.4zM820.7 81.3L826.7 87.3L820.7 93.3L814.7 87.3zM822.1 84.6L828.1 90.6L822.1 96.6L816.1 90.6zM824.8 83.3L830.8 89.3L824.8 95.3L818.8 89.3zM828.4 83.9L834.4 89.9L828.4 95.9L822.4 89.9zM831.3 84.0L837.3 90.0L831.3 96.0L825.3 90.0zM833.0 80.6L839.0 86.6L833.0 92.6L827.0 86.6zM836.3 85.0L842.3 91.0L836.3 97.0L830.3 91.0zM838.4 85.6L844.4 91.6L838.4 97.6L832.4 91.6zM840.8 86.9L846.8 92.9L840.8 98.9L834.8 92.9zM842.4 88.6L848.4 94.6L842.4 100.6L836.4 94.6zM847.3 89.0L853.3 95.0L847.3 101.0L841.3 95.0zM849.3 90.4L855.3 96.4L849.3 102.4L843.3 96.4zM849.8 87.2L855.8 93.2L849.8 99.2L843.8 93.2zM854.3 89.8L860.3 95.8L854.3 101.8L848.3 95.8zM856.1 88.7L862.1 94.7L856.1 100.7L850.1 94.7zM858.5 89.9L864.5 95.9L858.5 101.9L852.5 95.9zM861.3 86.7L867.3 92.7L861.3 98.7L855.3 92.7zM864.8 91.6L870.8 97.6L864.8 103.6L858.8 97.6zM866.9 90.7L872.9 96.7L866.9 102.7L860.9 96.7zM869.4 93.4L875.4 99.4L869.4 105.4L863.4 99.4zM872.1 90.4L878.1 96.4L872.1 102.4L866.1 96.4zM874.5 93.3L880.5 99.3L874.5 105.3L868.5 99.3zM877.7 93.1L883.7 99.1L877.7 105.1L871.7 99.1zM878.8 96.0L884.8 102.0L878.8 108.0L872.8 102.0zM881.8 92.5L887.8 98.5L881.8 104.5L875.8 98.5zM885.1 90.5L891.1 96.5L885.1 102.5L879.1 96.5zM887.1 91.2L893.1 97.2L887.1 103.2L881.1 97.2zM890.6 96.1L896.6 102.1L890.6 108.1L884.6 102.1zM892.8 92.5L898.8 98.5L892.8 104.5L886.8 98.5zM895.9 95.7L901.9 101.7L895.9 107.7L889.9 101.7zM898.2 97.7L904.2 103.7L898.2 109.7L892.2 103.7zM901.3 97.0L907.3 103.0L901.3 109.0L895.3 103.0zM903.5 92.3L909.5 98.3L903.5 104.3L897.5 98.3zM906.6 95.5L912.6 101.5L906.6 107.5L900.6 101.5zM908.6 97.3L914.6 103.3L908.6 109.3L902.6 103.3zM910.3 94.3L916.3 100.3L910.3 106.3L904.3 100.3zM914.0 94.5L920.0 100.5L914.0 106.5L908.0 100.5zM916.6 95.8L922.6 101.8L916.6 107.8L910.6 101.8zM919.0 94.2L925.0 100.2L919.0 106.2L913.0 100.2zM922.5 95.9L928.5 101.9L922.5 107.9L916.5 101.9zM924.8 92.8L930.8 98.8L924.8 104.8L918.8 98.8zM928.1 93.3L934.1 99.3L928.1 105.3L922.1 99.3zM929.5 94.4L935.5 100.4L929.5 106.4L923.5 100.4zM932.1 92.8L938.1 98.8L932.1 104.8L926.1 98.8zM935.3 90.9L941.3 96.9L935.3 102.9L929.3 96.9zM938.5 91.9L944.5 97.9L938.5 103.9L932.5 97.9zM939.8 89.6L945.8 95.6L939.8 101.6L933.8 95.6zM943.1 89.9L949.1 95.9L943.1 101.9L937.1 95.9zM945.4 89.4L951.4 95.4L945.4 101.4L939.4 95.4zM947.9 91.6L953.9 97.6L947.9 103.6L941.9 97.6zM951.2 89.7L957.2 95.7L951.2 101.7L945.2 95.7zM953.8 88.7L959.8 94.7L953.8 100.7L947.8 94.7zM956.3 86.1L962.3 92.1L956.3 98.1L950.3 92.1zM958.1 80.6L964.1 86.6L958.1 92.6L952.1 86.6zM961.1 87.0L967.1 93.0L961.1 99.0L955.1 93.0zM962.7 85.6L968.7 91.6L962.7 97.6L956.7 91.6zM966.7 86.8L972.7 92.8L966.7 98.8L960.7 92.8zM184.8 549.0L190.8 555.0L184.8 561.0L178.8 555.0zM188.0 547.3L194.0 553.3L188.0 559.3L182.0 553.3zM191.3 542.1L197.3 548.1L191.3 554.1L185.3 548.1zM193.3 550.0L199.3 556.0L193.3 562.0L187.3 556.0zM196.1 540.5L202.1 546.5L196.1 552.5L190.1 546.5zM198.3 540.1L204.3 546.1L198.3 552.1L192.3 546.1zM202.9 540.9L208.9 546.9L202.9 552.9L196.9 546.9zM203.2 543.2L209.2 549.2L203.2 555.2L197.2 549.2zM206.2 540.7L212.2 546.7L206.2 552.7L200.2 546.7zM209.1 535.3L215.1 541.3L209.1 547.3L203.1 541.3zM213.4 530.4L219.4 536.4L213.4 542.4L207.4 536.4zM214.0 531.1L220.0 537.1L214.0 543.1L208.0 537.1zM217.0 531.6L223.0 537.6L217.0 543.6L211.0 537.6zM220.1 525.5L226.1 531.5L220.1 537.5L214.1 531.5zM220.9 528.4L226.9 534.4L220.9 540.4L214.9 534.4zM225.4 519.3L231.4 525.3L225.4 531.3L219.4 525.3zM227.7 509.2L233.7 515.2L227.7 521.2L221.7 515.2zM231.0 519.8L237.0 525.8L231.0 531.8L225.0 525.8zM233.6 511.4L239.6 517.4L233.6 523.4L227.6 517.4zM235.6 515.8L241.6 521.8L235.6 527.8L229.6 521.8zM238.6 509.0L244.6 515.0L238.6 521.0L232.6 515.0zM240.2 504.3L246.2 510.3L240.2 516.3L234.2 510.3zM242.5 498.7L248.5 504.7L242.5 510.7L236.5 504.7zM245.7 499.2L251.7 505.2L245.7 511.2L239.7 505.2zM248.6 491.3L254.6 497.3L248.6 503.3L242.6 497.3zM250.9 496.2L256.9 502.2L250.9 508.2L244.9 502.2zM253.9 489.1L259.9 495.1L253.9 501.1L247.9 495.1zM256.7 484.7L262.7 490.7L256.7 496.7L250.7 490.7zM260.0 480.7L266.0 486.7L260.0 492.7L254.0 486.7zM261.4 477.7L267.4 483.7L261.4 489.7L255.4 483.7zM263.9 468.1L269.9 474.1L263.9 480.1L257.9 474.1zM267.0 471.1L273.0 477.1L267.0 483.1L261.0 477.1zM269.5 463.6L275.5 469.6L269.5 475.6L263.5 469.6zM272.3 461.9L278.3 467.9L272.3 473.9L266.3 467.9zM275.6 454.0L281.6 460.0L275.6 466.0L269.6 460.0zM276.7 456.9L282.7 462.9L276.7 468.9L270.7 462.9zM280.3 451.1L286.3 457.1L280.3 463.1L274.3 457.1zM283.3 448.1L289.3 454.1L283.3 460.1L277.3 454.1zM285.9 454.5L291.9 460.5L285.9 466.5L279.9 460.5zM286.8 441.9L292.8 447.9L286.8 453.9L280.8 447.9zM290.1 437.0L296.1 443.0L290.1 449.0L284.1 443.0zM293.7 432.5L299.7 438.5L293.7 444.5L287.7 438.5zM295.5 435.3L301.5 441.3L295.5 447.3L289.5 441.3zM298.4 429.9L304.4 435.9L298.4 441.9L292.4 435.9zM300.7 423.3L306.7 429.3L300.7 435.3L294.7 429.3zM304.2 425.0L310.2 431.0L304.2 437.0L298.2 431.0zM306.2 420.9L312.2 426.9L306.2 432.9L300.2 426.9zM308.4 414.5L314.4 420.5L308.4 426.5L302.4 420.5zM311.3 410.8L317.3 416.8L311.3 422.8L305.3 416.8zM314.7 406.1L320.7 412.1L314.7 418.1L308.7 412.1zM316.7 403.0L322.7 409.0L316.7 415.0L310.7 409.0zM318.1 401.2L324.1 407.2L318.1 413.2L312.1 407.2zM320.4 400.1L326.4 406.1L320.4 412.1L314.4 406.1zM324.7 395.7L330.7 401.7L324.7 407.7L318.7 401.7zM325.9 390.8L331.9 396.8L325.9 402.8L319.9 396.8zM329.6 386.4L335.6 392.4L329.6 398.4L323.6 392.4zM331.7 383.4L337.7 389.4L331.7 395.4L325.7 389.4zM334.9 378.3L340.9 384.3L334.9 390.3L328.9 384.3zM336.9 377.6L342.9 383.6L336.9 389.6L330.9 383.6zM338.5 373.3L344.5 379.3L338.5 385.3L332.5 379.3zM343.4 371.3L349.4 377.3L343.4 383.3L337.4 377.3zM345.1 361.1L351.1 367.1L345.1 373.1L339.1 367.1zM347.7 361.6L353.7 367.6L347.7 373.6L341.7 367.6zM351.3 355.6L357.3 361.6L351.3 367.6L345.3 361.6zM353.4 351.3L359.4 357.3L353.4 363.3L347.4 357.3zM356.3 349.4L362.3 355.4L356.3 361.4L350.3 355.4zM358.1 346.7L364.1 352.7L358.1 358.7L352.1 352.7zM360.9 343.6L366.9 349.6L360.9 355.6L354.9 349.6zM363.7 339.2L369.7 345.2L363.7 351.2L357.7 345.2zM365.7 338.1L371.7 344.1L365.7 350.1L359.7 344.1zM369.2 331.8L375.2 337.8L369.2 343.8L363.2 337.8zM371.6 325.2L377.6 331.2L371.6 337.2L365.6 331.2zM373.7 322.1L379.7 328.1L373.7 334.1L367.7 328.1zM376.3 317.0L382.3 323.0L376.3 329.0L370.3 323.0zM379.7 313.0L385.7 319.0L379.7 325.0L373.7 319.0zM381.7 309.2L387.7 315.2L381.7 321.2L375.7 315.2zM384.6 306.4L390.6 312.4L384.6 318.4L378.6 312.4zM387.2 302.4L393.2 308.4L387.2 314.4L381.2 308.4zM389.5 297.2L395.5 303.2L389.5 309.2L383.5 303.2zM390.3 296.1L396.3 302.1L390.3 308.1L384.3 302.1zM395.0 294.5L401.0 300.5L395.0 306.5L389.0 300.5zM397.9 286.9L403.9 292.9L397.9 298.9L391.9 292.9zM399.7 285.3L405.7 291.3L399.7 297.3L393.7 291.3zM402.3 280.3L408.3 286.3L402.3 292.3L396.3 286.3zM405.8 280.9L411.8 286.9L405.8 292.9L399.8 286.9zM407.2 280.3L413.2 286.3L407.2 292.3L401.2 286.3zM411.3 275.0L417.3 281.0L411.3 287.0L405.3 281.0zM413.5 273.5L419.5 279.5L413.5 285.5L407.5 279.5zM416.6 271.7L422.6 277.7L416.6 283.7L410.6 277.7zM418.4 264.3L424.4 270.3L418.4 276.3L412.4 270.3zM421.1 264.3L427.1 270.3L421.1 276.3L415.1 270.3zM423.8 264.5L429.8 270.5L423.8 276.5L417.8 270.5zM425.3 262.7L431.3 268.7L425.3 274.7L419.3 268.7zM428.3 257.2L434.3 263.2L428.3 269.2L422.3 263.2zM432.1 253.2L438.1 259.2L432.1 265.2L426.1 259.2zM433.7 251.1L439.7 257.1L433.7 263.1L427.7 257.1zM436.1 246.7L442.1 252.7L436.1 258.7L430.1 252.7zM439.5 245.8L445.5 251.8L439.5 257.8L433.5 251.8zM442.8 242.9L448.8 248.9L442.8 254.9L436.8 248.9zM444.5 245.1L450.5 251.1L444.5 257.1L438.5 251.1zM447.0 236.3L453.0 242.3L447.0 248.3L441.0 242.3zM449.8 237.2L455.8 243.2L449.8 249.2L443.8 243.2zM452.6 231.5L458.6 237.5L452.6 243.5L446.6 237.5zM454.1 233.5L460.1 239.5L454.1 245.5L448.1 239.5zM457.8 229.3L463.8 235.3L457.8 241.3L451.8 235.3zM460.5 222.3L466.5 228.3L460.5 234.3L454.5 228.3zM463.5 224.1L469.5 230.1L463.5 236.1L457.5 230.1zM466.1 218.5L472.1 224.5L466.1 230.5L460.1 224.5zM468.5 216.8L474.5 222.8L468.5 228.8L462.5 222.8zM471.9 210.1L477.9 216.1L471.9 222.1L465.9 216.1zM473.3 210.2L479.3 216.2L473.3 222.2L467.3 216.2zM475.9 206.3L481.9 212.3L475.9 218.3L469.9 212.3zM479.5 206.7L485.5 212.7L479.5 218.7L473.5 212.7zM481.3 207.9L487.3 213.9L481.3 219.9L475.3 213.9zM483.4 200.3L489.4 206.3L483.4 212.3L477.4 206.3zM486.1 203.6L492.1 209.6L486.1 215.6L480.1 209.6zM489.0 202.1L495.0 208.1L489.0 214.1L483.0 208.1zM490.8 201.8L496.8 207.8L490.8 213.8L484.8 207.8zM494.9 203.7L500.9 209.7L494.9 215.7L488.9 209.7zM497.1 200.0L503.1 206.0L497.1 212.0L491.1 206.0zM500.3 201.2L506.3 207.2L500.3 213.2L494.3 207.2zM501.5 202.6L507.5 208.6L501.5 214.6L495.5 208.6zM504.5 201.9L510.5 207.9L504.5 213.9L498.5 207.9zM507.0 202.5L513.0 208.5L507.0 214.5L501.0 208.5zM510.3 200.4L516.3 206.4L510.3 212.4L504.3 206.4zM512.8 199.5L518.8 205.5L512.8 211.5L506.8 205.5zM515.6 200.2L521.6 206.2L515.6 212.2L509.6 206.2zM518.2 199.0L524.2 205.0L518.2 211.0L512.2 205.0zM519.8 199.2L525.8 205.2L519.8 211.2L513.8 205.2zM523.2 198.1L529.2 204.1L523.2 210.1L517.2 204.1zM525.7 198.7L531.7 204.7L525.7 210.7L519.7 204.7zM528.3 198.8L534.3 204.8L528.3 210.8L522.3 204.8zM531.2 199.5L537.2 205.5L531.2 211.5L525.2 205.5zM532.4 200.0L538.4 206.0L532.4 212.0L526.4 206.0zM535.7 200.0L541.7 206.0L535.7 212.0L529.7 206.0zM538.6 198.9L544.6 204.9L538.6 210.9L532.6 204.9zM540.8 200.5L546.8 206.5L540.8 212.5L534.8 206.5zM543.3 199.0L549.3 205.0L543.3 211.0L537.3 205.0zM547.1 200.6L553.1 206.6L547.1 212.6L541.1 206.6zM549.7 204.1L555.7 210.1L549.7 216.1L543.7 210.1zM552.8 203.1L558.8 209.1L552.8 215.1L546.8 209.1zM553.8 203.9L559.8 209.9L553.8 215.9L547.8 209.9zM555.6 208.4L561.6 214.4L555.6 220.4L549.6 214.4zM560.0 209.7L566.0 215.7L560.0 221.7L554.0 215.7zM562.0 217.0L568.0 223.0L562.0 229.0L556.0 223.0zM564.2 219.6L570.2 225.6L564.2 231.6L558.2 225.6zM567.8 228.0L573.8 234.0L567.8 240.0L561.8 234.0zM570.0 234.6L576.0 240.6L570.0 246.6L564.0 240.6zM571.6 234.6L577.6 240.6L571.6 246.6L565.6 240.6zM575.3 224.0L581.3 230.0L575.3 236.0L569.3 230.0zM576.9 214.3L582.9 220.3L576.9 226.3L570.9 220.3zM580.8 205.8L586.8 211.8L580.8 217.8L574.8 211.8zM582.4 198.4L588.4 204.4L582.4 210.4L576.4 204.4zM584.8 189.7L590.8 195.7L584.8 201.7L578.8 195.7zM588.8 182.2L594.8 188.2L588.8 194.2L582.8 188.2zM591.5 173.2L597.5 179.2L591.5 185.2L585.5 179.2zM593.4 164.2L599.4 170.2L593.4 176.2L587.4 170.2zM595.5 155.8L601.5 161.8L595.5 167.8L589.5 161.8zM599.2 147.5L605.2 153.5L599.2 159.5L593.2 153.5zM601.5 140.1L607.5 146.1L601.5 152.1L595.5 146.1zM604.2 135.4L610.2 141.4L604.2 147.4L598.2 141.4zM606.4 130.2L612.4 136.2L606.4 142.2L600.4 136.2zM608.4 126.6L614.4 132.6L608.4 138.6L602.4 132.6zM611.6 122.3L617.6 128.3L611.6 134.3L605.6 128.3zM615.4 120.5L621.4 126.5L615.4 132.5L609.4 126.5zM616.7 116.8L622.7 122.8L616.7 128.8L610.7 122.8zM619.7 116.2L625.7 122.2L619.7 128.2L613.7 122.2zM622.3 110.9L628.3 116.9L622.3 122.9L616.3 116.9zM625.5 108.7L631.5 114.7L625.5 120.7L619.5 114.7zM627.7 105.9L633.7 111.9L627.7 117.9L621.7 111.9zM629.9 102.6L635.9 108.6L629.9 114.6L623.9 108.6zM633.9 102.1L639.9 108.1L633.9 114.1L627.9 108.1zM635.5 98.4L641.5 104.4L635.5 110.4L629.5 104.4zM638.2 95.5L644.2 101.5L638.2 107.5L632.2 101.5zM640.3 93.6L646.3 99.6L640.3 105.6L634.3 99.6zM642.4 91.6L648.4 97.6L642.4 103.6L636.4 97.6zM646.2 87.6L652.2 93.6L646.2 99.6L640.2 93.6zM648.3 86.8L654.3 92.8L648.3 98.8L642.3 92.8zM651.3 85.2L657.3 91.2L651.3 97.2L645.3 91.2zM652.4 82.8L658.4 88.8L652.4 94.8L646.4 88.8zM657.4 79.0L663.4 85.0L657.4 91.0L651.4 85.0zM659.0 76.2L665.0 82.2L659.0 88.2L653.0 82.2zM662.1 75.4L668.1 81.4L662.1 87.4L656.1 81.4zM663.6 74.6L669.6 80.6L663.6 86.6L657.6 80.6zM666.9 75.9L672.9 81.9L666.9 87.9L660.9 81.9zM669.5 73.1L675.5 79.1L669.5 85.1L663.5 79.1zM672.7 72.4L678.7 78.4L672.7 84.4L666.7 78.4zM675.1 71.3L681.1 77.3L675.1 83.3L669.1 77.3zM676.1 66.4L682.1 72.4L676.1 78.4L670.1 72.4zM680.0 69.0L686.0 75.0L680.0 81.0L674.0 75.0zM682.6 64.7L688.6 70.7L682.6 76.7L676.6 70.7zM684.9 66.7L690.9 72.7L684.9 78.7L678.9 72.7zM687.9 66.7L693.9 72.7L687.9 78.7L681.9 72.7zM690.7 66.5L696.7 72.5L690.7 78.5L684.7 72.5zM693.6 68.5L699.6 74.5L693.6 80.5L687.6 74.5zM694.9 66.2L700.9 72.2L694.9 78.2L688.9 72.2zM697.7 63.5L703.7 69.5L697.7 75.5L691.7 69.5zM700.9 63.6L706.9 69.6L700.9 75.6L694.9 69.6zM703.8 64.5L709.8 70.5L703.8 76.5L697.8 70.5zM705.5 63.5L711.5 69.5L705.5 75.5L699.5 69.5zM708.7 64.5L714.7 70.5L708.7 76.5L702.7 70.5zM710.5 64.1L716.5 70.1L710.5 76.1L704.5 70.1zM713.9 60.2L719.9 66.2L713.9 72.2L707.9 66.2zM716.4 64.8L722.4 70.8L716.4 76.8L710.4 70.8zM719.4 68.6L725.4 74.6L719.4 80.6L713.4 74.6zM722.6 69.5L728.6 75.5L722.6 81.5L716.6 75.5zM723.9 66.9L729.9 72.9L723.9 78.9L717.9 72.9zM727.2 65.2L733.2 71.2L727.2 77.2L721.2 71.2zM728.7 63.9L734.7 69.9L728.7 75.9L722.7 69.9zM732.4 66.1L738.4 72.1L732.4 78.1L726.4 72.1zM735.9 66.1L741.9 72.1L735.9 78.1L729.9 72.1zM736.5 65.4L742.5 71.4L736.5 77.4L730.5 71.4zM739.8 68.8L745.8 74.8L739.8 80.8L733.8 74.8zM740.8 67.2L746.8 73.2L740.8 79.2L734.8 73.2zM745.6 66.8L751.6 72.8L745.6 78.8L739.6 72.8zM749.2 68.5L755.2 74.5L749.2 80.5L743.2 74.5zM750.0 69.7L756.0 75.7L750.0 81.7L744.0 75.7zM753.4 67.4L759.4 73.4L753.4 79.4L747.4 73.4zM756.6 66.6L762.6 72.6L756.6 78.6L750.6 72.6zM757.9 69.0L763.9 75.0L757.9 81.0L751.9 75.0zM761.1 74.1L767.1 80.1L761.1 86.1L755.1 80.1zM763.2 71.6L769.2 77.6L763.2 83.6L757.2 77.6zM766.0 71.5L772.0 77.5L766.0 83.5L760.0 77.5zM768.9 70.6L774.9 76.6L768.9 82.6L762.9 76.6zM772.0 73.2L778.0 79.2L772.0 85.2L766.0 79.2zM774.2 74.0L780.2 80.0L774.2 86.0L768.2 80.0zM776.7 72.2L782.7 78.2L776.7 84.2L770.7 78.2zM779.2 72.7L785.2 78.7L779.2 84.7L773.2 78.7zM782.6 76.0L788.6 82.0L782.6 88.0L776.6 82.0zM784.9 79.3L790.9 85.3L784.9 91.3L778.9 85.3zM787.4 80.4L793.4 86.4L787.4 92.4L781.4 86.4zM788.7 77.7L794.7 83.7L788.7 89.7L782.7 83.7zM792.3 81.3L798.3 87.3L792.3 93.3L786.3 87.3zM794.4 80.5L800.4 86.5L794.4 92.5L788.4 86.5zM798.7 81.6L804.7 87.6L798.7 93.6L792.7 87.6zM800.7 81.7L806.7 87.7L800.7 93.7L794.7 87.7zM803.7 82.0L809.7 88.0L803.7 94.0L797.7 88.0zM805.0 85.4L811.0 91.4L805.0 97.4L799.0 91.4zM807.2 85.4L813.2 91.4L807.2 97.4L801.2 91.4zM810.2 84.4L816.2 90.4L810.2 96.4L804.2 90.4zM813.7 85.4L819.7 91.4L813.7 97.4L807.7 91.4zM815.5 88.8L821.5 94.8L815.5 100.8L809.5 94.8zM819.0 83.1L825.0 89.1L819.0 95.1L813.0 89.1zM822.0 90.2L828.0 96.2L822.0 102.2L816.0 96.2zM823.6 86.1L829.6 92.1L823.6 98.1L817.6 92.1zM827.0 91.9L833.0 97.9L827.0 103.9L821.0 97.9zM827.7 87.4L833.7 93.4L827.7 99.4L821.7 93.4zM830.9 93.4L836.9 99.4L830.9 105.4L824.9 99.4zM833.9 88.7L839.9 94.7L833.9 100.7L827.9 94.7zM836.7 90.7L842.7 96.7L836.7 102.7L830.7 96.7zM838.6 90.0L844.6 96.0L838.6 102.0L832.6 96.0zM841.9 93.6L847.9 99.6L841.9 105.6L835.9 99.6zM845.4 92.2L851.4 98.2L845.4 104.2L839.4 98.2zM847.9 92.8L853.9 98.8L847.9 104.8L841.9 98.8zM850.2 93.6L856.2 99.6L850.2 105.6L844.2 99.6zM852.0 95.5L858.0 101.5L852.0 107.5L846.0 101.5zM856.0 92.3L862.0 98.3L856.0 104.3L850.0 98.3zM858.2 99.1L864.2 105.1L858.2 111.1L852.2 105.1zM859.8 99.0L865.8 105.0L859.8 111.0L853.8 105.0zM863.6 99.4L869.6 105.4L863.6 111.4L857.6 105.4zM865.5 94.2L871.5 100.2L865.5 106.2L859.5 100.2zM868.6 99.1L874.6 105.1L868.6 111.1L862.6 105.1zM871.1 99.2L877.1 105.2L871.1 111.2L865.1 105.2zM873.9 99.5L879.9 105.5L873.9 111.5L867.9 105.5zM877.0 99.0L883.0 105.0L877.0 111.0L871.0 105.0zM880.3 99.1L886.3 105.1L880.3 111.1L874.3 105.1zM881.6 99.7L887.6 105.7L881.6 111.7L875.6 105.7zM884.1 101.9L890.1 107.9L884.1 113.9L878.1 107.9zM886.6 98.3L892.6 104.3L886.6 110.3L880.6 104.3zM889.5 99.3L895.5 105.3L889.5 111.3L883.5 105.3zM892.2 96.5L898.2 102.5L892.2 108.5L886.2 102.5zM893.7 98.8L899.7 104.8L893.7 110.8L887.7 104.8zM897.1 99.9L903.1 105.9L897.1 111.9L891.1 105.9zM901.1 102.7L907.1 108.7L901.1 114.7L895.1 108.7zM902.8 99.9L908.8 105.9L902.8 111.9L896.8 105.9zM905.6 99.0L911.6 105.0L905.6 111.0L899.6 105.0zM907.5 97.0L913.5 103.0L907.5 109.0L901.5 103.0zM911.5 99.6L917.5 105.6L911.5 111.6L905.5 105.6zM913.1 98.9L919.1 104.9L913.1 110.9L907.1 104.9zM915.2 99.3L921.2 105.3L915.2 111.3L909.2 105.3zM917.6 97.3L923.6 103.3L917.6 109.3L911.6 103.3zM920.9 98.3L926.9 104.3L920.9 110.3L914.9 104.3zM924.3 100.5L930.3 106.5L924.3 112.5L918.3 106.5zM925.5 103.2L931.5 109.2L925.5 115.2L919.5 109.2zM927.9 96.7L933.9 102.7L927.9 108.7L921.9 102.7zM929.7 99.1L935.7 105.1L929.7 111.1L923.7 105.1zM934.1 100.0L940.1 106.0L934.1 112.0L928.1 106.0zM935.7 100.3L941.7 106.3L935.7 112.3L929.7 106.3zM938.5 100.0L944.5 106.0L938.5 112.0L932.5 106.0zM940.9 95.0L946.9 101.0L940.9 107.0L934.9 101.0zM943.6 94.8L949.6 100.8L943.6 106.8L937.6 100.8zM947.2 93.0L953.2 99.0L947.2 105.0L941.2 99.0zM948.9 90.5L954.9 96.5L948.9 102.5L942.9 96.5zM952.1 93.5L958.1 99.5L952.1 105.5L946.1 99.5zM954.2 91.2L960.2 97.2L954.2 103.2L948.2 97.2zM957.0 92.2L963.0 98.2L957.0 104.2L951.0 98.2zM960.2 92.4L966.2 98.4L960.2 104.4L954.2 98.4zM962.8 94.6L968.8 100.6L962.8 106.6L956.8 100.6zM964.4 91.3L970.4 97.3L964.4 103.3L958.4 97.3zM966.4 87.4L972.4 93.4L966.4 99.4L960.4 93.4z"/>
<path fill="#800080" d="M178.7 593.7L190.1 587.7L190.1 599.7zM179.7 579.2L191.1 573.2L191.1 585.2zM183.3 587.6L194.7 581.6L194.7 593.6zM186.3 588.0L197.7 582.0L197.7 594.0zM189.8 572.8L201.2 566.8L201.2 578.8zM190.8 581.1L202.2 575.1L202.2 587.1zM194.5 573.9L205.9 567.9L205.9 579.9zM197.1 567.4L208.5 561.4L208.5 573.4zM199.5 574.2L210.9 568.2L210.9 580.2zM202.6 570.3L214.0 564.3L214.0 576.3zM203.2 561.4L214.6 555.4L214.6 567.4zM207.4 547.5L218.8 541.5L218.8 553.5zM209.3 556.6L220.7 550.6L220.7 562.6zM212.3 553.0L223.7 547.0L223.7 559.0zM214.5 555.2L225.9 549.2L225.9 561.2zM216.7 553.0L228.1 547.0L228.1 559.0zM218.7 540.2L230.1 534.2L230.1 546.2zM222.7 552.0L234.1 546.0L234.1 558.0zM224.9 548.8L236.3 542.8L236.3 554.8zM226.9 531.9L238.3 525.9L238.3 537.9zM230.2 542.8L241.6 536.8L241.6 548.8zM232.3 542.3L243.7 536.3L243.7 548.3zM235.0 528.3L246.4 522.3L246.4 534.3zM238.3 521.7L249.7 515.7L249.7 527.7zM241.2 513.7L252.6 507.7L252.6 519.7zM242.2 507.5L253.6 501.5L253.6 513.5zM245.9 529.7L257.3 523.7L257.3 535.7zM249.0 514.1L260.4 508.1L260.4 520.1zM250.5 511.0L261.9 505.0L261.9 517.0zM253.6 503.4L265.0 497.4L265.0 509.4zM256.6 506.3L268.0 500.3L268.0 512.3zM259.6 497.8L271.0 491.8L271.0 503.8zM261.0 492.9L272.4 486.9L272.4 498.9zM263.3 489.7L274.7 483.7L274.7 495.7zM266.5 491.6L277.9 485.6L277.9 497.6zM269.2 482.5L280.6 476.5L280.6 488.5zM272.1 484.6L283.5 478.6L283.5 490.6zM274.8 480.9L286.2 474.9L286.2 486.9zM276.2 474.5L287.6 468.5L287.6 480.5zM280.4 466.0L291.8 460.0L291.8 472.0zM281.6 475.7L293.0 469.7L293.0 481.7zM285.4 463.1L296.8 457.1L296.8 469.1zM288.1 453.1L299.5 447.1L299.5 459.1zM290.7 455.1L302.1 449.1L302.1 461.1zM293.2 454.6L304.6 448.6L304.6 460.6zM295.9 447.6L307.3 441.6L307.3 453.6zM297.8 438.5L309.2 432.5L309.2 444.5zM300.4 442.2L311.8 436.2L311.8 448.2zM304.8 440.7L316.2 434.7L316.2 446.7zM307.1 431.1L318.5 425.1L318.5 437.1zM309.6 431.5L321.0 425.5L321.0 437.5zM311.9 429.3L323.3 423.3L323.3 435.3zM313.0 419.7L324.4 413.7L324.4 425.7zM317.7 422.0L329.1 416.0L329.1 428.0zM319.1 416.0L330.5 410.0L330.5 422.0zM321.8 406.2L333.2 400.2L333.2 412.2zM324.9 406.3L336.3 400.3L336.3 412.3zM326.6 398.5L338.0 392.5L338.0 404.5zM330.5 404.5L341.9 398.5L341.9 410.5zM330.8 399.4L342.2 393.4L342.2 405.4zM335.6 392.9L347.0 386.9L347.0 398.9zM337.8 386.8L349.2 380.8L349.2 392.8zM339.6 388.1L351.0 382.1L351.0 394.1zM343.3 377.8L354.7 371.8L354.7 383.8zM346.1 376.0L357.5 370.0L357.5 382.0zM348.5 372.0L359.9 366.0L359.9 378.0zM351.2 366.7L362.6 360.7L362.6 372.7zM353.0 363.7L364.4 357.7L364.4 369.7zM356.5 362.4L367.9 356.4L367.9 368.4zM359.1 356.1L370.5 350.1L370.5 362.1zM361.8 354.9L373.2 348.9L373.2 360.9zM364.1 344.6L375.5 338.6L375.5 350.6zM365.3 345.6L376.7 339.6L376.7 351.6zM369.2 341.4L380.6 335.4L380.6 347.4zM370.7 338.8L382.1 332.8L382.1 344.8zM373.6 333.4L385.0 327.4L385.0 339.4zM376.6 329.3L388.0 323.3L388.0 335.3zM379.4 326.7L390.8 320.7L390.8 332.7zM381.8 325.6L393.2 319.6L393.2 331.6zM384.8 316.5L396.2 310.5L396.2 322.5zM387.5 316.1L398.9 310.1L398.9 322.1zM389.9 317.7L401.3 311.7L401.3 323.7zM392.4 315.4L403.8 309.4L403.8 321.4zM395.2 309.3L406.6 303.3L406.6 315.3zM398.0 306.3L409.4 300.3L409.4 312.3zM399.7 304.6L411.1 298.6L411.1 310.6zM401.9 299.9L413.3 293.9L413.3 305.9zM406.1 293.7L417.5 287.7L417.5 299.7zM408.2 288.4L419.6 282.4L419.6 294.4zM409.3 288.3L420.7 282.3L420.7 294.3zM414.0 285.1L425.4 279.1L425.4 291.1zM416.6 280.1L428.0 274.1L428.0 286.1zM417.4 274.5L428.8 268.5L428.8 280.5zM420.4 274.2L431.8 268.2L431.8 280.2zM423.4 272.7L434.8 266.7L434.8 278.7zM425.6 271.6L437.0 265.6L437.0 277.6zM428.6 271.0L440.0 265.0L440.0 277.0zM431.6 264.4L443.0 258.4L443.0 270.4zM434.8 259.6L446.2 253.6L446.2 265.6zM435.3 259.2L446.7 253.2L446.7 265.2zM439.5 258.8L450.9 252.8L450.9 264.8zM442.7 253.1L454.1 247.1L454.1 259.1zM443.2 252.0L454.6 246.0L454.6 258.0zM447.5 250.4L458.9 244.4L458.9 256.4zM449.9 251.0L461.3 245.0L461.3 257.0zM452.2 241.4L463.6 235.4L463.6 247.4zM455.6 241.6L467.0 235.6L467.0 247.6zM458.6 234.0L470.0 228.0L470.0 240.0zM461.1 235.8L472.5 229.8L472.5 241.8zM464.3 231.4L475.7 225.4L475.7 237.4zM465.2 230.5L476.6 224.5L476.6 236.5zM467.0 222.6L478.4 216.6L478.4 228.6zM470.5 221.7L481.9 215.7L481.9 227.7zM473.6 223.2L485.0 217.2L485.0 229.2zM476.8 218.6L488.2 212.6L488.2 224.6zM479.0 223.5L490.4 217.5L490.4 229.5zM481.0 218.7L492.4 212.7L492.4 224.7zM484.8 220.8L496.2 214.8L496.2 226.8zM486.8 219.7L498.2 213.7L498.2 225.7zM489.3 220.0L500.7 214.0L500.7 226.0zM491.7 217.7L503.1 211.7L503.1 223.7zM494.7 221.7L506.1 215.7L506.1 227.7zM497.4 219.1L508.8 213.1L508.8 225.1zM499.7 215.8L511.1 209.8L511.1 221.8zM500.8 221.5L512.2 215.5L512.2 227.5zM504.3 218.0L515.7 212.0L515.7 224.0zM507.8 219.5L519.2 213.5L519.2 225.5zM511.1 221.4L522.5 215.4L522.5 227.4zM513.4 216.5L524.8 210.5L524.8 222.5zM516.0 217.7L527.4 211.7L527.4 223.7zM519.0 214.8L530.4 208.8L530.4 220.8zM521.0 219.7L532.4 213.7L532.4 225.7zM524.0 216.1L535.4 210.1L535.4 222.1zM526.4 214.2L537.8 208.2L537.8 220.2zM528.6 219.6L540.0 213.6L540.0 225.6zM530.5 215.7L541.9 209.7L541.9 221.7zM532.7 215.6L544.1 209.6L544.1 221.6zM536.6 216.4L548.0 210.4L548.0 222.4zM538.2 214.5L549.6 208.5L549.6 220.5zM541.5 215.6L552.9 209.6L552.9 221.6zM544.6 217.8L556.0 211.8L556.0 223.8zM546.3 218.2L557.7 212.2L557.7 224.2zM549.9 218.6L561.3 212.6L561.3 224.6zM552.0 217.5L563.4 211.5L563.4 223.5zM554.1 222.6L565.5 216.6L565.5 228.6zM557.6 223.8L569.0 217.8L569.0 229.8zM560.3 229.9L571.7 223.9L571.7 235.9zM562.2 235.1L573.6 229.1L573.6 241.1zM565.4 237.7L576.8 231.7L576.8 243.7zM567.0 231.1L578.4 225.1L578.4 237.1zM570.4 224.3L581.8 218.3L581.8 230.3zM573.1 218.8L584.5 212.8L584.5 224.8zM574.9 212.5L586.3 206.5L586.3 218.5zM578.2 205.1L589.6 199.1L589.6 211.1zM581.7 198.2L593.1 192.2L593.1 204.2zM583.0 190.6L594.4 184.6L594.4 196.6zM585.3 182.1L596.7 176.1L596.7 188.1zM587.8 174.8L599.2 168.8L599.2 180.8zM590.8 166.4L602.2 160.4L602.2 172.4zM593.2 158.9L604.6 152.9L604.6 164.9zM595.5 151.7L606.9 145.7L606.9 157.7zM599.2 147.6L610.6 141.6L610.6 153.6zM601.9 141.8L613.3 135.8L613.3 147.8zM603.7 137.0L615.1 131.0L615.1 143.0zM607.0 135.2L618.4 129.2L618.4 141.2zM610.1 130.2L621.5 124.2L621.5 136.2zM612.4 127.8L623.8 121.8L623.8 133.8zM614.9 125.4L626.3 119.4L626.3 131.4zM617.8 120.0L629.2 114.0L629.2 126.0zM619.6 117.9L631.0 111.9L631.0 123.9zM623.2 117.1L634.6 111.1L634.6 123.1zM626.4 113.2L637.8 107.2L637.8 119.2zM627.5 112.4L638.9 106.4L638.9 118.4zM629.4 111.0L640.8 105.0L640.8 117.0zM632.7 104.9L644.1 98.9L644.1 110.9zM635.1 104.3L646.5 98.3L646.5 110.3zM638.5 99.4L649.9 93.4L649.9 105.4zM641.7 99.8L653.1 93.8L653.1 105.8zM643.9 97.7L655.3 91.7L655.3 103.7zM647.3 96.4L658.7 90.4L658.7 102.4zM649.1 93.8L660.5 87.8L660.5 99.8zM651.5 93.7L662.9 87.7L662.9 99.7zM652.9 90.6L664.3 84.6L664.3 96.6zM656.9 91.9L668.3 85.9L668.3 97.9zM658.9 90.4L670.3 84.4L670.3 96.4zM661.6 87.8L673.0 81.8L673.0 93.8zM664.4 84.6L675.8 78.6L675.8 90.6zM668.1 82.1L679.5 76.1L679.5 88.1zM670.3 81.2L681.7 75.2L681.7 87.2zM672.4 76.9L683.8 70.9L683.8 82.9zM674.1 72.9L685.5 66.9L685.5 78.9zM677.3 85.3L688.7 79.3L688.7 91.3zM680.1 74.9L691.5 68.9L691.5 80.9zM683.4 76.0L694.8 70.0L694.8 82.0zM685.8 79.8L697.2 73.8L697.2 85.8zM688.4 77.8L699.8 71.8L699.8 83.8zM690.1 83.2L701.5 77.2L701.5 89.2zM693.9 78.5L705.3 72.5L705.3 84.5zM697.6 73.7L709.0 67.7L709.0 79.7zM697.7 81.0L709.1 75.0L709.1 87.0zM700.5 79.4L711.9 73.4L711.9 85.4zM703.8 77.6L715.2 71.6L715.2 83.6zM707.0 76.2L718.4 70.2L718.4 82.2zM709.1 77.9L720.5 71.9L720.5 83.9zM711.7 79.5L723.1 73.5L723.1 85.5zM715.1 76.5L726.5 70.5L726.5 82.5zM716.2 79.9L727.6 73.9L727.6 85.9zM718.2 72.3L729.6 66.3L729.6 78.3zM721.1 75.5L732.5 69.5L732.5 81.5zM725.2 78.7L736.6 72.7L736.6 84.7zM727.9 81.3L739.3 75.3L739.3 87.3zM729.7 80.9L741.1 74.9L741.1 86.9zM731.6 81.7L743.0 75.7L743.0 87.7zM734.6 80.9L746.0 74.9L746.0 86.9zM738.0 79.2L749.4 73.2L749.4 85.2zM740.9 84.0L752.3 78.0L752.3 90.0zM742.6 80.5L754.0 74.5L754.0 86.5zM745.1 81.3L756.5 75.3L756.5 87.3zM747.6 84.2L759.0 78.2L759.0 90.2zM750.4 78.6L761.8 72.6L761.8 84.6zM753.8 81.1L765.2 75.1L765.2 87.1zM756.1 82.0L767.5 76.0L767.5 88.0zM758.8 85.1L770.2 79.1L770.2 91.1zM761.3 86.5L772.7 80.5L772.7 92.5zM764.0 85.5L775.4 79.5L775.4 91.5zM765.7 90.7L777.1 84.7L777.1 96.7zM768.4 87.2L779.8 81.2L779.8 93.2zM771.9 92.4L783.3 86.4L783.3 98.4zM774.6 90.8L786.0 84.8L786.0 96.8zM777.6 90.2L789.0 84.2L789.0 96.2zM779.5 93.8L790.9 87.8L790.9 99.8zM781.6 95.9L793.0 89.9L793.0 101.9zM784.7 97.0L796.1 91.0L796.1 103.0zM787.3 95.4L798.7 89.4L798.7 101.4zM790.3 99.3L801.7 93.3L801.7 105.3zM792.5 97.2L803.9 91.2L803.9 103.2zM795.6 95.2L807.0 89.2L807.0 101.2zM798.2 103.3L809.6 97.3L809.6 109.3zM800.8 101.1L812.2 95.1L812.2 107.1zM803.5 98.9L814.9 92.9L814.9 104.9zM805.1 103.2L816.5 97.2L816.5 109.2zM809.1 103.6L820.5 97.6L820.5 109.6zM812.0 104.7L823.4 98.7L823.4 110.7zM814.1 99.8L825.5 93.8L825.5 105.8zM817.2 108.2L828.6 102.2L828.6 114.2zM819.1 103.5L830.5 97.5L830.5 109.5zM821.2 104.3L832.6 98.3L832.6 110.3zM824.4 104.3L835.8 98.3L835.8 110.3zM826.7 106.9L838.1 100.9L838.1 112.9zM829.3 105.1L840.7 99.1L840.7 111.1zM832.9 107.2L844.3 101.2L844.3 113.2zM834.0 108.5L845.4 102.5L845.4 114.5zM837.9 100.0L849.3 94.0L849.3 106.0zM839.5 104.5L850.9 98.5L850.9 110.5zM841.4 110.4L852.8 104.4L852.8 116.4zM845.5 109.7L856.9 103.7L856.9 115.7zM847.7 107.1L859.1 101.1L859.1 113.1zM850.4 104.8L861.8 98.8L861.8 110.8zM853.1 109.3L864.5 103.3L864.5 115.3zM856.2 107.2L867.6 101.2L867.6 113.2zM858.4 108.8L869.8 102.8L869.8 114.8zM860.6 106.4L872.0 100.4L872.0 112.4zM863.3 111.0L874.7 105.0L874.7 117.0zM866.3 111.7L877.7 105.7L877.7 117.7zM868.3 109.1L879.7 103.1L879.7 115.1zM871.5 109.2L882.9 103.2L882.9 115.2zM872.6 109.8L884.0 103.8L884.0 115.8zM876.4 106.6L887.8 100.6L887.8 112.6zM879.1 107.9L890.5 101.9L890.5 113.9zM882.1 109.3L893.5 103.3L893.5 115.3zM883.7 112.5L895.1 106.5L895.1 118.5zM886.8 107.4L898.2 101.4L898.2 113.4zM889.8 106.8L901.2 100.8L901.2 112.8zM893.9 110.4L905.3 104.4L905.3 116.4zM894.9 108.6L906.3 102.6L906.3 114.6zM897.8 111.0L909.2 105.0L909.2 117.0zM899.7 107.4L911.1 101.4L911.1 113.4zM903.9 108.0L915.3 102.0L915.3 114.0zM905.1 111.6L916.5 105.6L916.5 117.6zM907.7 106.6L919.1 100.6L919.1 112.6zM910.6 107.1L922.0 101.1L922.0 113.1zM912.3 106.7L923.7 100.7L923.7 112.7zM915.1 102.7L926.5 96.7L926.5 108.7zM918.1 103.8L929.5 97.8L929.5 109.8zM920.5 102.3L931.9 96.3L931.9 108.3zM924.1 105.0L935.5 99.0L935.5 111.0zM925.9 100.2L937.3 94.2L937.3 106.2zM930.1 105.1L941.5 99.1L941.5 111.1zM931.6 100.6L943.0 94.6L943.0 106.6zM933.6 105.7L945.0 99.7L945.0 111.7zM936.7 100.6L948.1 94.6L948.1 106.6zM939.6 103.0L951.0 97.0L951.0 109.0zM941.8 103.2L953.2 97.2L953.2 109.2zM944.7 96.7L956.1 90.7L956.1 102.7zM946.9 96.6L958.3 90.6L958.3 102.6zM949.2 94.1L960.6 88.1L960.6 100.1zM952.2 93.4L963.6 87.4L963.6 99.4zM955.9 90.6L967.3 84.6L967.3 96.6zM957.3 89.0L968.7 83.0L968.7 95.0zM960.1 86.9L971.5 80.9L971.5 92.9zM178.4 591.5L189.8 585.5L189.8 597.5zM181.6 572.9L193.0 566.9L193.0 578.9zM184.8 596.4L196.2 590.4L196.2 602.4zM187.0 598.0L198.4 592.0L198.4 604.0zM190.5 591.5L201.9 585.5L201.9 597.5zM193.0 587.5L204.4 581.5L204.4 593.5zM194.7 576.5L206.1 570.5L206.1 582.5zM197.6 570.1L209.0 564.1L209.0 576.1zM200.6 567.6L212.0 561.6L212.0 573.6zM203.1 574.9L214.5 568.9L214.5 580.9zM205.3 565.8L216.7 559.8L216.7 571.8zM207.0 555.5L218.4 549.5L218.4 561.5zM211.5 561.4L222.9 555.4L222.9 567.4zM213.3 554.3L224.7 548.3L224.7 560.3zM216.0 566.9L227.4 560.9L227.4 572.9zM218.1 551.8L229.5 545.8L229.5 557.8zM222.0 549.7L233.4 543.7L233.4 555.7zM223.7 560.0L235.1 554.0L235.1 566.0zM226.5 548.8L237.9 542.8L237.9 554.8zM227.8 542.0L239.2 536.0L239.2 548.0zM231.4 548.2L242.8 542.2L242.8 554.2zM234.2 533.7L245.6 527.7L245.6 539.7zM237.1 529.9L248.5 523.9L248.5 535.9zM239.9 530.4L251.3 524.4L251.3 536.4zM242.0 529.2L253.4 523.2L253.4 535.2zM245.3 526.0L256.7 520.0L256.7 532.0zM247.2 519.0L258.6 513.0L258.6 525.0zM249.8 511.1L261.2 505.1L261.2 517.1zM252.5 521.3L263.9 515.3L263.9 527.3zM254.2 508.9L265.6 502.9L265.6 514.9zM256.4 504.9L267.8 498.9L267.8 510.9zM261.5 507.3L272.9 501.3L272.9 513.3zM262.0 505.8L273.4 499.8L273.4 511.8zM265.2 496.6L276.6 490.6L276.6 502.6zM268.6 500.6L280.0 494.6L280.0 506.6zM270.4 487.4L281.8 481.4L281.8 493.4zM274.1 486.4L285.5 480.4L285.5 492.4zM274.9 486.9L286.3 480.9L286.3 492.9zM278.7 478.0L290.1 472.0L290.1 484.0zM281.7 478.6L293.1 472.6L293.1 484.6zM285.2 474.5L296.6 468.5L296.6 480.5zM287.4 462.3L298.8 456.3L298.8 468.3zM288.7 467.6L300.1 461.6L300.1 473.6zM292.3 471.9L303.7 465.9L303.7 477.9zM294.5 455.8L305.9 449.8L305.9 461.8zM296.3 458.0L307.7 452.0L307.7 464.0zM299.3 453.7L310.7 447.7L310.7 459.7zM302.8 440.0L314.2 434.0L314.2 446.0zM304.6 442.9L316.0 436.9L316.0 448.9zM306.9 435.7L318.3 429.7L318.3 441.7zM309.7 440.5L321.1 434.5L321.1 446.5zM311.9 435.3L323.3 429.3L323.3 441.3zM314.3 430.6L325.7 424.6L325.7 436.6zM318.1 420.9L329.5 414.9L329.5 426.9zM320.8 421.9L332.2 415.9L332.2 427.9zM323.7 422.2L335.1 416.2L335.1 428.2zM324.8 408.8L336.2 402.8L336.2 414.8zM327.7 409.1L339.1 403.1L339.1 415.1zM331.2 402.9L342.6 396.9L342.6 408.9zM333.7 396.7L345.1 390.7L345.1 402.7zM336.1 388.4L347.5 382.4L347.5 394.4zM338.1 391.1L349.5 385.1L349.5 397.1zM341.2 382.4L352.6 376.4L352.6 388.4zM343.2 386.9L354.6 380.9L354.6 392.9zM347.5 378.6L358.9 372.6L358.9 384.6zM349.7 374.4L361.1 368.4L361.1 380.4zM351.3 377.2L362.7 371.2L362.7 383.2zM355.2 370.3L366.6 364.3L366.6 376.3zM356.5 365.8L367.9 359.8L367.9 371.8zM360.1 358.9L371.5 352.9L371.5 364.9zM362.4 357.8L373.8 351.8L373.8 363.8zM364.7 353.9L376.1 347.9L376.1 359.9zM368.4 350.9L379.8 344.9L379.8 356.9zM369.2 344.2L380.6 338.2L380.6 350.2zM372.6 342.0L384.0 336.0L384.0 348.0zM375.2 338.4L386.6 332.4L386.6 344.4zM377.0 335.3L388.4 329.3L388.4 341.3zM379.7 329.4L391.1 323.4L391.1 335.4zM383.3 329.5L394.7 323.5L394.7 335.5zM386.0 324.3L397.4 318.3L397.4 330.3zM387.9 320.9L399.3 314.9L399.3 326.9zM391.4 316.6L402.8 310.6L402.8 322.6zM394.0 311.7L405.4 305.7L405.4 317.7zM396.8 310.3L408.2 304.3L408.2 316.3zM398.8 311.6L410.2 305.6L410.2 317.6zM401.5 302.6L412.9 296.6L412.9 308.6zM404.5 299.1L415.9 293.1L415.9 305.1zM406.5 296.1L417.9 290.1L417.9 302.1zM408.9 294.4L420.3 288.4L420.3 300.4zM411.3 297.8L422.7 291.8L422.7 303.8zM414.9 291.2L426.3 285.2L426.3 297.2zM418.0 285.9L429.4 279.9L429.4 291.9zM418.8 282.8L430.2 276.8L430.2 288.8zM422.3 282.2L433.7 276.2L433.7 288.2zM425.5 278.7L436.9 272.7L436.9 284.7zM428.6 278.9L440.0 272.9L440.0 284.9zM430.5 272.2L441.9 266.2L441.9 278.2zM432.5 275.7L443.9 269.7L443.9 281.7zM436.0 268.1L447.4 262.1L447.4 274.1zM439.6 262.4L451.0 256.4L451.0 268.4zM441.1 265.3L452.5 259.3L452.5 271.3zM443.9 256.1L455.3 250.1L455.3 262.1zM447.1 251.4L458.5 245.4L458.5 257.4zM447.9 252.2L459.3 246.2L459.3 258.2zM451.8 251.9L463.2 245.9L463.2 257.9zM454.8 248.8L466.2 242.8L466.2 254.8zM457.2 247.8L468.6 241.8L468.6 253.8zM459.3 239.9L470.7 233.9L470.7 245.9zM461.6 241.8L473.0 235.8L473.0 247.8zM464.1 235.8L475.5 229.8L475.5 241.8zM466.3 236.5L477.7 230.5L477.7 242.5zM469.4 230.3L480.8 224.3L480.8 236.3zM471.6 232.7L483.0 226.7L483.0 238.7zM474.8 228.1L486.2 222.1L486.2 234.1zM477.4 228.0L488.8 222.0L488.8 234.0zM479.8 223.3L491.2 217.3L491.2 229.3zM482.5 225.7L493.9 219.7L493.9 231.7zM485.4 224.7L496.8 218.7L496.8 230.7zM487.3 221.7L498.7 215.7L498.7 227.7zM491.0 225.5L502.4 219.5L502.4 231.5zM493.3 225.3L504.7 219.3L504.7 231.3zM496.2 222.7L507.6 216.7L507.6 228.7zM498.2 224.0L509.6 218.0L509.6 230.0zM500.9 219.2L512.3 213.2L512.3 225.2zM503.8 221.3L515.2 215.3L515.2 227.3zM506.4 220.9L517.8 214.9L517.8 226.9zM508.7 221.6L520.1 215.6L520.1 227.6zM511.3 225.8L522.7 219.8L522.7 231.8zM513.8 218.8L525.2 212.8L525.2 224.8zM516.5 220.9L527.9 214.9L527.9 226.9zM518.9 223.8L530.3 217.8L530.3 229.8zM521.5 222.2L532.9 216.2L532.9 228.2zM524.0 220.5L535.4 214.5L535.4 226.5zM528.0 218.6L539.4 212.6L539.4 224.6zM529.4 220.0L540.8 214.0L540.8 226.0zM532.4 219.9L543.8 213.9L543.8 225.9zM534.5 220.0L545.9 214.0L545.9 226.0zM537.8 221.9L549.2 215.9L549.2 227.9zM541.0 221.5L552.4 215.5L552.4 227.5zM542.5 220.5L553.9 214.5L553.9 226.5zM545.6 222.6L557.0 216.6L557.0 228.6zM548.1 221.4L559.5 215.4L559.5 227.4zM551.3 222.0L562.7 216.0L562.7 228.0zM553.3 228.7L564.7 222.7L564.7 234.7zM555.9 227.9L567.3 221.9L567.3 233.9zM558.5 231.2L569.9 225.2L569.9 237.2zM560.1 236.7L571.5 230.7L571.5 242.7zM564.4 239.3L575.8 233.3L575.8 245.3zM567.4 242.7L578.8 236.7L578.8 248.7zM568.6 229.5L580.0 223.5L580.0 235.5zM572.2 223.0L583.6 217.0L583.6 229.0zM574.3 215.1L585.7 209.1L585.7 221.1zM577.8 210.3L589.2 204.3L589.2 216.3zM579.2 203.0L590.6 197.0L590.6 209.0zM582.4 196.2L593.8 190.2L593.8 202.2zM585.5 188.1L596.9 182.1L596.9 194.1zM587.7 180.8L599.1 174.8L599.1 186.8zM590.1 172.6L601.5 166.6L601.5 178.6zM592.6 164.3L604.0 158.3L604.0 170.3zM594.9 156.8L606.3 150.8L606.3 162.8zM598.0 152.3L609.4 146.3L609.4 158.3zM599.9 147.1L611.3 141.1L611.3 153.1zM604.1 143.2L615.5 137.2L615.5 149.2zM606.1 138.8L617.5 132.8L617.5 144.8zM608.3 134.9L619.7 128.9L619.7 140.9zM610.1 134.0L621.5 128.0L621.5 140.0zM614.2 130.6L625.6 124.6L625.6 136.6zM617.0 127.1L628.4 121.1L628.4 133.1zM619.1 125.1L630.5 119.1L630.5 131.1zM622.0 119.5L633.4 113.5L633.4 125.5zM624.6 116.4L636.0 110.4L636.0 122.4zM626.7 115.2L638.1 109.2L638.1 121.2zM629.2 113.1L640.6 107.1L640.6 119.1zM632.0 113.2L643.4 107.2L643.4 119.2zM635.2 110.9L646.6 104.9L646.6 116.9zM636.8 106.7L648.2 100.7L648.2 112.7zM638.9 103.0L650.3 97.0L650.3 109.0zM642.5 104.3L653.9 98.3L653.9 110.3zM645.1 101.3L656.5 95.3L656.5 107.3zM647.6 97.0L659.0 91.0L659.0 103.0zM650.3 94.8L661.7 88.8L661.7 100.8zM652.2 98.3L663.6 92.3L663.6 104.3zM655.0 93.9L666.4 87.9L666.4 99.9zM657.9 91.2L669.3 85.2L669.3 97.2zM660.6 94.8L672.0 88.8L672.0 100.8zM663.6 90.9L675.0 84.9L675.0 96.9zM666.3 88.1L677.7 82.1L677.7 94.1zM668.6 88.7L680.0 82.7L680.0 94.7zM671.1 85.3L682.5 79.3L682.5 91.3zM673.2 87.0L684.6 81.0L684.6 93.0zM676.1 90.2L687.5 84.2L687.5 96.2zM678.1 88.8L689.5 82.8L689.5 94.8zM681.2 90.9L692.6 84.9L692.6 96.9zM684.4 88.6L695.8 82.6L695.8 94.6zM687.1 83.5L698.5 77.5L698.5 89.5zM688.9 84.1L700.3 78.1L700.3 90.1zM692.7 83.4L704.1 77.4L704.1 89.4zM693.3 81.3L704.7 75.3L704.7 87.3zM697.6 87.6L709.0 81.6L709.0 93.6zM699.9 85.9L711.3 79.9L711.3 91.9zM702.4 84.3L713.8 78.3L713.8 90.3zM705.3 80.3L716.7 74.3L716.7 86.3zM707.5 84.0L718.9 78.0L718.9 90.0zM711.6 85.2L723.0 79.2L723.0 91.2zM712.7 84.2L724.1 78.2L724.1 90.2zM715.4 87.5L726.8 81.5L726.8 93.5zM718.4 90.4L729.8 84.4L729.8 96.4zM719.7 84.2L731.1 78.2L731.1 90.2zM723.3 86.8L734.7 80.8L734.7 92.8zM725.2 84.7L736.6 78.7L736.6 90.7zM729.4 89.2L740.8 83.2L740.8 95.2zM731.0 88.7L742.4 82.7L742.4 94.7zM733.8 84.6L745.2 78.6L745.2 90.6zM735.5 86.4L746.9 80.4L746.9 92.4zM740.1 84.8L751.5 78.8L751.5 90.8zM740.7 89.3L752.1 83.3L752.1 95.3zM743.5 87.7L754.9 81.7L754.9 93.7zM746.5 86.4L757.9 80.4L757.9 92.4zM748.3 86.2L759.7 80.2L759.7 92.2zM751.4 89.1L762.8 83.1L762.8 95.1zM754.5 88.6L765.9 82.6L765.9 94.6zM758.0 90.2L769.4 84.2L769.4 96.2zM760.6 91.2L772.0 85.2L772.0 97.2zM762.0 91.9L773.4 85.9L773.4 97.9zM764.9 91.8L776.3 85.8L776.3 97.8zM768.2 97.7L779.6 91.7L779.6 103.7zM771.1 95.6L782.5 89.6L782.5 101.6zM772.6 99.5L784.0 93.5L784.0 105.5zM775.5 98.1L786.9 92.1L786.9 104.1zM778.3 100.0L789.7 94.0L789.7 106.0zM781.0 100.0L792.4 94.0L792.4 106.0zM783.4 102.1L794.8 96.1L794.8 108.1zM787.2 102.6L798.6 96.6L798.6 108.6zM788.7 106.5L800.1 100.5L800.1 112.5zM792.1 99.9L803.5 93.9L803.5 105.9zM794.3 107.7L805.7 101.7L805.7 113.7zM798.6 109.7L810.0 103.7L810.0 115.7zM800.1 104.6L811.5 98.6L811.5 110.6zM800.8 104.6L812.2 98.6L812.2 110.6zM804.9 107.0L816.3 101.0L816.3 113.0zM805.9 108.2L817.3 102.2L817.3 114.2zM810.5 110.9L821.9 104.9L821.9 116.9zM812.2 103.7L823.6 97.7L823.6 109.7zM813.7 113.6L825.1 107.6L825.1 119.6zM817.0 103.6L828.4 97.6L828.4 109.6zM820.0 114.4L831.4 108.4L831.4 120.4zM823.6 113.5L835.0 107.5L835.0 119.5zM825.5 112.0L836.9 106.0L836.9 118.0zM828.3 113.0L839.7 107.0L839.7 119.0zM830.2 111.0L841.6 105.0L841.6 117.0zM833.0 115.0L844.4 109.0L844.4 121.0zM835.0 114.1L846.4 108.1L846.4 120.1zM838.2 117.8L849.6 111.8L849.6 123.8zM840.9 110.9L852.3 104.9L852.3 116.9zM843.6 115.2L855.0 109.2L855.0 121.2zM845.8 116.7L857.2 110.7L857.2 122.7zM848.8 115.0L860.2 109.0L860.2 121.0zM851.3 113.0L862.7 107.0L862.7 119.0zM854.3 114.6L865.7 108.6L865.7 120.6zM856.4 117.7L867.8 111.7L867.8 123.7zM859.0 115.6L870.4 109.6L870.4 121.6zM861.4 115.3L872.8 109.3L872.8 121.3zM864.2 115.2L875.6 109.2L875.6 121.2zM867.0 117.2L878.4 111.2L878.4 123.2zM869.2 114.7L880.6 108.7L880.6 120.7zM873.1 119.3L884.5 113.3L884.5 125.3zM875.6 116.1L887.0 110.1L887.0 122.1zM877.8 118.5L889.2 112.5L889.2 124.5zM880.7 116.1L892.1 110.1L892.1 122.1zM882.2 117.6L893.6 111.6L893.6 123.6zM885.1 114.1L896.5 108.1L896.5 120.1zM887.8 116.7L899.2 110.7L899.2 122.7zM890.8 112.3L902.2 106.3L902.2 118.3zM893.8 117.5L905.2 111.5L905.2 123.5zM896.4 112.1L907.8 106.1L907.8 118.1zM897.7 116.7L909.1 110.7L909.1 122.7zM901.1 120.5L912.5 114.5L912.5 126.5zM904.4 116.3L915.8 110.3L915.8 122.3zM906.3 111.1L917.7 105.1L917.7 117.1zM909.3 112.4L920.7 106.4L920.7 118.4zM910.7 111.3L922.1 105.3L922.1 117.3zM914.3 113.2L925.7 107.2L925.7 119.2zM916.7 110.9L928.1 104.9L928.1 116.9zM918.3 114.0L929.7 108.0L929.7 120.0zM922.6 106.4L934.0 100.4L934.0 112.4zM925.5 106.3L936.9 100.3L936.9 112.3zM927.8 108.7L939.2 102.7L939.2 114.7zM929.8 110.8L941.2 104.8L941.2 116.8zM932.5 110.4L943.9 104.4L943.9 116.4zM934.8 106.4L946.2 100.4L946.2 112.4zM938.1 106.3L949.5 100.3L949.5 112.3zM940.7 108.7L952.1 102.7L952.1 114.7zM943.9 103.5L955.3 97.5L955.3 109.5zM945.6 102.0L957.0 96.0L957.0 108.0zM948.8 101.3L960.2 95.3L960.2 107.3zM950.8 99.9L962.2 93.9L962.2 105.9zM953.1 98.2L964.5 92.2L964.5 104.2zM956.1 96.5L967.5 90.5L967.5 102.5zM958.2 94.9L969.6 88.9L969.6 100.9zM959.5 94.4L970.9 88.4L970.9 100.4z"/>
</g>
<rect x="142.3" y="3.5" width="867.3" height="615.6" fill="none" stroke="#000" stroke-width="2.3"/>
<line x1="184.2" y1="619.1" x2="184.2" y2="612.1" stroke="#000" stroke-width="1.8"/>
<line x1="184.2" y1="3.5" x2="184.2" y2="10.5" stroke="#000" stroke-width="1.8"/>
<line x1="227.7" y1="619.1" x2="227.7" y2="605.6" stroke="#000" stroke-width="1.8"/>
<line x1="227.7" y1="3.5" x2="227.7" y2="17.0" stroke="#000" stroke-width="1.8"/>
<line x1="271.1" y1="619.1" x2="271.1" y2="612.1" stroke="#000" stroke-width="1.8"/>
<line x1="271.1" y1="3.5" x2="271.1" y2="10.5" stroke="#000" stroke-width="1.8"/>
<line x1="314.6" y1="619.1" x2="314.6" y2="605.6" stroke="#000" stroke-width="1.8"/>
<line x1="314.6" y1="3.5" x2="314.6" y2="17.0" stroke="#000" stroke-width="1.8"/>
<line x1="358.0" y1="619.1" x2="358.0" y2="612.1" stroke="#000" stroke-width="1.8"/>
<line x1="358.0" y1="3.5" x2="358.0" y2="10.5" stroke="#000" stroke-width="1.8"/>
<line x1="401.5" y1="619.1" x2="401.5" y2="605.6" stroke="#000" stroke-width="1.8"/>
<line x1="401.5" y1="3.5" x2="401.5" y2="17.0" stroke="#000" stroke-width="1.8"/>
<line x1="444.9" y1="619.1" x2="444.9" y2="612.1" stroke="#000" stroke-width="1.8"/>
<line x1="444.9" y1="3.5" x2="444.9" y2="10.5" stroke="#000" stroke-width="1.8"/>
<line x1="488.4" y1="619.1" x2="488.4" y2="605.6" stroke="#000" stroke-width="1.8"/>
<line x1="488.4" y1="3.5" x2="488.4" y2="17.0" stroke="#000" stroke-width="1.8"/>
<line x1="531.8" y1="619.1" x2="531.8" y2="612.1" stroke="#000" stroke-width="1.8"/>
<line x1="531.8" y1="3.5" x2="531.8" y2="10.5" stroke="#000" stroke-width="1.8"/>
<line x1="575.3" y1="619.1" x2="575.3" y2="605.6" stroke="#000" stroke-width="1.8"/>
<line x1="575.3" y1="3.5" x2="575.3" y2="17.0" stroke="#000" stroke-width="1.8"/>
<line x1="618.8" y1="619.1" x2="618.8" y2="612.1" stroke="#000" stroke-width="1.8"/>
<line x1="618.8" y1="3.5" x2="618.8" y2="10.5" stroke="#000" stroke-width="1.8"/>
<line x1="662.2" y1="619.1" x2="662.2" y2="605.6" stroke="#000" stroke-width="1.8"/>
<line x1="662.2" y1="3.5" x2="662.2" y2="17.0" stroke="#000" stroke-width="1.8"/>
<line x1="705.6" y1="619.1" x2="705.6" y2="612.1" stroke="#000" stroke-width="1.8"/>
<line x1="705.6" y1="3.5" x2="705.6" y2="10.5" stroke="#000" stroke-width="1.8"/>
<line x1="749.1" y1="619.1" x2="749.1" y2="605.6" stroke="#000" stroke-width="1.8"/>
<line x1="749.1" y1="3.5" x2="749.1" y2="17.0" stroke="#000" stroke-width="1.8"/>
<line x1="792.5" y1="619.1" x2="792.5" y2="612.1" stroke="#000" stroke-width="1.8"/>
<line x1="792.5" y1="3.5" x2="792.5" y2="10.5" stroke="#000" stroke-width="1.8"/>
<line x1="836.0" y1="619.1" x2="836.0" y2="605.6" stroke="#000" stroke-width="1.8"/>
<line x1="836.0" y1="3.5" x2="836.0" y2="17.0" stroke="#000" stroke-width="1.8"/>
<line x1="879.5" y1="619.1" x2="879.5" y2="612.1" stroke="#000" stroke-width="1.8"/>
<line x1="879.5" y1="3.5" x2="879.5" y2="10.5" stroke="#000" stroke-width="1.8"/>
<line x1="922.9" y1="619.1" x2="922.9" y2="605.6" stroke="#000" stroke-width="1.8"/>
<line x1="922.9" y1="3.5" x2="922.9" y2="17.0" stroke="#000" stroke-width="1.8"/>
<line x1="966.3" y1="619.1" x2="966.3" y2="612.1" stroke="#000" stroke-width="1.8"/>
<line x1="966.3" y1="3.5" x2="966.3" y2="10.5" stroke="#000" stroke-width="1.8"/>
<line x1="142.3" y1="619.1" x2="155.8" y2="619.1" stroke="#000" stroke-width="1.8"/>
<line x1="1009.6" y1="619.1" x2="996.1" y2="619.1" stroke="#000" stroke-width="1.8"/>
<line x1="142.3" y1="586.7" x2="149.3" y2="586.7" stroke="#000" stroke-width="1.8"/>
<line x1="1009.6" y1="586.7" x2="1002.6" y2="586.7" stroke="#000" stroke-width="1.8"/>
<line x1="142.3" y1="554.3" x2="155.8" y2="554.3" stroke="#000" stroke-width="1.8"/>
<line x1="1009.6" y1="554.3" x2="996.1" y2="554.3" stroke="#000" stroke-width="1.8"/>
<line x1="142.3" y1="521.9" x2="149.3" y2="521.9" stroke="#000" stroke-width="1.8"/>
<line x1="1009.6" y1="521.9" x2="1002.6" y2="521.9" stroke="#000" stroke-width="1.8"/>
<line x1="142.3" y1="489.5" x2="155.8" y2="489.5" stroke="#000" stroke-width="1.8"/>
<line x1="1009.6" y1="489.5" x2="996.1" y2="489.5" stroke="#000" stroke-width="1.8"/>
<line x1="142.3" y1="457.1" x2="149.3" y2="457.1" stroke="#000" stroke-width="1.8"/>
<line x1="1009.6" y1="457.1" x2="1002.6" y2="457.1" stroke="#000" stroke-width="1.8"/>
<line x1="142.3" y1="424.7" x2="155.8" y2="424.7" stroke="#000" stroke-width="1.8"/>
<line x1="1009.6" y1="424.7" x2="996.1" y2="424.7" stroke="#000" stroke-width="1.8"/>
<line x1="142.3" y1="392.3" x2="149.3" y2="392.3" stroke="#000" stroke-width="1.8"/>
<line x1="1009.6" y1="392.3" x2="1002.6" y2="392.3" stroke="#000" stroke-width="1.8"/>
<line x1="142.3" y1="359.9" x2="155.8" y2="359.9" stroke="#000" stroke-width="1.8"/>
<line x1="1009.6" y1="359.9" x2="996.1" y2="359.9" stroke="#000" stroke-width="1.8"/>
<line x1="142.3" y1="327.5" x2="149.3" y2="327.5" stroke="#000" stroke-width="1.8"/>
<line x1="1009.6" y1="327.5" x2="1002.6" y2="327.5" stroke="#000" stroke-width="1.8"/>
<line x1="142.3" y1="295.1" x2="155.8" y2="295.1" stroke="#000" stroke-width="1.8"/>
<line x1="1009.6" y1="295.1" x2="996.1" y2="295.1" stroke="#000" stroke-width="1.8"/>
<line x1="142.3" y1="262.7" x2="149.3" y2="262.7" stroke="#000" stroke-width="1.8"/>
<line x1="1009.6" y1="262.7" x2="1002.6" y2="262.7" stroke="#000" stroke-width="1.8"/>
<line x1="142.3" y1="230.3" x2="155.8" y2="230.3" stroke="#000" stroke-width="1.8"/>
<line x1="1009.6" y1="230.3" x2="996.1" y2="230.3" stroke="#000" stroke-width="1.8"/>
<line x1="142.3" y1="197.9" x2="149.3" y2="197.9" stroke="#000" stroke-width="1.8"/>
<line x1="1009.6" y1="197.9" x2="1002.6" y2="197.9" stroke="#000" stroke-width="1.8"/>
<line x1="142.3" y1="165.5" x2="155.8" y2="165.5" stroke="#000" stroke-width="1.8"/>
<line x1="1009.6" y1="165.5" x2="996.1" y2="165.5" stroke="#000" stroke-width="1.8"/>
<line x1="142.3" y1="133.1" x2="149.3" y2="133.1" stroke="#000" stroke-width="1.8"/>
<line x1="1009.6" y1="133.1" x2="1002.6" y2="133.1" stroke="#000" stroke-width="1.8"/>
<line x1="142.3" y1="100.7" x2="155.8" y2="100.7" stroke="#000" stroke-width="1.8"/>
<line x1="1009.6" y1="100.7" x2="996.1" y2="100.7" stroke="#000" stroke-width="1.8"/>
<line x1="142.3" y1="68.3" x2="149.3" y2="68.3" stroke="#000" stroke-width="1.8"/>
<line x1="1009.6" y1="68.3" x2="1002.6" y2="68.3" stroke="#000" stroke-width="1.8"/>
<line x1="142.3" y1="35.9" x2="155.8" y2="35.9" stroke="#000" stroke-width="1.8"/>
<line x1="1009.6" y1="35.9" x2="996.1" y2="35.9" stroke="#000" stroke-width="1.8"/>
<text x="126.5" y="629.6" font-family='"Liberation Sans", sans-serif' font-size="36" font-weight="bold" font-style="normal" text-anchor="end" fill="#000" >0.94</text>
<text x="126.5" y="564.8" font-family='"Liberation Sans", sans-serif' font-size="36" font-weight="bold" font-style="normal" text-anchor="end" fill="#000" >0.95</text>
<text x="126.5" y="500.0" font-family='"Liberation Sans", sans-serif' font-size="36" font-weight="bold" font-style="normal" text-anchor="end" fill="#000" >0.96</text>
<text x="126.5" y="435.2" font-family='"Liberation Sans", sans-serif' font-size="36" font-weight="bold" font-style="normal" text-anchor="end" fill="#000" >0.97</text>
<text x="126.5" y="370.4" font-family='"Liberation Sans", sans-serif' font-size="36" font-weight="bold" font-style="normal" text-anchor="end" fill="#000" >0.98</text>
<text x="126.5" y="305.6" font-family='"Liberation Sans", sans-serif' font-size="36" font-weight="bold" font-style="normal" text-anchor="end" fill="#000" >0.99</text>
<text x="126.5" y="240.8" font-family='"Liberation Sans", sans-serif' font-size="36" font-weight="bold" font-style="normal" text-anchor="end" fill="#000" >1.00</text>
<text x="126.5" y="176.0" font-family='"Liberation Sans", sans-serif' font-size="36" font-weight="bold" font-style="normal" text-anchor="end" fill="#000" >1.01</text>
<text x="126.5" y="111.2" font-family='"Liberation Sans", sans-serif' font-size="36" font-weight="bold" font-style="normal" text-anchor="end" fill="#000" >1.02</text>
<text x="126.5" y="46.4" font-family='"Liberation Sans", sans-serif' font-size="36" font-weight="bold" font-style="normal" text-anchor="end" fill="#000" >1.03</text>
<text x="227.7" y="663.0" font-family='"Liberation Sans", sans-serif' font-size="36" font-weight="bold" font-style="normal" text-anchor="middle" fill="#000" >&#8722;8</text>
<text x="314.6" y="663.0" font-family='"Liberation Sans", sans-serif' font-size="36" font-weight="bold" font-style="normal" text-anchor="middle" fill="#000" >&#8722;6</text>
<text x="401.5" y="663.0" font-family='"Liberation Sans", sans-serif' font-size="36" font-weight="bold" font-style="normal" text-anchor="middle" fill="#000" >&#8722;4</text>
<text x="488.4" y="663.0" font-family='"Liberation Sans", sans-serif' font-size="36" font-weight="bold" font-style="normal" text-anchor="middle" fill="#000" >&#8722;2</text>
<text x="575.3" y="663.0" font-family='"Liberation Sans", sans-serif' font-size="36" font-weight="bold" font-style="normal" text-anchor="middle" fill="#000" >0</text>
<text x="662.2" y="663.0" font-family='"Liberation Sans", sans-serif' font-size="36" font-weight="bold" font-style="normal" text-anchor="middle" fill="#000" >2</text>
<text x="749.1" y="663.0" font-family='"Liberation Sans", sans-serif' font-size="36" font-weight="bold" font-style="normal" text-anchor="middle" fill="#000" >4</text>
<text x="836.0" y="663.0" font-family='"Liberation Sans", sans-serif' font-size="36" font-weight="bold" font-style="normal" text-anchor="middle" fill="#000" >6</text>
<text x="922.9" y="663.0" font-family='"Liberation Sans", sans-serif' font-size="36" font-weight="bold" font-style="normal" text-anchor="middle" fill="#000" >8</text>
<text x="171.0" y="65.0" font-family='"Liberation Sans", sans-serif' font-size="36" font-weight="bold" font-style="normal" text-anchor="start" fill="#000" >a) Lu<tspan font-size="24" dy="9">2</tspan><tspan dy="-9">Ir</tspan><tspan font-size="24" dy="9">2</tspan><tspan dy="-9">O</tspan><tspan font-size="24" dy="9">7</tspan></text>
<text x="210.5" y="119.5" font-family='"Liberation Sans", sans-serif' font-size="36" font-weight="bold" font-style="normal" text-anchor="start" fill="#000" >9 T FC</text>
<text x="210.5" y="164.5" font-family='"Liberation Sans", sans-serif' font-size="36" font-weight="bold" font-style="normal" text-anchor="start" fill="#000" >2 K</text>
<text x="807.0" y="325.0" font-family='"Liberation Sans", sans-serif' font-size="36" font-weight="bold" font-style="normal" text-anchor="start" fill="#000" >0.5 GPa</text>
<path fill="#ff0000" d="M762.8 308.2h8.5v8.5h-8.5z"/>
<text x="807.0" y="371.0" font-family='"Liberation Sans", sans-serif' font-size="36" font-weight="bold" font-style="normal" text-anchor="start" fill="#000" >1.0 GPa</text>
<circle cx="767.0" cy="358.5" r="4.8" fill="#00ff00"/>
<text x="807.0" y="417.0" font-family='"Liberation Sans", sans-serif' font-size="36" font-weight="bold" font-style="normal" text-anchor="start" fill="#000" >1.5 GPa</text>
<path fill="#0000ff" d="M767.0 398.2L773.0 409.6L761.0 409.6z"/>
<text x="807.0" y="463.0" font-family='"Liberation Sans", sans-serif' font-size="36" font-weight="bold" font-style="normal" text-anchor="start" fill="#000" >2.0 GPa</text>
<path fill="#00ffff" d="M767.0 456.8L773.0 445.4L761.0 445.4z"/>
<text x="807.0" y="509.0" font-family='"Liberation Sans", sans-serif' font-size="36" font-weight="bold" font-style="normal" text-anchor="start" fill="#000" >2.5 GPa</text>
<path fill="#ff00ff" d="M767.0 490.5L773.0 496.5L767.0 502.5L761.0 496.5z"/>
<text x="807.0" y="555.0" font-family='"Liberation Sans", sans-serif' font-size="36" font-weight="bold" font-style="normal" text-anchor="start" fill="#000" >3.0 GPa</text>
<path fill="#800080" d="M760.7 542.5L772.1 536.5L772.1 548.5z"/>
<text x="518" y="710" font-family='"Liberation Sans", sans-serif' font-size="36" fill="#000">&#956;<tspan font-size="22" dy="7">0</tspan><tspan dy="-7" font-weight="bold" font-style="italic">H</tspan><tspan font-weight="bold" font-size="34"> (T)</tspan></text>
<text transform="translate(35,342) rotate(-90)" font-family='"Liberation Serif", serif' font-size="41" font-style="italic" fill="#000">&#961;<tspan font-size="36">/</tspan>&#961;<tspan font-family='"Liberation Sans", sans-serif' font-style="normal" font-size="24" dy="6">0</tspan></text>
<rect x="142.2" y="742.5" width="390.6" height="307.7" fill="none" stroke="#000" stroke-width="2.1"/>
<line x1="153.2" y1="1050.2" x2="153.2" y2="1037.2" stroke="#000" stroke-width="1.8"/>
<line x1="153.2" y1="742.5" x2="153.2" y2="755.5" stroke="#000" stroke-width="1.8"/>
<line x1="211.3" y1="1050.2" x2="211.3" y2="1043.2" stroke="#000" stroke-width="1.8"/>
<line x1="211.3" y1="742.5" x2="211.3" y2="749.5" stroke="#000" stroke-width="1.8"/>
<line x1="269.4" y1="1050.2" x2="269.4" y2="1037.2" stroke="#000" stroke-width="1.8"/>
<line x1="269.4" y1="742.5" x2="269.4" y2="755.5" stroke="#000" stroke-width="1.8"/>
<line x1="327.5" y1="1050.2" x2="327.5" y2="1043.2" stroke="#000" stroke-width="1.8"/>
<line x1="327.5" y1="742.5" x2="327.5" y2="749.5" stroke="#000" stroke-width="1.8"/>
<line x1="385.5" y1="1050.2" x2="385.5" y2="1037.2" stroke="#000" stroke-width="1.8"/>
<line x1="385.5" y1="742.5" x2="385.5" y2="755.5" stroke="#000" stroke-width="1.8"/>
<line x1="443.6" y1="1050.2" x2="443.6" y2="1043.2" stroke="#000" stroke-width="1.8"/>
<line x1="443.6" y1="742.5" x2="443.6" y2="749.5" stroke="#000" stroke-width="1.8"/>
<line x1="501.7" y1="1050.2" x2="501.7" y2="1037.2" stroke="#000" stroke-width="1.8"/>
<line x1="501.7" y1="742.5" x2="501.7" y2="755.5" stroke="#000" stroke-width="1.8"/>
<line x1="142.2" y1="1050.2" x2="155.2" y2="1050.2" stroke="#000" stroke-width="1.8"/>
<line x1="532.8" y1="1050.2" x2="519.8" y2="1050.2" stroke="#000" stroke-width="1.8"/>
<line x1="142.2" y1="1019.4" x2="149.2" y2="1019.4" stroke="#000" stroke-width="1.8"/>
<line x1="532.8" y1="1019.4" x2="525.8" y2="1019.4" stroke="#000" stroke-width="1.8"/>
<line x1="142.2" y1="988.7" x2="155.2" y2="988.7" stroke="#000" stroke-width="1.8"/>
<line x1="532.8" y1="988.7" x2="519.8" y2="988.7" stroke="#000" stroke-width="1.8"/>
<line x1="142.2" y1="957.9" x2="149.2" y2="957.9" stroke="#000" stroke-width="1.8"/>
<line x1="532.8" y1="957.9" x2="525.8" y2="957.9" stroke="#000" stroke-width="1.8"/>
<line x1="142.2" y1="927.1" x2="155.2" y2="927.1" stroke="#000" stroke-width="1.8"/>
<line x1="532.8" y1="927.1" x2="519.8" y2="927.1" stroke="#000" stroke-width="1.8"/>
<line x1="142.2" y1="896.4" x2="149.2" y2="896.4" stroke="#000" stroke-width="1.8"/>
<line x1="532.8" y1="896.4" x2="525.8" y2="896.4" stroke="#000" stroke-width="1.8"/>
<line x1="142.2" y1="865.6" x2="155.2" y2="865.6" stroke="#000" stroke-width="1.8"/>
<line x1="532.8" y1="865.6" x2="519.8" y2="865.6" stroke="#000" stroke-width="1.8"/>
<line x1="142.2" y1="834.8" x2="149.2" y2="834.8" stroke="#000" stroke-width="1.8"/>
<line x1="532.8" y1="834.8" x2="525.8" y2="834.8" stroke="#000" stroke-width="1.8"/>
<line x1="142.2" y1="804.0" x2="155.2" y2="804.0" stroke="#000" stroke-width="1.8"/>
<line x1="532.8" y1="804.0" x2="519.8" y2="804.0" stroke="#000" stroke-width="1.8"/>
<line x1="142.2" y1="773.3" x2="149.2" y2="773.3" stroke="#000" stroke-width="1.8"/>
<line x1="532.8" y1="773.3" x2="525.8" y2="773.3" stroke="#000" stroke-width="1.8"/>
<line x1="142.2" y1="742.5" x2="155.2" y2="742.5" stroke="#000" stroke-width="1.8"/>
<line x1="532.8" y1="742.5" x2="519.8" y2="742.5" stroke="#000" stroke-width="1.8"/>
<text x="126.5" y="1061.0" font-family='"Liberation Sans", sans-serif' font-size="36" font-weight="bold" font-style="normal" text-anchor="end" fill="#000" >0</text>
<text x="126.5" y="999.5" font-family='"Liberation Sans", sans-serif' font-size="36" font-weight="bold" font-style="normal" text-anchor="end" fill="#000" >10</text>
<text x="126.5" y="937.9" font-family='"Liberation Sans", sans-serif' font-size="36" font-weight="bold" font-style="normal" text-anchor="end" fill="#000" >20</text>
<text x="126.5" y="876.4" font-family='"Liberation Sans", sans-serif' font-size="36" font-weight="bold" font-style="normal" text-anchor="end" fill="#000" >30</text>
<text x="126.5" y="814.8" font-family='"Liberation Sans", sans-serif' font-size="36" font-weight="bold" font-style="normal" text-anchor="end" fill="#000" >40</text>
<text x="126.5" y="753.3" font-family='"Liberation Sans", sans-serif' font-size="36" font-weight="bold" font-style="normal" text-anchor="end" fill="#000" >50</text>
<text x="153.2" y="1094.0" font-family='"Liberation Sans", sans-serif' font-size="36" font-weight="bold" font-style="normal" text-anchor="middle" fill="#000" >0</text>
<text x="269.4" y="1094.0" font-family='"Liberation Sans", sans-serif' font-size="36" font-weight="bold" font-style="normal" text-anchor="middle" fill="#000" >1</text>
<text x="385.5" y="1094.0" font-family='"Liberation Sans", sans-serif' font-size="36" font-weight="bold" font-style="normal" text-anchor="middle" fill="#000" >2</text>
<text x="501.7" y="1094.0" font-family='"Liberation Sans", sans-serif' font-size="36" font-weight="bold" font-style="normal" text-anchor="middle" fill="#000" >3</text>
<text x="164.0" y="794.5" font-family='"Liberation Sans", sans-serif' font-size="36" font-weight="bold" font-style="normal" text-anchor="start" fill="#000" >b) 2 K</text>
<rect x="540.9" y="742.5" width="390.1" height="307.7" fill="none" stroke="#000" stroke-width="2.1"/>
<line x1="552.9" y1="1050.2" x2="552.9" y2="1037.2" stroke="#000" stroke-width="1.8"/>
<line x1="552.9" y1="742.5" x2="552.9" y2="755.5" stroke="#000" stroke-width="1.8"/>
<line x1="610.9" y1="1050.2" x2="610.9" y2="1043.2" stroke="#000" stroke-width="1.8"/>
<line x1="610.9" y1="742.5" x2="610.9" y2="749.5" stroke="#000" stroke-width="1.8"/>
<line x1="668.8" y1="1050.2" x2="668.8" y2="1037.2" stroke="#000" stroke-width="1.8"/>
<line x1="668.8" y1="742.5" x2="668.8" y2="755.5" stroke="#000" stroke-width="1.8"/>
<line x1="726.8" y1="1050.2" x2="726.8" y2="1043.2" stroke="#000" stroke-width="1.8"/>
<line x1="726.8" y1="742.5" x2="726.8" y2="749.5" stroke="#000" stroke-width="1.8"/>
<line x1="784.7" y1="1050.2" x2="784.7" y2="1037.2" stroke="#000" stroke-width="1.8"/>
<line x1="784.7" y1="742.5" x2="784.7" y2="755.5" stroke="#000" stroke-width="1.8"/>
<line x1="842.6" y1="1050.2" x2="842.6" y2="1043.2" stroke="#000" stroke-width="1.8"/>
<line x1="842.6" y1="742.5" x2="842.6" y2="749.5" stroke="#000" stroke-width="1.8"/>
<line x1="900.6" y1="1050.2" x2="900.6" y2="1037.2" stroke="#000" stroke-width="1.8"/>
<line x1="900.6" y1="742.5" x2="900.6" y2="755.5" stroke="#000" stroke-width="1.8"/>
<line x1="540.9" y1="1050.2" x2="553.9" y2="1050.2" stroke="#000" stroke-width="1.8"/>
<line x1="931.0" y1="1050.2" x2="918.0" y2="1050.2" stroke="#000" stroke-width="1.8"/>
<line x1="540.9" y1="1002.9" x2="547.9" y2="1002.9" stroke="#000" stroke-width="1.8"/>
<line x1="931.0" y1="1002.9" x2="924.0" y2="1002.9" stroke="#000" stroke-width="1.8"/>
<line x1="540.9" y1="955.6" x2="553.9" y2="955.6" stroke="#000" stroke-width="1.8"/>
<line x1="931.0" y1="955.6" x2="918.0" y2="955.6" stroke="#000" stroke-width="1.8"/>
<line x1="540.9" y1="908.2" x2="547.9" y2="908.2" stroke="#000" stroke-width="1.8"/>
<line x1="931.0" y1="908.2" x2="924.0" y2="908.2" stroke="#000" stroke-width="1.8"/>
<line x1="540.9" y1="860.9" x2="553.9" y2="860.9" stroke="#000" stroke-width="1.8"/>
<line x1="931.0" y1="860.9" x2="918.0" y2="860.9" stroke="#000" stroke-width="1.8"/>
<line x1="540.9" y1="813.6" x2="547.9" y2="813.6" stroke="#000" stroke-width="1.8"/>
<line x1="931.0" y1="813.6" x2="924.0" y2="813.6" stroke="#000" stroke-width="1.8"/>
<line x1="540.9" y1="766.3" x2="553.9" y2="766.3" stroke="#000" stroke-width="1.8"/>
<line x1="931.0" y1="766.3" x2="918.0" y2="766.3" stroke="#000" stroke-width="1.8"/>
<text x="947.0" y="1061.7" font-family='"Liberation Sans", sans-serif' font-size="36" font-weight="bold" font-style="normal" text-anchor="start" fill="#000" >0</text>
<text x="947.0" y="967.1" font-family='"Liberation Sans", sans-serif' font-size="36" font-weight="bold" font-style="normal" text-anchor="start" fill="#000" >2</text>
<text x="947.0" y="872.4" font-family='"Liberation Sans", sans-serif' font-size="36" font-weight="bold" font-style="normal" text-anchor="start" fill="#000" >4</text>
<text x="947.0" y="777.8" font-family='"Liberation Sans", sans-serif' font-size="36" font-weight="bold" font-style="normal" text-anchor="start" fill="#000" >6</text>
<text x="552.9" y="1094.0" font-family='"Liberation Sans", sans-serif' font-size="36" font-weight="bold" font-style="normal" text-anchor="middle" fill="#000" >0</text>
<text x="668.8" y="1094.0" font-family='"Liberation Sans", sans-serif' font-size="36" font-weight="bold" font-style="normal" text-anchor="middle" fill="#000" >1</text>
<text x="784.7" y="1094.0" font-family='"Liberation Sans", sans-serif' font-size="36" font-weight="bold" font-style="normal" text-anchor="middle" fill="#000" >2</text>
<text x="900.6" y="1094.0" font-family='"Liberation Sans", sans-serif' font-size="36" font-weight="bold" font-style="normal" text-anchor="middle" fill="#000" >3</text>
<text x="563.0" y="794.0" font-family='"Liberation Sans", sans-serif' font-size="36" font-weight="bold" font-style="normal" text-anchor="start" fill="#000" >c) 50 K</text>
<text x="274.0" y="1143" font-family='"Liberation Sans", sans-serif' font-size="35" font-weight="bold" fill="#000"><tspan font-style="italic">P</tspan> (GPa)</text>
<text x="674.0" y="1143" font-family='"Liberation Sans", sans-serif' font-size="35" font-weight="bold" fill="#000"><tspan font-style="italic">P</tspan> (GPa)</text>
<text transform="translate(70,977) rotate(-90)" font-family='"Liberation Sans", sans-serif' font-size="36" font-weight="bold" fill="#000"><tspan font-family='"Liberation Serif", serif' font-style="italic" font-weight="normal" font-size="40">&#945;</tspan> (10<tspan font-size="24" dy="-17">-4</tspan><tspan dy="17">T</tspan><tspan font-size="24" dy="-17">-1</tspan><tspan dy="17">)</tspan></text>
<text transform="translate(1010,977) rotate(-90)" font-family='"Liberation Sans", sans-serif' font-size="36" font-weight="bold" fill="#000"><tspan font-family='"Liberation Serif", serif' font-style="italic" font-weight="normal" font-size="40">&#945;</tspan> (10<tspan font-size="24" dy="-17">-4</tspan><tspan dy="17">T</tspan><tspan font-size="24" dy="-17">-1</tspan><tspan dy="17">)</tspan></text>
<line x1="212.3" y1="940.0" x2="212.3" y2="961.2" stroke="#000" stroke-width="1.6"/>
<line x1="212.3" y1="979.2" x2="212.3" y2="1001.6" stroke="#000" stroke-width="1.6"/>
<line x1="205.3" y1="940.0" x2="219.3" y2="940.0" stroke="#000" stroke-width="1.8"/>
<line x1="205.3" y1="1001.6" x2="219.3" y2="1001.6" stroke="#000" stroke-width="1.8"/>
<rect x="204.8" y="963.2" width="15" height="14" fill="#000"/>
<line x1="270.4" y1="890.2" x2="270.4" y2="906.4" stroke="#000" stroke-width="1.6"/>
<line x1="270.4" y1="924.4" x2="270.4" y2="940.0" stroke="#000" stroke-width="1.6"/>
<line x1="263.4" y1="890.2" x2="277.4" y2="890.2" stroke="#000" stroke-width="1.8"/>
<line x1="263.4" y1="940.0" x2="277.4" y2="940.0" stroke="#000" stroke-width="1.8"/>
<rect x="262.9" y="908.4" width="15" height="14" fill="#000"/>
<line x1="328.5" y1="853.9" x2="328.5" y2="861.5" stroke="#000" stroke-width="1.6"/>
<line x1="328.5" y1="879.5" x2="328.5" y2="889.6" stroke="#000" stroke-width="1.6"/>
<line x1="321.5" y1="853.9" x2="335.5" y2="853.9" stroke="#000" stroke-width="1.8"/>
<line x1="321.5" y1="889.6" x2="335.5" y2="889.6" stroke="#000" stroke-width="1.8"/>
<rect x="321.0" y="863.5" width="15" height="14" fill="#000"/>
<line x1="386.5" y1="797.9" x2="386.5" y2="801.2" stroke="#000" stroke-width="1.6"/>
<line x1="386.5" y1="819.2" x2="386.5" y2="822.5" stroke="#000" stroke-width="1.6"/>
<line x1="379.5" y1="797.9" x2="393.5" y2="797.9" stroke="#000" stroke-width="1.8"/>
<line x1="379.5" y1="822.5" x2="393.5" y2="822.5" stroke="#000" stroke-width="1.8"/>
<rect x="379.0" y="803.2" width="15" height="14" fill="#000"/>
<line x1="444.6" y1="780.0" x2="444.6" y2="782.7" stroke="#000" stroke-width="1.6"/>
<line x1="444.6" y1="800.7" x2="444.6" y2="804.7" stroke="#000" stroke-width="1.6"/>
<line x1="437.6" y1="780.0" x2="451.6" y2="780.0" stroke="#000" stroke-width="1.8"/>
<line x1="437.6" y1="804.7" x2="451.6" y2="804.7" stroke="#000" stroke-width="1.8"/>
<rect x="437.1" y="784.7" width="15" height="14" fill="#000"/>
<line x1="502.7" y1="761.0" x2="502.7" y2="764.3" stroke="#000" stroke-width="1.6"/>
<line x1="502.7" y1="782.3" x2="502.7" y2="785.6" stroke="#000" stroke-width="1.6"/>
<line x1="495.7" y1="761.0" x2="509.7" y2="761.0" stroke="#000" stroke-width="1.8"/>
<line x1="495.7" y1="785.6" x2="509.7" y2="785.6" stroke="#000" stroke-width="1.8"/>
<rect x="495.2" y="766.3" width="15" height="14" fill="#000"/>
<rect x="604.4" y="853.0" width="15" height="14" fill="#000"/>
<line x1="606.9" y1="869.5" x2="616.9" y2="869.5" stroke="#000" stroke-width="1.4"/>
<rect x="662.3" y="824.6" width="15" height="14" fill="#000"/>
<line x1="664.8" y1="841.1" x2="674.8" y2="841.1" stroke="#000" stroke-width="1.4"/>
<rect x="720.2" y="815.1" width="15" height="14" fill="#000"/>
<line x1="722.8" y1="831.6" x2="732.8" y2="831.6" stroke="#000" stroke-width="1.4"/>
<rect x="778.2" y="795.2" width="15" height="14" fill="#000"/>
<line x1="780.7" y1="811.7" x2="790.7" y2="811.7" stroke="#000" stroke-width="1.4"/>
<rect x="836.1" y="786.7" width="15" height="14" fill="#000"/>
<line x1="838.6" y1="803.2" x2="848.6" y2="803.2" stroke="#000" stroke-width="1.4"/>
<rect x="894.1" y="786.7" width="15" height="14" fill="#000"/>
<line x1="896.6" y1="803.2" x2="906.6" y2="803.2" stroke="#000" stroke-width="1.4"/>
<polygon points="153.6,1012.6 156.3,1019.1 163.3,1019.6 158.0,1024.2 159.6,1031.1 153.6,1027.4 147.6,1031.1 149.2,1024.2 143.9,1019.6 150.9,1019.1" fill="#f57f17"/>
<polygon points="553.7,938.6 556.4,945.1 563.4,945.6 558.1,950.2 559.7,957.1 553.7,953.4 547.7,957.1 549.3,950.2 544.0,945.6 551.0,945.1" fill="#f57f17"/>
<text x="565.5" y="1009" font-family='"Liberation Sans", sans-serif' font-size="36" font-weight="bold" fill="#f57f17">Eu<tspan font-size="24" dy="10">2</tspan><tspan dy="-10">Ir</tspan><tspan font-size="24" dy="10">2</tspan><tspan dy="-10" dx="1">O</tspan><tspan font-size="24" dy="10" dx="1">7</tspan><tspan dy="-10" dx="1"> [23]</tspan></text>
</svg></body></html>
